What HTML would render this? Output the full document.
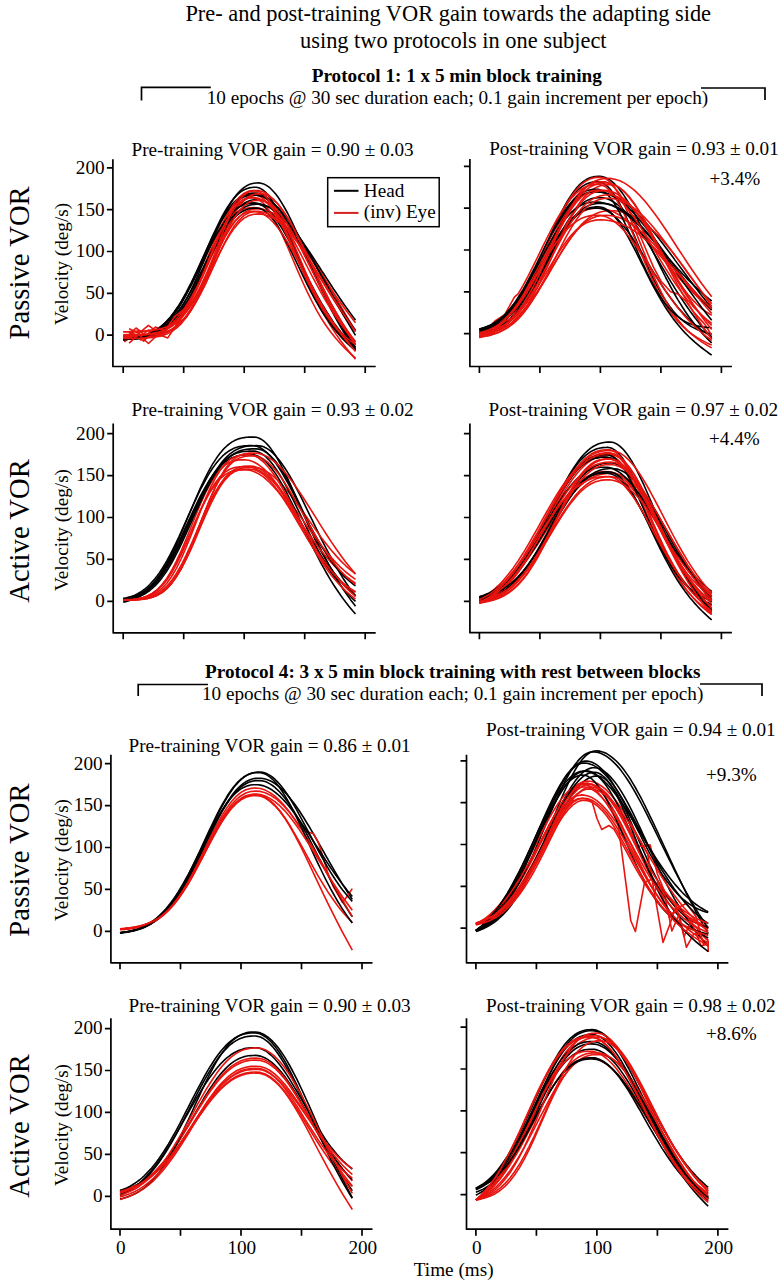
<!DOCTYPE html>
<html><head><meta charset="utf-8"><style>
html,body{margin:0;padding:0;background:#fff;width:780px;height:1280px;overflow:hidden;font-family:"Liberation Serif",serif;}
svg{display:block;}
</style></head><body>
<svg width="780" height="1280" viewBox="0 0 780 1280" font-family="Liberation Serif, serif" fill="#000">
<rect width="780" height="1280" fill="#fff"/>
<polyline points="123.2,339.4 125.6,339.4 128.0,339.3 130.5,339.2 132.9,339.1 135.3,338.9 137.7,338.7 140.1,338.5 142.6,338.2 145.0,337.8 147.4,337.4 149.8,336.8 152.2,336.2 154.7,335.4 157.1,334.5 159.5,333.4 161.9,332.2 164.3,330.8 166.8,329.1 169.2,327.3 171.6,325.2 174.0,322.8 176.4,320.2 178.9,317.3 181.3,314.1 183.7,310.6 186.1,306.9 188.5,302.8 191.0,298.5 193.4,293.9 195.8,289.1 198.2,284.1 200.6,278.9 203.1,273.6 205.5,268.1 207.9,262.5 210.3,257.0 212.7,251.4 215.2,245.9 217.6,240.6 220.0,235.3 222.4,230.3 224.8,225.5 227.3,221.0 229.7,216.8 232.1,213.0 234.5,209.5 236.9,206.4 239.4,203.7 241.8,201.4 244.2,199.5 246.6,197.9 249.0,196.8 251.5,196.0 253.9,195.5 256.3,195.2 258.7,195.2 261.1,195.6 263.6,196.5 266.0,198.0 268.4,200.1 270.8,202.7 273.2,205.8 275.7,209.4 278.1,213.4 280.5,217.8 282.9,222.5 285.3,227.5 287.8,232.7 290.2,238.1 292.6,243.7 295.0,249.3 297.4,255.0 299.9,260.7 302.3,266.4 304.7,272.0 307.1,277.4 309.5,282.7 312.0,287.9 314.4,292.8 316.8,297.5 319.2,302.0 321.6,306.3 324.1,310.3 326.5,314.2 328.9,317.7 331.3,321.1 333.7,324.2 336.2,327.2 338.6,329.9 341.0,332.5 343.4,334.9 345.8,337.1 348.3,339.2 350.7,341.2 353.1,343.1 355.5,344.9" fill="none" stroke="#000" stroke-width="1.6" stroke-linejoin="round"/>
<polyline points="124.3,341.8 134.0,334.4 143.7,341.2 153.3,330.7 163.0,334.4 172.7,321.7 186.1,308.5 191.0,300.3 195.8,291.0 200.6,280.9 205.5,270.2 210.3,259.3 215.2,248.6 220.0,238.5 224.8,229.5 229.7,221.9 234.5,215.9 239.4,211.5 244.2,208.9 249.0,207.7 253.9,207.5 258.7,208.1 263.6,209.5 268.4,211.8 273.2,214.7 278.1,218.4 282.9,222.8 287.8,227.9 292.6,233.5 297.4,239.7 302.3,246.2 307.1,253.1 312.0,260.2 316.8,267.4 321.6,274.7 326.5,282.0 331.3,289.3 336.2,296.4 341.0,303.3 345.8,310.0 350.7,316.5 355.5,322.8" fill="none" stroke="#e8140f" stroke-width="1.6" stroke-linejoin="round"/>
<polyline points="123.2,339.4 125.6,339.3 128.0,339.1 130.5,338.9 132.9,338.6 135.3,338.3 137.7,337.9 140.1,337.5 142.6,336.9 145.0,336.2 147.4,335.5 149.8,334.5 152.2,333.5 154.7,332.3 157.1,330.8 159.5,329.2 161.9,327.4 164.3,325.3 166.8,323.0 169.2,320.5 171.6,317.7 174.0,314.6 176.4,311.2 178.9,307.5 181.3,303.6 183.7,299.4 186.1,294.9 188.5,290.2 191.0,285.3 193.4,280.1 195.8,274.8 198.2,269.4 200.6,263.8 203.1,258.2 205.5,252.6 207.9,246.9 210.3,241.4 212.7,235.9 215.2,230.6 217.6,225.5 220.0,220.5 222.4,215.9 224.8,211.6 227.3,207.5 229.7,203.9 232.1,200.5 234.5,197.6 236.9,195.1 239.4,192.9 241.8,191.1 244.2,189.7 246.6,188.7 249.0,187.9 251.5,187.5 253.9,187.3 256.3,187.3 258.7,187.8 261.1,188.8 263.6,190.5 266.0,192.7 268.4,195.4 270.8,198.7 273.2,202.4 275.7,206.6 278.1,211.1 280.5,216.0 282.9,221.2 285.3,226.6 287.8,232.3 290.2,238.1 292.6,244.0 295.0,249.9 297.4,255.9 299.9,261.8 302.3,267.7 304.7,273.4 307.1,279.0 309.5,284.5 312.0,289.7 314.4,294.8 316.8,299.6 319.2,304.2 321.6,308.5 324.1,312.7 326.5,316.6 328.9,320.2 331.3,323.7 333.7,326.9 336.2,330.0 338.6,332.9 341.0,335.5 343.4,338.1 345.8,340.5 348.3,342.7 350.7,344.9 353.1,347.0 355.5,348.9" fill="none" stroke="#000" stroke-width="1.6" stroke-linejoin="round"/>
<polyline points="128.9,331.8 138.6,338.2 148.3,330.0 157.9,335.2 167.6,324.3 177.3,323.8 186.1,311.4 191.0,304.3 195.8,296.2 200.6,287.1 205.5,277.2 210.3,267.0 215.2,256.6 220.0,246.6 224.8,237.3 229.7,229.0 234.5,222.0 239.4,216.5 244.2,212.5 249.0,210.1 253.9,209.0 258.7,208.9 263.6,209.5 268.4,211.0 273.2,213.2 278.1,216.3 282.9,220.0 287.8,224.5 292.6,229.9 297.4,235.9 302.3,242.5 307.1,249.7 312.0,257.2 316.8,265.1 321.6,273.2 326.5,281.5 331.3,289.9 336.2,298.2 341.0,306.6 345.8,314.9 350.7,323.1 355.5,331.1" fill="none" stroke="#e8140f" stroke-width="1.6" stroke-linejoin="round"/>
<polyline points="123.2,339.5 125.6,339.4 128.0,339.3 130.5,339.1 132.9,339.0 135.3,338.7 137.7,338.5 140.1,338.2 142.6,337.8 145.0,337.3 147.4,336.8 149.8,336.1 152.2,335.3 154.7,334.4 157.1,333.4 159.5,332.2 161.9,330.8 164.3,329.2 166.8,327.3 169.2,325.3 171.6,323.0 174.0,320.5 176.4,317.7 178.9,314.7 181.3,311.4 183.7,307.8 186.1,304.0 188.5,299.9 191.0,295.6 193.4,291.0 195.8,286.3 198.2,281.4 200.6,276.3 203.1,271.1 205.5,265.9 207.9,260.6 210.3,255.4 212.7,250.2 215.2,245.0 217.6,240.0 220.0,235.2 222.4,230.6 224.8,226.3 227.3,222.2 229.7,218.4 232.1,215.0 234.5,211.9 236.9,209.2 239.4,206.8 241.8,204.8 244.2,203.2 246.6,201.9 249.0,200.9 251.5,200.3 253.9,199.9 256.3,199.8 258.7,199.8 261.1,200.1 263.6,200.8 266.0,201.8 268.4,203.2 270.8,204.9 273.2,206.9 275.7,209.2 278.1,211.8 280.5,214.6 282.9,217.7 285.3,221.0 287.8,224.6 290.2,228.5 292.6,232.5 295.0,236.8 297.4,241.2 299.9,245.7 302.3,250.3 304.7,255.1 307.1,259.8 309.5,264.7 312.0,269.5 314.4,274.4 316.8,279.2 319.2,284.0 321.6,288.8 324.1,293.5 326.5,298.2 328.9,302.8 331.3,307.3 333.7,311.7 336.2,316.0 338.6,320.2 341.0,324.3 343.4,328.4 345.8,332.3 348.3,336.1 350.7,339.9 353.1,343.6 355.5,347.1" fill="none" stroke="#000" stroke-width="1.6" stroke-linejoin="round"/>
<polyline points="123.2,331.7 128.0,331.7 132.9,331.6 137.7,331.4 142.6,331.2 147.4,330.7 152.2,330.1 157.1,329.0 161.9,327.5 166.8,325.3 171.6,322.2 176.4,318.2 181.3,312.9 186.1,306.4 191.0,298.6 195.8,289.4 200.6,279.2 205.5,268.1 210.3,256.4 215.2,244.7 220.0,233.4 224.8,222.9 229.7,213.7 234.5,206.0 239.4,200.2 244.2,196.1 249.0,193.8 253.9,193.0 258.7,193.3 263.6,195.9 268.4,200.6 273.2,207.3 278.1,215.6 282.9,225.2 287.8,235.9 292.6,247.2 297.4,258.8 302.3,270.2 307.1,281.2 312.0,291.6 316.8,301.3 321.6,310.0 326.5,317.9 331.3,325.0 336.2,331.2 341.0,336.8 345.8,341.7 350.7,346.2 355.5,350.4" fill="none" stroke="#e8140f" stroke-width="1.6" stroke-linejoin="round"/>
<polyline points="123.2,339.4 125.6,339.2 128.0,339.0 130.5,338.7 132.9,338.4 135.3,338.0 137.7,337.5 140.1,337.0 142.6,336.3 145.0,335.6 147.4,334.7 149.8,333.7 152.2,332.5 154.7,331.2 157.1,329.7 159.5,328.0 161.9,326.1 164.3,323.9 166.8,321.6 169.2,319.0 171.6,316.1 174.0,313.1 176.4,309.7 178.9,306.2 181.3,302.4 183.7,298.4 186.1,294.1 188.5,289.7 191.0,285.1 193.4,280.4 195.8,275.6 198.2,270.6 200.6,265.6 203.1,260.7 205.5,255.7 207.9,250.8 210.3,245.9 212.7,241.3 215.2,236.7 217.6,232.4 220.0,228.3 222.4,224.5 224.8,221.0 227.3,217.7 229.7,214.8 232.1,212.2 234.5,209.9 236.9,208.0 239.4,206.4 241.8,205.2 244.2,204.2 246.6,203.6 249.0,203.2 251.5,203.0 253.9,202.9 256.3,203.2 258.7,203.9 261.1,204.9 263.6,206.4 266.0,208.2 268.4,210.4 270.8,212.9 273.2,215.8 275.7,218.9 278.1,222.3 280.5,226.0 282.9,229.9 285.3,234.1 287.8,238.4 290.2,242.9 292.6,247.5 295.0,252.3 297.4,257.1 299.9,261.9 302.3,266.7 304.7,271.6 307.1,276.3 309.5,281.1 312.0,285.8 314.4,290.3 316.8,294.8 319.2,299.2 321.6,303.4 324.1,307.5 326.5,311.5 328.9,315.3 331.3,319.0 333.7,322.6 336.2,326.0 338.6,329.3 341.0,332.5 343.4,335.5 345.8,338.5 348.3,341.3 350.7,344.0 353.1,346.6 355.5,349.2" fill="none" stroke="#000" stroke-width="1.6" stroke-linejoin="round"/>
<polyline points="129.1,328.8 138.8,333.3 148.4,325.4 158.1,332.7 167.8,321.3 177.5,323.8 186.1,310.3 191.0,303.5 195.8,295.4 200.6,286.0 205.5,275.7 210.3,264.6 215.2,253.2 220.0,241.8 224.8,230.9 229.7,221.0 234.5,212.5 239.4,205.5 244.2,200.3 249.0,196.8 253.9,195.0 258.7,194.5 263.6,195.4 268.4,198.6 273.2,204.0 278.1,211.3 282.9,220.1 287.8,230.2 292.6,241.2 297.4,252.7 302.3,264.2 307.1,275.5 312.0,286.4 316.8,296.4 321.6,305.7 326.5,314.1 331.3,321.5 336.2,328.2 341.0,334.1 345.8,339.3 350.7,344.0 355.5,348.2" fill="none" stroke="#e8140f" stroke-width="1.6" stroke-linejoin="round"/>
<polyline points="123.2,339.4 125.6,339.3 128.0,339.1 130.5,339.0 132.9,338.7 135.3,338.5 137.7,338.2 140.1,337.8 142.6,337.3 145.0,336.8 147.4,336.2 149.8,335.4 152.2,334.5 154.7,333.4 157.1,332.2 159.5,330.8 161.9,329.2 164.3,327.4 166.8,325.4 169.2,323.1 171.6,320.5 174.0,317.7 176.4,314.6 178.9,311.2 181.3,307.5 183.7,303.6 186.1,299.3 188.5,294.8 191.0,290.0 193.4,285.0 195.8,279.8 198.2,274.4 200.6,268.8 203.1,263.1 205.5,257.4 207.9,251.6 210.3,245.8 212.7,240.1 215.2,234.4 217.6,228.9 220.0,223.6 222.4,218.5 224.8,213.6 227.3,209.1 229.7,204.8 232.1,201.0 234.5,197.5 236.9,194.3 239.4,191.6 241.8,189.3 244.2,187.4 246.6,185.8 249.0,184.6 251.5,183.8 253.9,183.3 256.3,183.0 258.7,182.9 261.1,183.2 263.6,183.9 266.0,185.1 268.4,186.7 270.8,188.7 273.2,191.2 275.7,194.1 278.1,197.3 280.5,200.9 282.9,204.8 285.3,209.0 287.8,213.5 290.2,218.3 292.6,223.3 295.0,228.6 297.4,233.9 299.9,239.4 302.3,245.0 304.7,250.7 307.1,256.4 309.5,262.1 312.0,267.7 314.4,273.4 316.8,278.9 319.2,284.4 321.6,289.7 324.1,294.9 326.5,300.0 328.9,305.0 331.3,309.8 333.7,314.4 336.2,319.0 338.6,323.3 341.0,327.6 343.4,331.6 345.8,335.6 348.3,339.4 350.7,343.1 353.1,346.7 355.5,350.1" fill="none" stroke="#000" stroke-width="1.6" stroke-linejoin="round"/>
<polyline points="123.2,336.9 128.0,336.8 132.9,336.6 137.7,336.4 142.6,335.9 147.4,335.2 152.2,334.2 157.1,332.7 161.9,330.5 166.8,327.5 171.6,323.5 176.4,318.4 181.3,312.1 186.1,304.4 191.0,295.4 195.8,285.3 200.6,274.2 205.5,262.6 210.3,250.8 215.2,239.2 220.0,228.4 224.8,218.7 229.7,210.4 234.5,203.8 239.4,199.1 244.2,196.1 249.0,194.7 253.9,194.4 258.7,195.7 263.6,198.9 268.4,203.9 273.2,210.4 278.1,218.3 282.9,227.4 287.8,237.3 292.6,248.0 297.4,258.9 302.3,269.9 307.1,280.7 312.0,291.1 316.8,301.0 321.6,310.3 326.5,318.9 331.3,326.9 336.2,334.4 341.0,341.2 345.8,347.6 350.7,353.6 355.5,359.3" fill="none" stroke="#e8140f" stroke-width="1.6" stroke-linejoin="round"/>
<polyline points="123.2,339.4 125.6,339.2 128.0,339.0 130.5,338.8 132.9,338.5 135.3,338.1 137.7,337.7 140.1,337.2 142.6,336.5 145.0,335.8 147.4,335.0 149.8,334.0 152.2,332.9 154.7,331.5 157.1,330.1 159.5,328.4 161.9,326.5 164.3,324.3 166.8,322.0 169.2,319.3 171.6,316.5 174.0,313.3 176.4,309.9 178.9,306.2 181.3,302.3 183.7,298.2 186.1,293.8 188.5,289.2 191.0,284.4 193.4,279.4 195.8,274.3 198.2,269.1 200.6,263.8 203.1,258.4 205.5,253.1 207.9,247.8 210.3,242.7 212.7,237.6 215.2,232.7 217.6,228.0 220.0,223.5 222.4,219.4 224.8,215.5 227.3,211.9 229.7,208.6 232.1,205.8 234.5,203.2 236.9,201.1 239.4,199.3 241.8,197.8 244.2,196.7 246.6,195.9 249.0,195.4 251.5,195.2 253.9,195.1 256.3,195.2 258.7,195.6 261.1,196.2 263.6,197.1 266.0,198.3 268.4,199.7 270.8,201.4 273.2,203.3 275.7,205.5 278.1,207.8 280.5,210.4 282.9,213.2 285.3,216.2 287.8,219.4 290.2,222.8 292.6,226.3 295.0,230.0 297.4,233.8 299.9,237.8 302.3,241.8 304.7,246.0 307.1,250.2 309.5,254.4 312.0,258.7 314.4,263.0 316.8,267.3 319.2,271.6 321.6,275.9 324.1,280.2 326.5,284.4 328.9,288.6 331.3,292.8 333.7,296.9 336.2,300.9 338.6,304.8 341.0,308.7 343.4,312.5 345.8,316.2 348.3,319.9 350.7,323.4 353.1,326.9 355.5,330.3" fill="none" stroke="#000" stroke-width="1.6" stroke-linejoin="round"/>
<polyline points="131.0,331.3 140.7,339.9 150.3,332.3 160.0,336.5 169.7,324.1 179.4,320.2 186.1,307.5 191.0,299.0 195.8,289.2 200.6,278.4 205.5,266.8 210.3,254.9 215.2,243.2 220.0,232.2 224.8,222.2 229.7,213.7 234.5,207.0 239.4,202.2 244.2,199.2 249.0,197.9 253.9,197.8 258.7,199.5 263.6,203.4 268.4,209.4 273.2,217.1 278.1,226.2 282.9,236.4 287.8,247.4 292.6,258.8 297.4,270.1 302.3,281.2 307.1,291.7 312.0,301.5 316.8,310.6 321.6,318.8 326.5,326.2 331.3,332.8 336.2,338.8 341.0,344.2 345.8,349.2 350.7,353.8 355.5,358.2" fill="none" stroke="#e8140f" stroke-width="1.6" stroke-linejoin="round"/>
<polyline points="123.2,339.5 125.6,339.4 128.0,339.3 130.5,339.1 132.9,338.9 135.3,338.7 137.7,338.4 140.1,338.0 142.6,337.6 145.0,337.0 147.4,336.4 149.8,335.7 152.2,334.8 154.7,333.8 157.1,332.7 159.5,331.4 161.9,329.9 164.3,328.2 166.8,326.3 169.2,324.2 171.6,321.9 174.0,319.3 176.4,316.5 178.9,313.4 181.3,310.1 183.7,306.5 186.1,302.8 188.5,298.8 191.0,294.6 193.4,290.2 195.8,285.6 198.2,280.9 200.6,276.1 203.1,271.3 205.5,266.4 207.9,261.5 210.3,256.6 212.7,251.8 215.2,247.1 217.6,242.6 220.0,238.3 222.4,234.1 224.8,230.3 227.3,226.7 229.7,223.4 232.1,220.4 234.5,217.7 236.9,215.4 239.4,213.4 241.8,211.8 244.2,210.5 246.6,209.5 249.0,208.7 251.5,208.3 253.9,208.1 256.3,208.0 258.7,208.3 261.1,209.0 263.6,210.3 266.0,212.0 268.4,214.1 270.8,216.7 273.2,219.7 275.7,223.1 278.1,226.8 280.5,230.8 282.9,235.0 285.3,239.5 287.8,244.2 290.2,249.1 292.6,254.1 295.0,259.1 297.4,264.2 299.9,269.4 302.3,274.4 304.7,279.4 307.1,284.4 309.5,289.2 312.0,293.8 314.4,298.4 316.8,302.7 319.2,306.9 321.6,310.9 324.1,314.8 326.5,318.4 328.9,321.9 331.3,325.2 333.7,328.3 336.2,331.3 338.6,334.1 341.0,336.8 343.4,339.4 345.8,341.8 348.3,344.1 350.7,346.3 353.1,348.5 355.5,350.6" fill="none" stroke="#000" stroke-width="1.6" stroke-linejoin="round"/>
<polyline points="123.2,335.9 128.0,335.9 132.9,335.8 137.7,335.7 142.6,335.6 147.4,335.3 152.2,334.9 157.1,334.1 161.9,333.1 166.8,331.5 171.6,329.2 176.4,326.1 181.3,322.0 186.1,316.8 191.0,310.3 195.8,302.6 200.6,293.8 205.5,284.1 210.3,273.6 215.2,262.9 220.0,252.4 224.8,242.4 229.7,233.4 234.5,225.8 239.4,219.8 244.2,215.4 249.0,212.8 253.9,211.6 258.7,211.4 263.6,212.2 268.4,213.9 273.2,216.6 278.1,220.2 282.9,224.6 287.8,229.8 292.6,235.7 297.4,242.3 302.3,249.4 307.1,256.9 312.0,264.6 316.8,272.5 321.6,280.4 326.5,288.3 331.3,296.1 336.2,303.7 341.0,311.1 345.8,318.3 350.7,325.1 355.5,331.7" fill="none" stroke="#e8140f" stroke-width="1.6" stroke-linejoin="round"/>
<polyline points="123.2,339.4 125.6,339.2 128.0,339.0 130.5,338.7 132.9,338.4 135.3,338.0 137.7,337.5 140.1,336.9 142.6,336.3 145.0,335.5 147.4,334.6 149.8,333.6 152.2,332.4 154.7,331.0 157.1,329.5 159.5,327.7 161.9,325.7 164.3,323.5 166.8,321.1 169.2,318.4 171.6,315.5 174.0,312.3 176.4,308.8 178.9,305.1 181.3,301.2 183.7,297.0 186.1,292.6 188.5,287.9 191.0,283.1 193.4,278.2 195.8,273.0 198.2,267.8 200.6,262.5 203.1,257.2 205.5,251.9 207.9,246.7 210.3,241.5 212.7,236.4 215.2,231.5 217.6,226.8 220.0,222.4 222.4,218.2 224.8,214.2 227.3,210.6 229.7,207.4 232.1,204.4 234.5,201.8 236.9,199.6 239.4,197.8 241.8,196.2 244.2,195.1 246.6,194.2 249.0,193.6 251.5,193.3 253.9,193.2 256.3,193.2 258.7,193.6 261.1,194.3 263.6,195.4 266.0,196.8 268.4,198.5 270.8,200.5 273.2,202.9 275.7,205.5 278.1,208.3 280.5,211.5 282.9,214.9 285.3,218.5 287.8,222.4 290.2,226.5 292.6,230.8 295.0,235.3 297.4,239.9 299.9,244.6 302.3,249.4 304.7,254.3 307.1,259.2 309.5,264.2 312.0,269.2 314.4,274.2 316.8,279.1 319.2,284.0 321.6,288.9 324.1,293.7 326.5,298.5 328.9,303.1 331.3,307.7 333.7,312.2 336.2,316.6 338.6,321.0 341.0,325.2 343.4,329.3 345.8,333.3 348.3,337.3 350.7,341.1 353.1,344.9 355.5,348.6" fill="none" stroke="#000" stroke-width="1.6" stroke-linejoin="round"/>
<polyline points="123.2,337.9 128.0,337.9 132.9,337.8 137.7,337.7 142.6,337.5 147.4,337.1 152.2,336.6 157.1,335.7 161.9,334.4 166.8,332.6 171.6,330.0 176.4,326.4 181.3,321.8 186.1,316.0 191.0,308.8 195.8,300.4 200.6,290.6 205.5,279.9 210.3,268.3 215.2,256.4 220.0,244.5 224.8,233.1 229.7,222.6 234.5,213.5 239.4,206.0 244.2,200.3 249.0,196.5 253.9,194.3 258.7,193.6 263.6,194.0 268.4,195.9 273.2,199.4 278.1,204.3 282.9,210.5 287.8,217.9 292.6,226.2 297.4,235.4 302.3,245.1 307.1,255.2 312.0,265.4 316.8,275.5 321.6,285.4 326.5,295.0 331.3,304.1 336.2,312.6 341.0,320.7 345.8,328.2 350.7,335.3 355.5,341.8" fill="none" stroke="#e8140f" stroke-width="1.6" stroke-linejoin="round"/>
<polyline points="123.2,339.4 125.6,339.2 128.0,339.1 130.5,338.8 132.9,338.6 135.3,338.3 137.7,337.9 140.1,337.4 142.6,336.9 145.0,336.2 147.4,335.5 149.8,334.6 152.2,333.6 154.7,332.5 157.1,331.2 159.5,329.7 161.9,328.1 164.3,326.2 166.8,324.2 169.2,321.9 171.6,319.4 174.0,316.7 176.4,313.7 178.9,310.5 181.3,307.1 183.7,303.5 186.1,299.6 188.5,295.5 191.0,291.3 193.4,286.9 195.8,282.3 198.2,277.7 200.6,272.9 203.1,268.1 205.5,263.2 207.9,258.4 210.3,253.6 212.7,248.8 215.2,244.2 217.6,239.8 220.0,235.5 222.4,231.4 224.8,227.5 227.3,224.0 229.7,220.6 232.1,217.6 234.5,214.9 236.9,212.6 239.4,210.5 241.8,208.7 244.2,207.3 246.6,206.2 249.0,205.4 251.5,204.8 253.9,204.5 256.3,204.3 258.7,204.3 261.1,204.6 263.6,205.0 266.0,205.8 268.4,206.7 270.8,207.9 273.2,209.4 275.7,211.0 278.1,212.9 280.5,215.0 282.9,217.3 285.3,219.8 287.8,222.5 290.2,225.4 292.6,228.6 295.0,231.9 297.4,235.4 299.9,239.0 302.3,242.8 304.7,246.7 307.1,250.7 309.5,254.8 312.0,259.0 314.4,263.3 316.8,267.6 319.2,271.9 321.6,276.3 324.1,280.6 326.5,285.0 328.9,289.4 331.3,293.8 333.7,298.1 336.2,302.4 338.6,306.7 341.0,310.9 343.4,315.1 345.8,319.2 348.3,323.3 350.7,327.4 353.1,331.4 355.5,335.3" fill="none" stroke="#000" stroke-width="1.6" stroke-linejoin="round"/>
<polyline points="126.4,337.2 136.0,328.0 145.7,335.5 155.4,327.1 165.1,330.6 174.8,316.5 186.1,308.0 191.0,299.8 195.8,290.3 200.6,279.5 205.5,267.8 210.3,255.5 215.2,243.2 220.0,231.2 224.8,220.3 229.7,210.7 234.5,202.9 239.4,197.1 244.2,193.2 249.0,191.1 253.9,190.6 258.7,191.4 263.6,194.4 268.4,199.5 273.2,206.5 278.1,214.9 282.9,224.6 287.8,235.2 292.6,246.3 297.4,257.6 302.3,268.7 307.1,279.4 312.0,289.5 316.8,298.8 321.6,307.2 326.5,314.8 331.3,321.5 336.2,327.4 341.0,332.5 345.8,337.0 350.7,341.0 355.5,344.6" fill="none" stroke="#e8140f" stroke-width="1.6" stroke-linejoin="round"/>
<polyline points="123.2,339.4 125.6,339.3 128.0,339.0 130.5,338.8 132.9,338.4 135.3,338.0 137.7,337.6 140.1,337.0 142.6,336.4 145.0,335.6 147.4,334.7 149.8,333.7 152.2,332.5 154.7,331.1 157.1,329.6 159.5,327.9 161.9,326.0 164.3,323.8 166.8,321.5 169.2,318.9 171.6,316.0 174.0,313.0 176.4,309.7 178.9,306.1 181.3,302.3 183.7,298.3 186.1,294.1 188.5,289.8 191.0,285.2 193.4,280.5 195.8,275.7 198.2,270.8 200.6,265.9 203.1,261.0 205.5,256.0 207.9,251.2 210.3,246.4 212.7,241.7 215.2,237.2 217.6,232.9 220.0,228.9 222.4,225.1 224.8,221.5 227.3,218.3 229.7,215.4 232.1,212.8 234.5,210.5 236.9,208.5 239.4,206.9 241.8,205.6 244.2,204.7 246.6,203.9 249.0,203.5 251.5,203.3 253.9,203.2 256.3,203.3 258.7,203.6 261.1,204.2 263.6,204.9 266.0,205.9 268.4,207.0 270.8,208.3 273.2,209.9 275.7,211.6 278.1,213.5 280.5,215.6 282.9,217.8 285.3,220.3 287.8,222.9 290.2,225.6 292.6,228.5 295.0,231.6 297.4,234.8 299.9,238.0 302.3,241.4 304.7,244.9 307.1,248.4 309.5,252.0 312.0,255.7 314.4,259.4 316.8,263.1 319.2,266.8 321.6,270.6 324.1,274.3 326.5,278.1 328.9,281.8 331.3,285.5 333.7,289.2 336.2,292.8 338.6,296.4 341.0,300.0 343.4,303.5 345.8,306.9 348.3,310.3 350.7,313.6 353.1,316.9 355.5,320.1" fill="none" stroke="#000" stroke-width="1.6" stroke-linejoin="round"/>
<polyline points="123.2,335.7 128.0,335.6 132.9,335.6 137.7,335.4 142.6,335.1 147.4,334.7 152.2,334.0 157.1,332.9 161.9,331.2 166.8,328.9 171.6,325.7 176.4,321.4 181.3,315.9 186.1,309.0 191.0,300.8 195.8,291.2 200.6,280.6 205.5,269.1 210.3,257.3 215.2,245.5 220.0,234.2 224.8,224.0 229.7,215.2 234.5,208.1 239.4,202.9 244.2,199.5 249.0,197.9 253.9,197.5 258.7,198.4 263.6,200.6 268.4,204.2 273.2,209.1 278.1,215.1 282.9,222.2 287.8,230.1 292.6,238.6 297.4,247.7 302.3,257.0 307.1,266.5 312.0,275.8 316.8,284.9 321.6,293.7 326.5,302.0 331.3,309.9 336.2,317.3 341.0,324.2 345.8,330.6 350.7,336.5 355.5,342.0" fill="none" stroke="#e8140f" stroke-width="1.6" stroke-linejoin="round"/>
<polyline points="129.1,343.1 138.8,334.5 148.5,343.5 158.2,334.2 167.8,337.9 177.5,323.3 186.1,317.5 191.0,310.3 195.8,301.9 200.6,292.3 205.5,281.6 210.3,270.3 215.2,258.6 220.0,247.1 224.8,236.2 229.7,226.2 234.5,217.7 239.4,210.8 244.2,205.6 249.0,202.3 253.9,200.6 258.7,200.2 263.6,200.8 268.4,203.0 273.2,206.6 278.1,211.5 282.9,217.6 287.8,224.7 292.6,232.8 297.4,241.6 302.3,250.9 307.1,260.6 312.0,270.3 316.8,280.0 321.6,289.4 326.5,298.5 331.3,307.3 336.2,315.6 341.0,323.4 345.8,330.7 350.7,337.6 355.5,344.1" fill="none" stroke="#e8140f" stroke-width="1.6" stroke-linejoin="round"/>
<polyline points="123.2,334.7 128.0,334.6 132.9,334.6 137.7,334.4 142.6,334.2 147.4,333.9 152.2,333.3 157.1,332.4 161.9,331.1 166.8,329.2 171.6,326.5 176.4,322.9 181.3,318.2 186.1,312.3 191.0,305.2 195.8,296.8 200.6,287.5 205.5,277.3 210.3,266.6 215.2,256.0 220.0,245.7 224.8,236.4 229.7,228.2 234.5,221.6 239.4,216.6 244.2,213.4 249.0,211.7 253.9,211.3 258.7,212.0 263.6,214.0 268.4,217.5 273.2,222.2 278.1,228.1 282.9,234.9 287.8,242.6 292.6,250.9 297.4,259.8 302.3,268.8 307.1,278.0 312.0,287.0 316.8,295.8 321.6,304.2 326.5,312.3 331.3,319.8 336.2,327.0 341.0,333.6 345.8,339.9 350.7,345.8 355.5,351.4" fill="none" stroke="#e8140f" stroke-width="1.6" stroke-linejoin="round"/>
<polyline points="123.2,331.7 128.0,331.7 132.9,331.6 137.7,331.5 142.6,331.3 147.4,331.0 152.2,330.4 157.1,329.6 161.9,328.4 166.8,326.7 171.6,324.4 176.4,321.2 181.3,317.1 186.1,312.0 191.0,305.8 195.8,298.5 200.6,290.3 205.5,281.2 210.3,271.6 215.2,261.8 220.0,252.2 224.8,243.1 229.7,234.9 234.5,227.9 239.4,222.2 244.2,218.1 249.0,215.5 253.9,214.2 258.7,213.9 263.6,214.4 268.4,215.9 273.2,218.2 278.1,221.5 282.9,225.5 287.8,230.3 292.6,235.8 297.4,242.1 302.3,248.8 307.1,256.1 312.0,263.6 316.8,271.3 321.6,279.2 326.5,287.0 331.3,294.8 336.2,302.5 341.0,310.0 345.8,317.3 350.7,324.3 355.5,331.1" fill="none" stroke="#e8140f" stroke-width="1.6" stroke-linejoin="round"/>
<polyline points="123.2,338.5 128.0,338.4 132.9,338.4 137.7,338.3 142.6,338.2 147.4,337.9 152.2,337.5 157.1,336.8 161.9,335.7 166.8,334.1 171.6,331.6 176.4,328.2 181.3,323.6 186.1,317.6 191.0,310.1 195.8,301.0 200.6,290.4 205.5,278.6 210.3,265.8 215.2,252.7 220.0,239.7 224.8,227.4 229.7,216.4 234.5,207.1 239.4,199.9 244.2,194.8 249.0,191.8 253.9,190.6 258.7,190.6 263.6,192.0 268.4,194.8 273.2,199.0 278.1,204.3 282.9,210.7 287.8,218.2 292.6,226.5 297.4,235.6 302.3,245.2 307.1,255.1 312.0,265.2 316.8,275.2 321.6,285.1 326.5,294.7 331.3,304.0 336.2,312.9 341.0,321.4 345.8,329.5 350.7,337.2 355.5,344.4" fill="none" stroke="#e8140f" stroke-width="1.6" stroke-linejoin="round"/>
<path d="M112.9 159.2V366.5H375.7M106.9 335.1H112.9M106.9 293.3H112.9M106.9 251.5H112.9M106.9 209.7H112.9M106.9 167.9H112.9M123.2 366.5V373.0M183.7 366.5V373.0M244.2 366.5V373.0M304.7 366.5V373.0M365.2 366.5V373.0" fill="none" stroke="#000" stroke-width="1.7" stroke-linejoin="round"/>
<text x="104.6" y="340.9" font-size="19.2" text-anchor="end" >0</text>
<text x="104.6" y="299.1" font-size="19.2" text-anchor="end" >50</text>
<text x="104.6" y="257.3" font-size="19.2" text-anchor="end" >100</text>
<text x="104.6" y="215.5" font-size="19.2" text-anchor="end" >150</text>
<text x="104.6" y="173.7" font-size="19.2" text-anchor="end" >200</text>
<polyline points="479.4,333.0 481.8,332.6 484.2,332.1 486.7,331.6 489.1,330.9 491.5,330.1 493.9,329.2 496.3,328.1 498.8,326.9 501.2,325.5 503.6,323.8 506.0,322.0 508.4,319.9 510.9,317.5 513.3,314.9 515.7,312.0 518.1,308.9 520.5,305.4 523.0,301.7 525.4,297.7 527.8,293.5 530.2,289.0 532.6,284.3 535.1,279.3 537.5,274.2 539.9,268.9 542.3,263.6 544.7,258.1 547.2,252.7 549.6,247.2 552.0,241.9 554.4,236.6 556.8,231.5 559.3,226.6 561.7,221.9 564.1,217.4 566.5,213.3 568.9,209.5 571.4,206.1 573.8,203.1 576.2,200.4 578.6,198.1 581.0,196.2 583.5,194.7 585.9,193.5 588.3,192.7 590.7,192.2 593.1,191.9 595.6,191.9 598.0,191.9 600.4,192.2 602.8,192.5 605.2,193.1 607.7,193.8 610.1,194.6 612.5,195.6 614.9,196.7 617.3,197.9 619.8,199.3 622.2,200.9 624.6,202.5 627.0,204.4 629.4,206.3 631.9,208.4 634.3,210.6 636.7,212.9 639.1,215.4 641.5,217.9 644.0,220.5 646.4,223.3 648.8,226.1 651.2,229.0 653.6,231.9 656.1,234.9 658.5,238.0 660.9,241.2 663.3,244.3 665.7,247.5 668.2,250.8 670.6,254.0 673.0,257.3 675.4,260.6 677.8,263.9 680.3,267.2 682.7,270.5 685.1,273.7 687.5,277.0 689.9,280.3 692.4,283.5 694.8,286.7 697.2,289.8 699.6,293.0 702.0,296.1 704.5,299.1 706.9,302.2 709.3,305.1 711.7,308.1" fill="none" stroke="#000" stroke-width="1.6" stroke-linejoin="round"/>
<polyline points="479.4,336.2 484.2,334.5 489.1,332.2 493.9,329.4 498.8,325.9 503.6,321.6 508.4,316.7 513.3,310.9 518.1,304.4 523.0,297.2 527.8,289.4 532.6,281.2 537.5,272.6 542.3,263.8 547.2,255.2 552.0,246.8 556.8,238.9 561.7,231.7 566.5,225.3 571.4,219.9 576.2,215.6 581.0,212.3 585.9,210.0 590.7,208.7 595.6,208.2 600.4,208.2 605.2,208.9 610.1,210.4 614.9,212.5 619.8,215.2 624.6,218.6 629.4,222.5 634.3,226.9 639.1,231.8 644.0,236.9 648.8,242.4 653.6,248.0 658.5,253.8 663.3,259.6 668.2,265.3 673.0,271.0 677.8,276.6 682.7,282.0 687.5,287.1 692.4,292.0 697.2,296.6 702.0,300.8 706.9,304.8 711.7,308.4" fill="none" stroke="#e8140f" stroke-width="1.6" stroke-linejoin="round"/>
<polyline points="479.4,332.2 481.8,331.5 484.2,330.8 486.7,330.0 489.1,329.0 491.5,327.9 493.9,326.6 496.3,325.1 498.8,323.5 501.2,321.6 503.6,319.5 506.0,317.2 508.4,314.7 510.9,311.9 513.3,308.8 515.7,305.5 518.1,301.9 520.5,298.1 523.0,294.0 525.4,289.7 527.8,285.2 530.2,280.4 532.6,275.5 535.1,270.4 537.5,265.2 539.9,259.9 542.3,254.5 544.7,249.0 547.2,243.6 549.6,238.2 552.0,232.9 554.4,227.7 556.8,222.7 559.3,217.9 561.7,213.2 564.1,208.9 566.5,204.8 568.9,201.0 571.4,197.6 573.8,194.5 576.2,191.7 578.6,189.3 581.0,187.3 583.5,185.6 585.9,184.3 588.3,183.2 590.7,182.5 593.1,182.1 595.6,181.9 598.0,181.8 600.4,182.1 602.8,183.0 605.2,184.5 607.7,186.6 610.1,189.1 612.5,192.2 614.9,195.7 617.3,199.6 619.8,204.0 622.2,208.7 624.6,213.6 627.0,218.9 629.4,224.3 631.9,229.8 634.3,235.5 636.7,241.2 639.1,247.0 641.5,252.6 644.0,258.3 646.4,263.8 648.8,269.1 651.2,274.3 653.6,279.3 656.1,284.1 658.5,288.6 660.9,293.0 663.3,297.0 665.7,300.8 668.2,304.3 670.6,307.6 673.0,310.7 675.4,313.5 677.8,316.0 680.3,318.4 682.7,320.5 685.1,322.4 687.5,324.1 689.9,325.7 692.4,327.1 694.8,328.3 697.2,329.5 699.6,330.5 702.0,331.3 704.5,332.1 706.9,332.8 709.3,333.5 711.7,334.0" fill="none" stroke="#000" stroke-width="1.6" stroke-linejoin="round"/>
<polyline points="479.6,332.1 489.3,334.9 499.0,327.1 508.7,326.3 518.1,315.6 523.0,310.5 527.8,304.7 532.6,298.2 537.5,291.2 542.3,283.6 547.2,275.7 552.0,267.6 556.8,259.5 561.7,251.6 566.5,244.0 571.4,236.9 576.2,230.5 581.0,224.9 585.9,220.3 590.7,216.6 595.6,213.8 600.4,212.0 605.2,211.0 610.1,210.7 614.9,210.8 619.8,211.5 624.6,212.7 629.4,214.4 634.3,216.6 639.1,219.4 644.0,222.7 648.8,226.6 653.6,231.0 658.5,235.9 663.3,241.2 668.2,246.9 673.0,252.8 677.8,259.1 682.7,265.5 687.5,272.2 692.4,278.9 697.2,285.7 702.0,292.6 706.9,299.5 711.7,306.4" fill="none" stroke="#e8140f" stroke-width="1.6" stroke-linejoin="round"/>
<polyline points="479.4,333.1 481.8,332.7 484.2,332.3 486.7,331.8 489.1,331.1 491.5,330.4 493.9,329.6 496.3,328.6 498.8,327.4 501.2,326.1 503.6,324.6 506.0,323.0 508.4,321.1 510.9,319.0 513.3,316.6 515.7,314.1 518.1,311.3 520.5,308.2 523.0,304.9 525.4,301.3 527.8,297.5 530.2,293.5 532.6,289.3 535.1,284.9 537.5,280.3 539.9,275.5 542.3,270.7 544.7,265.7 547.2,260.7 549.6,255.7 552.0,250.7 554.4,245.8 556.8,240.9 559.3,236.2 561.7,231.6 564.1,227.3 566.5,223.2 568.9,219.3 571.4,215.7 573.8,212.5 576.2,209.5 578.6,206.9 581.0,204.6 583.5,202.7 585.9,201.1 588.3,199.9 590.7,198.9 593.1,198.3 595.6,197.9 598.0,197.7 600.4,197.6 602.8,197.8 605.2,198.3 607.7,199.0 610.1,200.0 612.5,201.3 614.9,202.8 617.3,204.5 619.8,206.5 622.2,208.7 624.6,211.0 627.0,213.7 629.4,216.5 631.9,219.5 634.3,222.7 636.7,226.1 639.1,229.6 641.5,233.2 644.0,237.0 646.4,240.8 648.8,244.7 651.2,248.7 653.6,252.8 656.1,256.9 658.5,261.0 660.9,265.1 663.3,269.2 665.7,273.2 668.2,277.3 670.6,281.3 673.0,285.2 675.4,289.1 677.8,292.9 680.3,296.7 682.7,300.4 685.1,304.0 687.5,307.5 689.9,310.9 692.4,314.2 694.8,317.5 697.2,320.6 699.6,323.7 702.0,326.6 704.5,329.5 706.9,332.3 709.3,335.0 711.7,337.7" fill="none" stroke="#000" stroke-width="1.6" stroke-linejoin="round"/>
<polyline points="479.4,332.8 484.2,331.4 489.1,329.5 493.9,327.0 498.8,323.9 503.6,320.1 508.4,315.4 513.3,309.9 518.1,303.5 523.0,296.1 527.8,287.9 532.6,278.9 537.5,269.4 542.3,259.3 547.2,249.1 552.0,238.9 556.8,229.0 561.7,219.5 566.5,210.9 571.4,203.2 576.2,196.6 581.0,191.2 585.9,187.1 590.7,184.2 595.6,182.5 600.4,181.8 605.2,181.8 610.1,183.7 614.9,187.9 619.8,194.1 624.6,202.1 629.4,211.5 634.3,222.1 639.1,233.3 644.0,244.8 648.8,256.3 653.6,267.4 653.6,267.4 660.9,281.0 670.6,291.7 677.8,293.9 685.1,300.3 694.8,313.4 704.5,323.9 711.7,335.2" fill="none" stroke="#e8140f" stroke-width="1.6" stroke-linejoin="round"/>
<polyline points="479.4,329.1 481.8,328.5 484.2,327.7 486.7,326.9 489.1,326.0 491.5,324.9 493.9,323.6 496.3,322.3 498.8,320.7 501.2,319.0 503.6,317.1 506.0,315.0 508.4,312.8 510.9,310.3 513.3,307.6 515.7,304.8 518.1,301.7 520.5,298.5 523.0,295.0 525.4,291.4 527.8,287.7 530.2,283.8 532.6,279.7 535.1,275.6 537.5,271.4 539.9,267.2 542.3,262.9 544.7,258.6 547.2,254.3 549.6,250.2 552.0,246.0 554.4,242.0 556.8,238.2 559.3,234.5 561.7,231.0 564.1,227.7 566.5,224.7 568.9,221.9 571.4,219.3 573.8,217.0 576.2,215.0 578.6,213.3 581.0,211.8 583.5,210.6 585.9,209.7 588.3,209.0 590.7,208.5 593.1,208.3 595.6,208.1 598.0,208.2 600.4,208.4 602.8,209.0 605.2,210.0 607.7,211.2 610.1,212.7 612.5,214.5 614.9,216.6 617.3,218.9 619.8,221.5 622.2,224.2 624.6,227.2 627.0,230.4 629.4,233.8 631.9,237.3 634.3,241.0 636.7,244.8 639.1,248.6 641.5,252.5 644.0,256.5 646.4,260.5 648.8,264.4 651.2,268.4 653.6,272.4 656.1,276.2 658.5,280.1 660.9,283.8 663.3,287.5 665.7,291.1 668.2,294.5 670.6,297.9 673.0,301.1 675.4,304.2 677.8,307.2 680.3,310.1 682.7,312.8 685.1,315.4 687.5,317.9 689.9,320.2 692.4,322.5 694.8,324.6 697.2,326.6 699.6,328.5 702.0,330.3 704.5,332.0 706.9,333.6 709.3,335.1 711.7,336.6" fill="none" stroke="#000" stroke-width="1.6" stroke-linejoin="round"/>
<polyline points="479.4,336.6 484.2,335.6 489.1,334.2 493.9,332.3 498.8,329.9 503.6,326.9 508.4,323.1 513.3,318.6 518.1,313.2 523.0,306.9 527.8,299.7 532.6,291.7 537.5,282.9 542.3,273.5 547.2,263.7 552.0,253.6 556.8,243.5 561.7,233.6 566.5,224.2 571.4,215.4 576.2,207.6 581.0,200.9 585.9,195.3 590.7,190.9 595.6,187.7 600.4,185.8 605.2,184.8 610.1,184.6 614.9,185.4 619.8,187.8 624.6,191.7 629.4,197.0 634.3,203.5 639.1,210.9 644.0,219.2 648.8,228.0 653.6,237.0 658.5,246.2 663.3,255.3 668.2,264.1 673.0,272.5 677.8,280.3 682.7,287.4 687.5,293.9 692.4,299.6 697.2,304.5 702.0,308.8 706.9,312.3 711.7,315.2" fill="none" stroke="#e8140f" stroke-width="1.6" stroke-linejoin="round"/>
<polyline points="479.4,329.2 481.8,328.6 484.2,328.0 486.7,327.2 489.1,326.3 491.5,325.3 493.9,324.1 496.3,322.8 498.8,321.2 501.2,319.5 503.6,317.6 506.0,315.4 508.4,313.0 510.9,310.4 513.3,307.5 515.7,304.3 518.1,300.9 520.5,297.2 523.0,293.2 525.4,289.0 527.8,284.6 530.2,280.0 532.6,275.1 535.1,270.0 537.5,264.8 539.9,259.5 542.3,254.1 544.7,248.6 547.2,243.1 549.6,237.6 552.0,232.1 554.4,226.8 556.8,221.6 559.3,216.5 561.7,211.6 564.1,207.0 566.5,202.7 568.9,198.6 571.4,194.9 573.8,191.5 576.2,188.4 578.6,185.7 581.0,183.4 583.5,181.4 585.9,179.8 588.3,178.5 590.7,177.6 593.1,176.9 595.6,176.5 598.0,176.4 600.4,176.4 602.8,176.7 605.2,177.4 607.7,178.6 610.1,180.1 612.5,182.0 614.9,184.2 617.3,186.8 619.8,189.7 622.2,192.9 624.6,196.4 627.0,200.2 629.4,204.2 631.9,208.5 634.3,212.9 636.7,217.6 639.1,222.4 641.5,227.3 644.0,232.3 646.4,237.4 648.8,242.5 651.2,247.6 653.6,252.7 656.1,257.8 658.5,262.9 660.9,267.8 663.3,272.7 665.7,277.5 668.2,282.2 670.6,286.8 673.0,291.2 675.4,295.5 677.8,299.6 680.3,303.6 682.7,307.5 685.1,311.2 687.5,314.7 689.9,318.1 692.4,321.4 694.8,324.5 697.2,327.5 699.6,330.3 702.0,333.1 704.5,335.7 706.9,338.2 709.3,340.6 711.7,342.9" fill="none" stroke="#000" stroke-width="1.6" stroke-linejoin="round"/>
<polyline points="485.3,330.8 495.0,321.0 504.7,314.6 514.4,297.2 518.1,293.9 523.0,285.6 527.8,276.6 532.6,267.1 537.5,257.3 542.3,247.4 547.2,237.7 552.0,228.3 556.8,219.4 561.7,211.3 566.5,204.2 571.4,198.1 576.2,193.1 581.0,189.3 585.9,186.7 590.7,185.1 595.6,184.5 600.4,184.5 605.2,186.5 610.1,190.8 614.9,197.1 619.8,205.3 624.6,215.0 629.4,225.7 634.3,237.1 639.1,248.9 644.0,260.5 648.8,271.7 653.6,282.3 658.5,292.1 663.3,300.9 668.2,308.7 673.0,315.5 677.8,321.4 682.7,326.5 687.5,330.8 692.4,334.5 697.2,337.6 702.0,340.4 706.9,342.9 711.7,345.1" fill="none" stroke="#e8140f" stroke-width="1.6" stroke-linejoin="round"/>
<polyline points="479.4,329.0 481.8,328.3 484.2,327.5 486.7,326.6 489.1,325.6 491.5,324.4 493.9,323.0 496.3,321.5 498.8,319.8 501.2,317.9 503.6,315.8 506.0,313.5 508.4,310.9 510.9,308.1 513.3,305.1 515.7,301.9 518.1,298.4 520.5,294.7 523.0,290.8 525.4,286.7 527.8,282.4 530.2,277.9 532.6,273.3 535.1,268.6 537.5,263.7 539.9,258.8 542.3,253.9 544.7,249.0 547.2,244.1 549.6,239.2 552.0,234.5 554.4,229.9 556.8,225.5 559.3,221.3 561.7,217.3 564.1,213.5 566.5,210.0 568.9,206.8 571.4,204.0 573.8,201.4 576.2,199.1 578.6,197.2 581.0,195.6 583.5,194.3 585.9,193.3 588.3,192.5 590.7,192.1 593.1,191.8 595.6,191.7 598.0,191.8 600.4,192.0 602.8,192.4 605.2,193.1 607.7,193.9 610.1,194.9 612.5,196.0 614.9,197.4 617.3,198.9 619.8,200.6 622.2,202.4 624.6,204.4 627.0,206.6 629.4,208.9 631.9,211.3 634.3,213.9 636.7,216.6 639.1,219.3 641.5,222.2 644.0,225.2 646.4,228.3 648.8,231.4 651.2,234.6 653.6,237.8 656.1,241.0 658.5,244.3 660.9,247.7 663.3,251.0 665.7,254.3 668.2,257.7 670.6,261.0 673.0,264.3 675.4,267.6 677.8,270.8 680.3,274.0 682.7,277.2 685.1,280.3 687.5,283.3 689.9,286.3 692.4,289.2 694.8,292.1 697.2,294.9 699.6,297.6 702.0,300.3 704.5,302.8 706.9,305.3 709.3,307.7 711.7,310.1" fill="none" stroke="#000" stroke-width="1.6" stroke-linejoin="round"/>
<polyline points="479.4,335.5 484.2,334.0 489.1,332.0 493.9,329.4 498.8,326.0 503.6,321.9 508.4,316.8 513.3,310.7 518.1,303.6 523.0,295.5 527.8,286.5 532.6,276.7 537.5,266.2 542.3,255.3 547.2,244.2 552.0,233.2 556.8,222.7 561.7,212.8 566.5,203.9 571.4,196.2 576.2,189.7 581.0,184.6 585.9,181.0 590.7,178.6 595.6,177.4 600.4,177.2 605.2,178.4 610.1,182.1 614.9,188.1 619.8,196.0 624.6,205.6 629.4,216.4 634.3,228.1 639.1,240.4 644.0,252.6 648.8,264.6 653.6,276.1 658.5,286.7 663.3,296.4 668.2,305.2 673.0,312.9 677.8,319.6 682.7,325.5 687.5,330.5 692.4,334.9 697.2,338.7 702.0,342.1 706.9,345.1 711.7,347.9" fill="none" stroke="#e8140f" stroke-width="1.6" stroke-linejoin="round"/>
<polyline points="479.4,335.9 481.8,335.4 484.2,334.9 486.7,334.2 489.1,333.5 491.5,332.6 493.9,331.6 496.3,330.5 498.8,329.2 501.2,327.7 503.6,326.1 506.0,324.2 508.4,322.1 510.9,319.9 513.3,317.4 515.7,314.7 518.1,311.7 520.5,308.6 523.0,305.2 525.4,301.6 527.8,297.8 530.2,293.8 532.6,289.6 535.1,285.3 537.5,280.8 539.9,276.2 542.3,271.6 544.7,266.9 547.2,262.2 549.6,257.5 552.0,252.9 554.4,248.3 556.8,243.9 559.3,239.6 561.7,235.6 564.1,231.7 566.5,228.0 568.9,224.6 571.4,221.5 573.8,218.7 576.2,216.2 578.6,214.0 581.0,212.2 583.5,210.6 585.9,209.3 588.3,208.3 590.7,207.6 593.1,207.2 595.6,206.9 598.0,206.9 600.4,207.0 602.8,207.6 605.2,208.6 607.7,210.1 610.1,212.0 612.5,214.3 614.9,217.0 617.3,220.0 619.8,223.4 622.2,227.0 624.6,230.9 627.0,235.1 629.4,239.4 631.9,244.0 634.3,248.6 636.7,253.4 639.1,258.2 641.5,263.1 644.0,268.0 646.4,272.8 648.8,277.6 651.2,282.3 653.6,286.9 656.1,291.4 658.5,295.7 660.9,299.9 663.3,303.9 665.7,307.8 668.2,311.5 670.6,315.0 673.0,318.4 675.4,321.6 677.8,324.6 680.3,327.5 682.7,330.3 685.1,332.9 687.5,335.3 689.9,337.7 692.4,339.9 694.8,342.1 697.2,344.1 699.6,346.1 702.0,348.0 704.5,349.9 706.9,351.7 709.3,353.5 711.7,355.2" fill="none" stroke="#000" stroke-width="1.6" stroke-linejoin="round"/>
<polyline points="479.4,335.4 484.2,334.7 489.1,333.7 493.9,332.3 498.8,330.5 503.6,328.1 508.4,325.2 513.3,321.6 518.1,317.3 523.0,312.2 527.8,306.3 532.6,299.7 537.5,292.5 542.3,284.7 547.2,276.5 552.0,268.2 556.8,259.9 561.7,251.8 566.5,244.2 571.4,237.3 576.2,231.2 581.0,226.0 585.9,221.9 590.7,218.8 595.6,216.8 600.4,215.7 605.2,215.3 610.1,215.5 614.9,216.3 619.8,217.8 624.6,220.0 629.4,222.7 634.3,226.0 639.1,229.9 644.0,234.2 648.8,238.9 653.6,244.0 658.5,249.4 663.3,254.9 668.2,260.6 673.0,266.4 677.8,272.1 682.7,277.9 687.5,283.5 692.4,288.9 697.2,294.2 702.0,299.3 706.9,304.1 711.7,308.7" fill="none" stroke="#e8140f" stroke-width="1.6" stroke-linejoin="round"/>
<polyline points="479.4,330.7 481.8,329.9 484.2,329.0 486.7,327.9 489.1,326.8 491.5,325.4 493.9,323.9 496.3,322.2 498.8,320.3 501.2,318.3 503.6,316.0 506.0,313.5 508.4,310.7 510.9,307.8 513.3,304.6 515.7,301.2 518.1,297.5 520.5,293.7 523.0,289.6 525.4,285.4 527.8,281.0 530.2,276.4 532.6,271.7 535.1,266.9 537.5,262.0 539.9,257.1 542.3,252.1 544.7,247.2 547.2,242.2 549.6,237.4 552.0,232.7 554.4,228.1 556.8,223.7 559.3,219.4 561.7,215.4 564.1,211.7 566.5,208.2 568.9,205.0 571.4,202.0 573.8,199.4 576.2,197.1 578.6,195.2 581.0,193.5 583.5,192.1 585.9,191.1 588.3,190.3 590.7,189.7 593.1,189.4 595.6,189.3 598.0,189.3 600.4,189.9 602.8,191.0 605.2,192.6 607.7,194.8 610.1,197.6 612.5,200.8 614.9,204.4 617.3,208.5 619.8,212.9 622.2,217.6 624.6,222.6 627.0,227.8 629.4,233.2 631.9,238.7 634.3,244.2 636.7,249.7 639.1,255.2 641.5,260.6 644.0,265.9 646.4,271.1 648.8,276.0 651.2,280.8 653.6,285.4 656.1,289.7 658.5,293.7 660.9,297.5 663.3,301.0 665.7,304.3 668.2,307.3 670.6,310.0 673.0,312.5 675.4,314.7 677.8,316.7 680.3,318.5 682.7,320.1 685.1,321.5 687.5,322.7 689.9,323.7 692.4,324.6 694.8,325.3 697.2,325.9 699.6,326.4 702.0,326.8 704.5,327.1 706.9,327.4 709.3,327.5 711.7,327.6" fill="none" stroke="#000" stroke-width="1.6" stroke-linejoin="round"/>
<polyline points="482.9,332.7 492.6,334.1 502.3,322.5 512.0,317.8 518.1,306.9 523.0,299.7 527.8,291.6 532.6,282.8 537.5,273.4 542.3,263.5 547.2,253.5 552.0,243.4 556.8,233.5 561.7,224.0 566.5,215.3 571.4,207.3 576.2,200.4 581.0,194.7 585.9,190.1 590.7,186.7 595.6,184.4 600.4,183.2 605.2,182.8 610.1,183.2 614.9,184.9 619.8,188.0 624.6,192.3 629.4,197.8 634.3,204.3 639.1,211.6 644.0,219.7 648.8,228.3 653.6,237.3 658.5,246.4 663.3,255.6 668.2,264.6 673.0,273.3 677.8,281.6 682.7,289.5 687.5,296.9 692.4,303.7 697.2,309.9 702.0,315.6 706.9,320.8 711.7,325.4" fill="none" stroke="#e8140f" stroke-width="1.6" stroke-linejoin="round"/>
<polyline points="479.4,330.3 481.8,329.9 484.2,329.3 486.7,328.7 489.1,327.9 491.5,327.0 493.9,326.1 496.3,324.9 498.8,323.7 501.2,322.2 503.6,320.6 506.0,318.8 508.4,316.8 510.9,314.7 513.3,312.3 515.7,309.7 518.1,306.9 520.5,303.9 523.0,300.7 525.4,297.3 527.8,293.7 530.2,289.9 532.6,285.9 535.1,281.8 537.5,277.6 539.9,273.3 542.3,268.8 544.7,264.4 547.2,259.9 549.6,255.4 552.0,250.9 554.4,246.5 556.8,242.2 559.3,238.1 561.7,234.1 564.1,230.2 566.5,226.6 568.9,223.2 571.4,220.0 573.8,217.1 576.2,214.5 578.6,212.2 581.0,210.2 583.5,208.4 585.9,206.9 588.3,205.8 590.7,204.8 593.1,204.2 595.6,203.7 598.0,203.5 600.4,203.4 602.8,203.5 605.2,203.7 607.7,204.1 610.1,204.6 612.5,205.3 614.9,206.2 617.3,207.3 619.8,208.5 622.2,209.9 624.6,211.4 627.0,213.1 629.4,214.9 631.9,216.9 634.3,219.1 636.7,221.4 639.1,223.8 641.5,226.4 644.0,229.1 646.4,231.8 648.8,234.7 651.2,237.7 653.6,240.8 656.1,243.9 658.5,247.2 660.9,250.4 663.3,253.8 665.7,257.1 668.2,260.5 670.6,263.9 673.0,267.4 675.4,270.8 677.8,274.3 680.3,277.7 682.7,281.2 685.1,284.6 687.5,288.0 689.9,291.4 692.4,294.8 694.8,298.1 697.2,301.4 699.6,304.7 702.0,307.9 704.5,311.0 706.9,314.2 709.3,317.2 711.7,320.3" fill="none" stroke="#000" stroke-width="1.6" stroke-linejoin="round"/>
<polyline points="479.4,333.6 484.2,332.8 489.1,331.6 493.9,330.0 498.8,327.9 503.6,325.3 508.4,322.0 513.3,318.0 518.1,313.3 523.0,307.7 527.8,301.5 532.6,294.6 537.5,287.2 542.3,279.3 547.2,271.2 552.0,263.2 556.8,255.3 561.7,247.9 566.5,241.1 571.4,235.1 576.2,230.1 581.0,226.1 585.9,223.1 590.7,221.2 595.6,220.1 600.4,219.8 605.2,220.0 610.1,220.7 614.9,221.8 619.8,223.4 624.6,225.4 629.4,227.9 634.3,230.9 639.1,234.4 644.0,238.3 648.8,242.5 653.6,247.1 658.5,252.0 663.3,257.2 668.2,262.5 673.0,268.0 677.8,273.6 682.7,279.3 687.5,285.1 692.4,290.9 697.2,296.6 702.0,302.3 706.9,307.9 711.7,313.5" fill="none" stroke="#e8140f" stroke-width="1.6" stroke-linejoin="round"/>
<polyline points="479.4,332.6 481.8,331.8 484.2,330.8 486.7,329.6 489.1,328.4 491.5,326.9 493.9,325.4 496.3,323.6 498.8,321.6 501.2,319.5 503.6,317.2 506.0,314.7 508.4,311.9 510.9,309.0 513.3,305.9 515.7,302.5 518.1,299.0 520.5,295.3 523.0,291.4 525.4,287.4 527.8,283.2 530.2,279.0 532.6,274.6 535.1,270.1 537.5,265.6 539.9,261.1 542.3,256.6 544.7,252.1 547.2,247.7 549.6,243.3 552.0,239.1 554.4,235.0 556.8,231.1 559.3,227.4 561.7,223.9 564.1,220.6 566.5,217.6 568.9,214.9 571.4,212.4 573.8,210.2 576.2,208.3 578.6,206.6 581.0,205.3 583.5,204.2 585.9,203.3 588.3,202.7 590.7,202.3 593.1,202.1 595.6,202.0 598.0,202.1 600.4,202.3 602.8,202.7 605.2,203.2 607.7,203.9 610.1,204.8 612.5,205.8 614.9,206.9 617.3,208.3 619.8,209.7 622.2,211.3 624.6,213.0 627.0,214.8 629.4,216.8 631.9,218.8 634.3,221.0 636.7,223.2 639.1,225.6 641.5,228.0 644.0,230.5 646.4,233.1 648.8,235.7 651.2,238.3 653.6,241.0 656.1,243.8 658.5,246.5 660.9,249.3 663.3,252.1 665.7,254.9 668.2,257.7 670.6,260.5 673.0,263.2 675.4,266.0 677.8,268.7 680.3,271.3 682.7,274.0 685.1,276.5 687.5,279.1 689.9,281.5 692.4,284.0 694.8,286.3 697.2,288.6 699.6,290.9 702.0,293.0 704.5,295.1 706.9,297.1 709.3,299.1 711.7,301.0" fill="none" stroke="#000" stroke-width="1.6" stroke-linejoin="round"/>
<polyline points="479.4,335.3 484.2,334.4 489.1,333.2 493.9,331.4 498.8,329.1 503.6,326.0 508.4,322.2 513.3,317.4 518.1,311.5 523.0,304.6 527.8,296.7 532.6,287.8 537.5,278.1 542.3,267.8 547.2,257.1 552.0,246.4 556.8,235.9 561.7,226.0 566.5,217.0 571.4,209.1 576.2,202.5 581.0,197.4 585.9,193.7 590.7,191.4 595.6,190.3 600.4,190.1 605.2,190.8 610.1,192.8 614.9,195.9 619.8,200.0 624.6,205.1 629.4,211.0 634.3,217.7 639.1,224.9 644.0,232.6 648.8,240.6 653.6,248.7 658.5,256.8 663.3,264.8 668.2,272.6 673.0,280.1 677.8,287.1 682.7,293.8 687.5,299.9 692.4,305.6 697.2,310.7 702.0,315.4 706.9,319.6 711.7,323.3" fill="none" stroke="#e8140f" stroke-width="1.6" stroke-linejoin="round"/>
<polyline points="479.4,335.8 484.2,334.7 489.1,333.3 493.9,331.4 498.8,329.0 503.6,325.9 508.4,322.2 513.3,317.8 518.1,312.6 523.0,306.5 527.8,299.7 532.6,292.1 537.5,283.8 542.3,275.1 547.2,265.9 552.0,256.6 556.8,247.3 561.7,238.3 566.5,229.8 571.4,221.9 576.2,214.9 581.0,208.9 585.9,204.0 590.7,200.1 595.6,197.4 600.4,195.7 605.2,195.0 610.1,194.8 614.9,195.7 619.8,197.7 624.6,200.9 629.4,205.2 634.3,210.5 639.1,216.7 644.0,223.9 648.8,231.7 653.6,240.1 658.5,248.9 663.3,257.9 668.2,267.0 673.0,276.1 677.8,285.1 682.7,293.8 687.5,302.3 692.4,310.4 697.2,318.1 702.0,325.5 706.9,332.5 711.7,339.1" fill="none" stroke="#e8140f" stroke-width="1.6" stroke-linejoin="round"/>
<polyline points="479.4,337.8 484.2,335.5 489.1,332.8 493.9,329.4 498.8,325.4 503.6,320.8 508.4,315.5 513.3,309.5 518.1,302.9 523.0,295.8 527.8,288.2 532.6,280.3 537.5,272.2 542.3,264.2 547.2,256.3 552.0,248.8 556.8,241.8 561.7,235.4 566.5,229.9 571.4,225.2 576.2,221.5 581.0,218.6 585.9,216.7 590.7,215.6 595.6,215.2 600.4,215.3 605.2,216.4 610.1,218.7 614.9,222.0 619.8,226.2 624.6,231.3 629.4,237.2 634.3,243.7 639.1,250.7 644.0,258.0 648.8,265.5 653.6,273.0 658.5,280.5 663.3,287.8 668.2,294.8 673.0,301.4 677.8,307.7 682.7,313.6 687.5,319.1 692.4,324.1 697.2,328.7 702.0,333.0 706.9,336.9 711.7,340.5" fill="none" stroke="#e8140f" stroke-width="1.6" stroke-linejoin="round"/>
<polyline points="479.4,332.8 484.2,331.4 489.1,329.7 493.9,327.4 498.8,324.5 503.6,321.0 508.4,316.6 513.3,311.5 518.1,305.4 523.0,298.5 527.8,290.8 532.6,282.3 537.5,273.1 542.3,263.4 547.2,253.4 552.0,243.2 556.8,233.2 561.7,223.5 566.5,214.4 571.4,206.1 576.2,198.7 581.0,192.5 585.9,187.4 590.7,183.5 595.6,180.8 600.4,179.2 605.2,178.5 610.1,178.4 614.9,179.2 619.8,180.7 624.6,183.1 629.4,186.3 634.3,190.2 639.1,194.8 644.0,200.1 648.8,205.9 653.6,212.3 658.5,219.0 663.3,226.0 668.2,233.3 673.0,240.7 677.8,248.2 682.7,255.6 687.5,263.0 692.4,270.2 697.2,277.2 702.0,284.0 706.9,290.5 711.7,296.8" fill="none" stroke="#e8140f" stroke-width="1.6" stroke-linejoin="round"/>
<polyline points="479.4,337.1 484.2,336.4 489.1,335.4 493.9,334.0 498.8,332.2 503.6,329.7 508.4,326.5 513.3,322.4 518.1,317.4 523.0,311.4 527.8,304.4 532.6,296.4 537.5,287.4 542.3,277.7 547.2,267.4 552.0,256.7 556.8,246.1 561.7,235.7 566.5,225.9 571.4,217.0 576.2,209.2 581.0,202.8 585.9,197.7 590.7,194.0 595.6,191.7 600.4,190.6 605.2,190.4 610.1,191.1 614.9,192.8 619.8,195.6 624.6,199.3 629.4,204.0 634.3,209.5 639.1,215.8 644.0,222.8 648.8,230.3 653.6,238.3 658.5,246.5 663.3,254.9 668.2,263.3 673.0,271.7 677.8,280.0 682.7,288.0 687.5,295.8 692.4,303.2 697.2,310.3 702.0,317.0 706.9,323.4 711.7,329.4" fill="none" stroke="#e8140f" stroke-width="1.6" stroke-linejoin="round"/>
<polyline points="479.4,337.0 484.2,336.3 489.1,335.4 493.9,334.1 498.8,332.4 503.6,330.1 508.4,327.2 513.3,323.6 518.1,319.1 523.0,313.7 527.8,307.5 532.6,300.3 537.5,292.4 542.3,283.7 547.2,274.4 552.0,264.8 556.8,255.0 561.7,245.4 566.5,236.2 571.4,227.7 576.2,220.0 581.0,213.4 585.9,208.0 590.7,203.8 595.6,200.9 600.4,199.1 605.2,198.3 610.1,198.3 614.9,198.9 619.8,200.2 624.6,202.3 629.4,205.0 634.3,208.3 639.1,212.3 644.0,216.9 648.8,222.0 653.6,227.6 658.5,233.5 663.3,239.7 668.2,246.2 673.0,252.8 677.8,259.4 682.7,266.1 687.5,272.8 692.4,279.3 697.2,285.7 702.0,292.0 706.9,298.0 711.7,303.8" fill="none" stroke="#e8140f" stroke-width="1.6" stroke-linejoin="round"/>
<path d="M469.9 159.0V366.5H731.9M463.9 333.6H469.9M463.9 291.8H469.9M463.9 250.0H469.9M463.9 208.1H469.9M463.9 166.3H469.9M479.4 366.5V373.0M539.9 366.5V373.0M600.4 366.5V373.0M660.9 366.5V373.0M721.4 366.5V373.0" fill="none" stroke="#000" stroke-width="1.7" stroke-linejoin="round"/>
<polyline points="123.2,600.5 125.6,600.2 128.0,599.7 130.5,599.1 132.9,598.4 135.3,597.6 137.7,596.6 140.1,595.5 142.6,594.2 145.0,592.7 147.4,591.0 149.8,589.1 152.2,587.0 154.7,584.6 157.1,581.9 159.5,579.0 161.9,575.8 164.3,572.4 166.8,568.6 169.2,564.7 171.6,560.4 174.0,556.0 176.4,551.3 178.9,546.4 181.3,541.4 183.7,536.2 186.1,530.9 188.5,525.6 191.0,520.2 193.4,514.8 195.8,509.5 198.2,504.2 200.6,499.0 203.1,493.9 205.5,489.1 207.9,484.4 210.3,479.9 212.7,475.7 215.2,471.8 217.6,468.1 220.0,464.7 222.4,461.6 224.8,458.9 227.3,456.4 229.7,454.2 232.1,452.3 234.5,450.7 236.9,449.4 239.4,448.3 241.8,447.4 244.2,446.8 246.6,446.3 249.0,446.0 251.5,445.8 253.9,445.7 256.3,445.6 258.7,445.7 261.1,446.1 263.6,446.8 266.0,447.9 268.4,449.4 270.8,451.2 273.2,453.4 275.7,455.9 278.1,458.7 280.5,461.8 282.9,465.1 285.3,468.7 287.8,472.6 290.2,476.7 292.6,481.0 295.0,485.5 297.4,490.1 299.9,494.9 302.3,499.7 304.7,504.7 307.1,509.7 309.5,514.7 312.0,519.7 314.4,524.7 316.8,529.7 319.2,534.7 321.6,539.6 324.1,544.4 326.5,549.1 328.9,553.7 331.3,558.2 333.7,562.6 336.2,566.8 338.6,570.9 341.0,574.9 343.4,578.8 345.8,582.5 348.3,586.1 350.7,589.6 353.1,592.9 355.5,596.2" fill="none" stroke="#000" stroke-width="1.6" stroke-linejoin="round"/>
<polyline points="123.2,599.6 128.0,599.5 132.9,599.3 137.7,599.0 142.6,598.4 147.4,597.5 152.2,596.0 157.1,593.8 161.9,590.6 166.8,586.2 171.6,580.6 176.4,573.5 181.3,565.0 186.1,555.3 191.0,544.7 195.8,533.5 200.6,522.2 205.5,511.3 210.3,501.2 215.2,492.2 220.0,484.7 224.8,478.8 229.7,474.5 234.5,471.6 239.4,469.9 244.2,469.2 249.0,469.1 253.9,469.6 258.7,471.5 263.6,474.6 268.4,479.0 273.2,484.5 278.1,490.9 282.9,498.0 287.8,505.7 292.6,513.7 297.4,521.9 302.3,530.2 307.1,538.2 312.0,546.0 316.8,553.4 321.6,560.3 326.5,566.6 331.3,572.3 336.2,577.4 341.0,582.0 345.8,586.0 350.7,589.4 355.5,592.3" fill="none" stroke="#e8140f" stroke-width="1.6" stroke-linejoin="round"/>
<polyline points="123.2,600.1 125.6,599.6 128.0,599.1 130.5,598.4 132.9,597.6 135.3,596.6 137.7,595.5 140.1,594.2 142.6,592.7 145.0,590.9 147.4,589.0 149.8,586.7 152.2,584.2 154.7,581.5 157.1,578.4 159.5,575.1 161.9,571.4 164.3,567.5 166.8,563.3 169.2,558.8 171.6,554.0 174.0,549.0 176.4,543.8 178.9,538.5 181.3,532.9 183.7,527.3 186.1,521.5 188.5,515.7 191.0,510.0 193.4,504.2 195.8,498.5 198.2,493.0 200.6,487.6 203.1,482.4 205.5,477.4 207.9,472.6 210.3,468.1 212.7,463.9 215.2,460.1 217.6,456.5 220.0,453.3 222.4,450.4 224.8,447.8 227.3,445.5 229.7,443.6 232.1,441.9 234.5,440.6 236.9,439.5 239.4,438.6 241.8,438.0 244.2,437.6 246.6,437.3 249.0,437.1 251.5,437.1 253.9,437.1 256.3,437.3 258.7,438.0 261.1,439.2 263.6,440.9 266.0,443.0 268.4,445.6 270.8,448.6 273.2,452.0 275.7,455.7 278.1,459.8 280.5,464.2 282.9,468.8 285.3,473.7 287.8,478.8 290.2,484.1 292.6,489.5 295.0,494.9 297.4,500.5 299.9,506.0 302.3,511.6 304.7,517.1 307.1,522.5 309.5,527.8 312.0,533.0 314.4,538.1 316.8,543.0 319.2,547.8 321.6,552.4 324.1,556.7 326.5,560.9 328.9,564.9 331.3,568.6 333.7,572.2 336.2,575.5 338.6,578.6 341.0,581.6 343.4,584.3 345.8,586.9 348.3,589.2 350.7,591.5 353.1,593.5 355.5,595.4" fill="none" stroke="#000" stroke-width="1.6" stroke-linejoin="round"/>
<polyline points="123.2,600.4 128.0,600.2 132.9,599.8 137.7,599.1 142.6,597.9 147.4,596.1 152.2,593.5 157.1,589.8 161.9,584.8 166.8,578.4 171.6,570.5 176.4,561.2 181.3,550.6 186.1,539.2 191.0,527.2 195.8,515.2 200.6,503.7 205.5,493.0 210.3,483.7 215.2,475.9 220.0,469.8 224.8,465.3 229.7,462.3 234.5,460.7 239.4,459.9 244.2,459.8 249.0,460.3 253.9,462.0 258.7,464.8 263.6,468.6 268.4,473.5 273.2,479.2 278.1,485.7 282.9,492.9 287.8,500.6 292.6,508.6 297.4,516.8 302.3,525.1 307.1,533.3 312.0,541.4 316.8,549.2 321.6,556.6 326.5,563.7 331.3,570.3 336.2,576.4 341.0,582.1 345.8,587.4 350.7,592.2 355.5,596.5" fill="none" stroke="#e8140f" stroke-width="1.6" stroke-linejoin="round"/>
<polyline points="123.2,600.6 125.6,600.3 128.0,599.9 130.5,599.4 132.9,598.8 135.3,598.1 137.7,597.3 140.1,596.3 142.6,595.1 145.0,593.8 147.4,592.2 149.8,590.5 152.2,588.5 154.7,586.2 157.1,583.7 159.5,581.0 161.9,577.9 164.3,574.6 166.8,571.0 169.2,567.1 171.6,563.0 174.0,558.6 176.4,554.0 178.9,549.2 181.3,544.2 183.7,539.0 186.1,533.7 188.5,528.4 191.0,523.0 193.4,517.5 195.8,512.1 198.2,506.8 200.6,501.6 203.1,496.5 205.5,491.6 207.9,486.9 210.3,482.4 212.7,478.2 215.2,474.2 217.6,470.5 220.0,467.2 222.4,464.1 224.8,461.4 227.3,458.9 229.7,456.8 232.1,455.0 234.5,453.4 236.9,452.2 239.4,451.1 241.8,450.3 244.2,449.7 246.6,449.3 249.0,449.1 251.5,448.9 253.9,448.9 256.3,448.8 258.7,449.1 261.1,449.7 263.6,450.7 266.0,452.2 268.4,454.0 270.8,456.2 273.2,458.7 275.7,461.6 278.1,464.8 280.5,468.3 282.9,472.1 285.3,476.1 287.8,480.4 290.2,484.9 292.6,489.6 295.0,494.5 297.4,499.5 299.9,504.6 302.3,509.8 304.7,515.0 307.1,520.2 309.5,525.5 312.0,530.7 314.4,535.8 316.8,540.9 319.2,546.0 321.6,550.9 324.1,555.7 326.5,560.4 328.9,565.0 331.3,569.4 333.7,573.7 336.2,577.9 338.6,581.9 341.0,585.8 343.4,589.5 345.8,593.1 348.3,596.5 350.7,599.9 353.1,603.1 355.5,606.2" fill="none" stroke="#000" stroke-width="1.6" stroke-linejoin="round"/>
<polyline points="123.2,599.8 128.0,599.7 132.9,599.6 137.7,599.3 142.6,598.8 147.4,598.1 152.2,596.8 157.1,594.9 161.9,592.1 166.8,588.3 171.6,583.1 176.4,576.6 181.3,568.7 186.1,559.5 191.0,549.2 195.8,538.1 200.6,526.8 205.5,515.5 210.3,504.9 215.2,495.2 220.0,486.9 224.8,480.1 229.7,474.9 234.5,471.2 239.4,468.9 244.2,467.7 249.0,467.3 253.9,467.3 258.7,468.1 263.6,469.9 268.4,472.6 273.2,476.2 278.1,480.7 282.9,485.8 287.8,491.5 292.6,497.6 297.4,504.2 302.3,510.9 307.1,517.8 312.0,524.6 316.8,531.4 321.6,538.0 326.5,544.3 331.3,550.3 336.2,555.9 341.0,561.1 345.8,565.8 350.7,570.1 355.5,573.8" fill="none" stroke="#e8140f" stroke-width="1.6" stroke-linejoin="round"/>
<polyline points="123.2,598.4 125.6,598.0 128.0,597.5 130.5,597.0 132.9,596.3 135.3,595.6 137.7,594.6 140.1,593.5 142.6,592.3 145.0,590.8 147.4,589.1 149.8,587.2 152.2,585.1 154.7,582.7 157.1,580.0 159.5,577.0 161.9,573.8 164.3,570.3 166.8,566.5 169.2,562.5 171.6,558.2 174.0,553.7 176.4,549.0 178.9,544.1 181.3,539.0 183.7,533.8 186.1,528.5 188.5,523.2 191.0,517.9 193.4,512.6 195.8,507.3 198.2,502.2 200.6,497.2 203.1,492.4 205.5,487.7 207.9,483.3 210.3,479.2 212.7,475.3 215.2,471.8 217.6,468.5 220.0,465.5 222.4,462.9 224.8,460.5 227.3,458.5 229.7,456.7 232.1,455.3 234.5,454.1 236.9,453.1 239.4,452.4 241.8,451.8 244.2,451.5 246.6,451.2 249.0,451.1 251.5,451.1 253.9,451.1 256.3,451.4 258.7,452.2 261.1,453.4 263.6,455.0 266.0,457.0 268.4,459.3 270.8,462.0 273.2,465.1 275.7,468.4 278.1,472.1 280.5,476.0 282.9,480.1 285.3,484.5 287.8,489.1 290.2,493.8 292.6,498.6 295.0,503.6 297.4,508.6 299.9,513.6 302.3,518.7 304.7,523.7 307.1,528.7 309.5,533.6 312.0,538.5 314.4,543.2 316.8,547.9 319.2,552.4 321.6,556.7 324.1,561.0 326.5,565.0 328.9,568.9 331.3,572.7 333.7,576.2 336.2,579.7 338.6,582.9 341.0,586.0 343.4,588.9 345.8,591.7 348.3,594.3 350.7,596.8 353.1,599.2 355.5,601.4" fill="none" stroke="#000" stroke-width="1.6" stroke-linejoin="round"/>
<polyline points="123.2,600.0 128.0,599.8 132.9,599.5 137.7,598.8 142.6,597.8 147.4,596.2 152.2,593.9 157.1,590.5 161.9,586.0 166.8,580.1 171.6,572.8 176.4,564.2 181.3,554.3 186.1,543.6 191.0,532.2 195.8,520.8 200.6,509.8 205.5,499.6 210.3,490.5 215.2,482.9 220.0,476.8 224.8,472.3 229.7,469.3 234.5,467.5 239.4,466.7 244.2,466.5 249.0,466.8 253.9,468.0 258.7,470.2 263.6,473.2 268.4,477.1 273.2,481.7 278.1,487.0 282.9,492.9 287.8,499.1 292.6,505.7 297.4,512.5 302.3,519.4 307.1,526.3 312.0,533.1 316.8,539.7 321.6,546.0 326.5,552.0 331.3,557.6 336.2,562.9 341.0,567.7 345.8,572.0 350.7,575.9 355.5,579.4" fill="none" stroke="#e8140f" stroke-width="1.6" stroke-linejoin="round"/>
<polyline points="123.2,602.2 125.6,601.6 128.0,601.0 130.5,600.3 132.9,599.4 135.3,598.4 137.7,597.2 140.1,595.8 142.6,594.2 145.0,592.5 147.4,590.4 149.8,588.2 152.2,585.7 154.7,582.9 157.1,579.8 159.5,576.5 161.9,573.0 164.3,569.1 166.8,565.1 169.2,560.8 171.6,556.2 174.0,551.5 176.4,546.6 178.9,541.6 181.3,536.5 183.7,531.3 186.1,526.0 188.5,520.8 191.0,515.5 193.4,510.4 195.8,505.3 198.2,500.4 200.6,495.7 203.1,491.2 205.5,486.9 207.9,482.8 210.3,479.0 212.7,475.5 215.2,472.3 217.6,469.3 220.0,466.7 222.4,464.4 224.8,462.3 227.3,460.6 229.7,459.1 232.1,457.8 234.5,456.9 236.9,456.1 239.4,455.5 241.8,455.1 244.2,454.9 246.6,454.7 249.0,454.7 251.5,454.7 253.9,454.8 256.3,455.5 258.7,456.5 261.1,457.9 263.6,459.7 266.0,461.9 268.4,464.4 270.8,467.3 273.2,470.4 275.7,473.9 278.1,477.6 280.5,481.6 282.9,485.9 285.3,490.3 287.8,495.0 290.2,499.8 292.6,504.7 295.0,509.7 297.4,514.8 299.9,520.0 302.3,525.1 304.7,530.2 307.1,535.3 309.5,540.4 312.0,545.4 314.4,550.3 316.8,555.0 319.2,559.7 321.6,564.3 324.1,568.7 326.5,573.0 328.9,577.1 331.3,581.1 333.7,585.0 336.2,588.7 338.6,592.3 341.0,595.8 343.4,599.1 345.8,602.3 348.3,605.4 350.7,608.4 353.1,611.3 355.5,614.0" fill="none" stroke="#000" stroke-width="1.6" stroke-linejoin="round"/>
<polyline points="123.2,600.2 128.0,600.0 132.9,599.6 137.7,598.9 142.6,597.7 147.4,596.0 152.2,593.5 157.1,590.0 161.9,585.3 166.8,579.3 171.6,571.9 176.4,563.2 181.3,553.4 186.1,542.8 191.0,531.7 195.8,520.7 200.6,510.1 205.5,500.3 210.3,491.7 215.2,484.6 220.0,478.9 224.8,474.8 229.7,472.1 234.5,470.5 239.4,469.9 244.2,469.7 249.0,470.1 253.9,471.5 258.7,473.9 263.6,477.2 268.4,481.3 273.2,486.2 278.1,491.7 282.9,497.8 287.8,504.2 292.6,511.0 297.4,517.9 302.3,524.9 307.1,531.8 312.0,538.5 316.8,545.1 321.6,551.3 326.5,557.1 331.3,562.6 336.2,567.6 341.0,572.1 345.8,576.2 350.7,579.9 355.5,583.1" fill="none" stroke="#e8140f" stroke-width="1.6" stroke-linejoin="round"/>
<polyline points="123.2,598.7 125.6,598.2 128.0,597.5 130.5,596.8 132.9,595.9 135.3,594.9 137.7,593.7 140.1,592.3 142.6,590.7 145.0,588.8 147.4,586.8 149.8,584.5 152.2,581.9 154.7,579.1 157.1,576.0 159.5,572.6 161.9,569.0 164.3,565.1 166.8,560.9 169.2,556.5 171.6,551.8 174.0,547.0 176.4,542.0 178.9,536.8 181.3,531.5 183.7,526.1 186.1,520.7 188.5,515.3 191.0,509.9 193.4,504.5 195.8,499.3 198.2,494.2 200.6,489.2 203.1,484.5 205.5,480.0 207.9,475.7 210.3,471.7 212.7,468.0 215.2,464.6 217.6,461.5 220.0,458.7 222.4,456.2 224.8,454.0 227.3,452.1 229.7,450.5 232.1,449.2 234.5,448.1 236.9,447.3 239.4,446.6 241.8,446.2 244.2,445.8 246.6,445.7 249.0,445.6 251.5,445.6 253.9,445.7 256.3,446.1 258.7,447.0 261.1,448.2 263.6,449.9 266.0,451.8 268.4,454.2 270.8,456.8 273.2,459.8 275.7,463.1 278.1,466.6 280.5,470.4 282.9,474.3 285.3,478.5 287.8,482.9 290.2,487.3 292.6,491.9 295.0,496.6 297.4,501.3 299.9,506.1 302.3,510.8 304.7,515.6 307.1,520.2 309.5,524.9 312.0,529.4 314.4,533.9 316.8,538.2 319.2,542.4 321.6,546.5 324.1,550.4 326.5,554.1 328.9,557.7 331.3,561.1 333.7,564.4 336.2,567.5 338.6,570.3 341.0,573.1 343.4,575.6 345.8,578.0 348.3,580.2 350.7,582.2 353.1,584.1 355.5,585.9" fill="none" stroke="#000" stroke-width="1.6" stroke-linejoin="round"/>
<polyline points="123.2,600.0 128.0,600.0 132.9,599.8 137.7,599.6 142.6,599.2 147.4,598.4 152.2,597.2 157.1,595.3 161.9,592.6 166.8,588.7 171.6,583.4 176.4,576.7 181.3,568.5 186.1,559.0 191.0,548.3 195.8,536.8 200.6,525.0 205.5,513.4 210.3,502.5 215.2,492.8 220.0,484.5 224.8,477.8 229.7,472.8 234.5,469.4 239.4,467.3 244.2,466.4 249.0,466.1 253.9,466.4 258.7,468.1 263.6,471.2 268.4,475.5 273.2,481.0 278.1,487.5 282.9,494.9 287.8,502.9 292.6,511.4 297.4,520.2 302.3,528.9 307.1,537.6 312.0,546.1 316.8,554.1 321.6,561.7 326.5,568.7 331.3,575.2 336.2,581.0 341.0,586.3 345.8,591.1 350.7,595.3 355.5,599.1" fill="none" stroke="#e8140f" stroke-width="1.6" stroke-linejoin="round"/>
<polyline points="123.2,599.7 128.0,599.5 132.9,599.3 137.7,598.9 142.6,598.1 147.4,596.9 152.2,595.1 157.1,592.3 161.9,588.5 166.8,583.2 171.6,576.5 176.4,568.3 181.3,558.5 186.1,547.5 191.0,535.5 195.8,523.1 200.6,510.6 205.5,498.7 210.3,487.9 215.2,478.3 220.0,470.5 224.8,464.3 229.7,459.9 234.5,457.0 239.4,455.4 244.2,454.8 249.0,454.7 253.9,455.6 258.7,458.1 263.6,462.0 268.4,467.2 273.2,473.5 278.1,480.9 282.9,489.0 287.8,497.8 292.6,506.8 297.4,516.0 302.3,525.2 307.1,534.1 312.0,542.6 316.8,550.6 321.6,558.1 326.5,564.9 331.3,571.0 336.2,576.4 341.0,581.2 345.8,585.3 350.7,588.8 355.5,591.8" fill="none" stroke="#e8140f" stroke-width="1.6" stroke-linejoin="round"/>
<polyline points="123.2,600.3 128.0,600.2 132.9,600.1 137.7,599.8 142.6,599.3 147.4,598.5 152.2,597.3 157.1,595.3 161.9,592.4 166.8,588.4 171.6,583.0 176.4,576.2 181.3,567.7 186.1,557.9 191.0,546.8 195.8,534.8 200.6,522.4 205.5,510.1 210.3,498.4 215.2,487.7 220.0,478.4 224.8,470.8 229.7,464.9 234.5,460.6 239.4,457.9 244.2,456.5 249.0,455.9 253.9,455.9 258.7,456.8 263.6,459.1 268.4,462.7 273.2,467.5 278.1,473.3 282.9,480.1 287.8,487.6 292.6,495.6 297.4,504.0 302.3,512.6 307.1,521.2 312.0,529.7 316.8,537.8 321.6,545.6 326.5,552.9 331.3,559.7 336.2,565.8 341.0,571.4 345.8,576.3 350.7,580.6 355.5,584.4" fill="none" stroke="#e8140f" stroke-width="1.6" stroke-linejoin="round"/>
<polyline points="123.2,600.2 128.0,600.1 132.9,600.0 137.7,599.7 142.6,599.3 147.4,598.5 152.2,597.3 157.1,595.4 161.9,592.6 166.8,588.7 171.6,583.4 176.4,576.6 181.3,568.3 186.1,558.5 191.0,547.4 195.8,535.4 200.6,522.9 205.5,510.3 210.3,498.3 215.2,487.2 220.0,477.6 224.8,469.5 229.7,463.2 234.5,458.6 239.4,455.5 244.2,453.8 249.0,453.1 253.9,453.0 258.7,453.4 263.6,454.9 268.4,457.3 273.2,460.7 278.1,464.9 282.9,470.0 287.8,475.7 292.6,482.1 297.4,489.0 302.3,496.2 307.1,503.8 312.0,511.5 316.8,519.2 321.6,526.9 326.5,534.5 331.3,541.9 336.2,549.0 341.0,555.8 345.8,562.3 350.7,568.3 355.5,573.9" fill="none" stroke="#e8140f" stroke-width="1.6" stroke-linejoin="round"/>
<path d="M113.2 423.5V632.8H375.7M107.2 601.3H113.2M107.2 559.4H113.2M107.2 517.5H113.2M107.2 475.6H113.2M107.2 433.7H113.2M123.2 632.8V639.3M183.7 632.8V639.3M244.2 632.8V639.3M304.7 632.8V639.3M365.2 632.8V639.3" fill="none" stroke="#000" stroke-width="1.7" stroke-linejoin="round"/>
<text x="104.9" y="607.1" font-size="19.2" text-anchor="end" >0</text>
<text x="104.9" y="565.2" font-size="19.2" text-anchor="end" >50</text>
<text x="104.9" y="523.3" font-size="19.2" text-anchor="end" >100</text>
<text x="104.9" y="481.4" font-size="19.2" text-anchor="end" >150</text>
<text x="104.9" y="439.5" font-size="19.2" text-anchor="end" >200</text>
<polyline points="479.4,600.4 481.8,599.7 484.2,598.9 486.7,598.0 489.1,596.9 491.5,595.7 493.9,594.4 496.3,593.0 498.8,591.3 501.2,589.5 503.6,587.5 506.0,585.3 508.4,582.9 510.9,580.3 513.3,577.5 515.7,574.5 518.1,571.3 520.5,567.9 523.0,564.2 525.4,560.4 527.8,556.4 530.2,552.3 532.6,548.0 535.1,543.5 537.5,539.0 539.9,534.3 542.3,529.6 544.7,524.8 547.2,520.1 549.6,515.3 552.0,510.6 554.4,505.9 556.8,501.4 559.3,496.9 561.7,492.7 564.1,488.6 566.5,484.6 568.9,481.0 571.4,477.5 573.8,474.3 576.2,471.4 578.6,468.8 581.0,466.4 583.5,464.3 585.9,462.5 588.3,461.0 590.7,459.8 593.1,458.8 595.6,458.1 598.0,457.6 600.4,457.3 602.8,457.2 605.2,457.2 607.7,457.5 610.1,458.1 612.5,458.9 614.9,460.1 617.3,461.5 619.8,463.2 622.2,465.1 624.6,467.3 627.0,469.8 629.4,472.5 631.9,475.4 634.3,478.5 636.7,481.8 639.1,485.3 641.5,488.9 644.0,492.8 646.4,496.7 648.8,500.8 651.2,504.9 653.6,509.1 656.1,513.4 658.5,517.7 660.9,522.0 663.3,526.4 665.7,530.7 668.2,535.0 670.6,539.3 673.0,543.5 675.4,547.7 677.8,551.8 680.3,555.8 682.7,559.7 685.1,563.6 687.5,567.3 689.9,571.0 692.4,574.5 694.8,578.0 697.2,581.3 699.6,584.6 702.0,587.7 704.5,590.7 706.9,593.7 709.3,596.5 711.7,599.3" fill="none" stroke="#000" stroke-width="1.6" stroke-linejoin="round"/>
<polyline points="479.4,602.3 484.2,600.3 489.1,597.8 493.9,594.8 498.8,591.3 503.6,587.1 508.4,582.4 513.3,576.9 518.1,570.9 523.0,564.3 527.8,557.1 532.6,549.6 537.5,541.7 542.3,533.7 547.2,525.6 552.0,517.7 556.8,510.0 561.7,502.8 566.5,496.1 571.4,490.2 576.2,485.0 581.0,480.7 585.9,477.2 590.7,474.7 595.6,472.9 600.4,471.9 605.2,471.5 610.1,471.7 614.9,473.0 619.8,475.5 624.6,479.2 629.4,483.9 634.3,489.5 639.1,495.9 644.0,503.0 648.8,510.5 653.6,518.3 658.5,526.3 663.3,534.3 668.2,542.1 673.0,549.7 677.8,556.9 682.7,563.6 687.5,569.9 692.4,575.7 697.2,581.0 702.0,585.8 706.9,590.1 711.7,593.9" fill="none" stroke="#e8140f" stroke-width="1.6" stroke-linejoin="round"/>
<polyline points="479.4,599.6 481.8,598.9 484.2,598.1 486.7,597.1 489.1,596.0 491.5,594.8 493.9,593.5 496.3,591.9 498.8,590.3 501.2,588.4 503.6,586.4 506.0,584.1 508.4,581.7 510.9,579.0 513.3,576.2 515.7,573.1 518.1,569.9 520.5,566.4 523.0,562.7 525.4,558.9 527.8,554.8 530.2,550.6 532.6,546.2 535.1,541.7 537.5,537.0 539.9,532.3 542.3,527.4 544.7,522.5 547.2,517.6 549.6,512.7 552.0,507.8 554.4,502.9 556.8,498.1 559.3,493.4 561.7,488.9 564.1,484.5 566.5,480.3 568.9,476.3 571.4,472.5 573.8,468.9 576.2,465.6 578.6,462.6 581.0,459.8 583.5,457.4 585.9,455.2 588.3,453.3 590.7,451.7 593.1,450.4 595.6,449.3 598.0,448.5 600.4,448.0 602.8,447.6 605.2,447.5 607.7,447.4 610.1,447.7 612.5,448.6 614.9,450.1 617.3,452.1 619.8,454.7 622.2,457.8 624.6,461.3 627.0,465.3 629.4,469.7 631.9,474.4 634.3,479.4 636.7,484.7 639.1,490.2 641.5,495.9 644.0,501.6 646.4,507.5 648.8,513.4 651.2,519.2 653.6,525.0 656.1,530.7 658.5,536.2 660.9,541.6 663.3,546.8 665.7,551.8 668.2,556.6 670.6,561.1 673.0,565.4 675.4,569.5 677.8,573.3 680.3,576.9 682.7,580.2 685.1,583.3 687.5,586.1 689.9,588.7 692.4,591.2 694.8,593.4 697.2,595.5 699.6,597.4 702.0,599.1 704.5,600.7 706.9,602.2 709.3,603.5 711.7,604.8" fill="none" stroke="#000" stroke-width="1.6" stroke-linejoin="round"/>
<polyline points="479.4,601.5 484.2,599.5 489.1,597.1 493.9,594.3 498.8,590.9 503.6,587.0 508.4,582.5 513.3,577.4 518.1,571.8 523.0,565.6 527.8,558.9 532.6,551.9 537.5,544.5 542.3,537.0 547.2,529.4 552.0,521.8 556.8,514.5 561.7,507.4 566.5,500.9 571.4,494.9 576.2,489.6 581.0,485.0 585.9,481.2 590.7,478.1 595.6,475.9 600.4,474.4 605.2,473.6 610.1,473.3 614.9,473.5 619.8,474.7 624.6,477.0 629.4,480.3 634.3,484.4 639.1,489.4 644.0,495.2 648.8,501.8 653.6,508.9 658.5,516.6 663.3,524.5 668.2,532.6 673.0,540.8 677.8,549.0 682.7,557.0 687.5,564.9 692.4,572.5 697.2,579.9 702.0,586.9 706.9,593.6 711.7,600.0" fill="none" stroke="#e8140f" stroke-width="1.6" stroke-linejoin="round"/>
<polyline points="479.4,600.5 481.8,600.0 484.2,599.4 486.7,598.7 489.1,598.0 491.5,597.1 493.9,596.1 496.3,595.0 498.8,593.7 501.2,592.3 503.6,590.8 506.0,589.1 508.4,587.2 510.9,585.1 513.3,582.8 515.7,580.4 518.1,577.8 520.5,575.0 523.0,571.9 525.4,568.7 527.8,565.4 530.2,561.8 532.6,558.1 535.1,554.2 537.5,550.2 539.9,546.0 542.3,541.7 544.7,537.4 547.2,533.0 549.6,528.5 552.0,524.0 554.4,519.5 556.8,515.1 559.3,510.7 561.7,506.4 564.1,502.2 566.5,498.1 568.9,494.2 571.4,490.4 573.8,486.9 576.2,483.6 578.6,480.5 581.0,477.6 583.5,475.0 585.9,472.7 588.3,470.6 590.7,468.8 593.1,467.2 595.6,465.9 598.0,464.9 600.4,464.1 602.8,463.5 605.2,463.1 607.7,462.9 610.1,462.9 612.5,463.0 614.9,463.5 617.3,464.4 619.8,465.6 622.2,467.3 624.6,469.3 627.0,471.6 629.4,474.3 631.9,477.2 634.3,480.5 636.7,484.0 639.1,487.7 641.5,491.7 644.0,495.9 646.4,500.3 648.8,504.9 651.2,509.5 653.6,514.3 656.1,519.1 658.5,523.9 660.9,528.8 663.3,533.7 665.7,538.5 668.2,543.3 670.6,548.0 673.0,552.6 675.4,557.1 677.8,561.6 680.3,565.9 682.7,570.1 685.1,574.1 687.5,578.0 689.9,581.8 692.4,585.5 694.8,589.0 697.2,592.3 699.6,595.6 702.0,598.7 704.5,601.7 706.9,604.6 709.3,607.4 711.7,610.1" fill="none" stroke="#000" stroke-width="1.6" stroke-linejoin="round"/>
<polyline points="479.4,599.8 484.2,597.9 489.1,595.5 493.9,592.6 498.8,589.0 503.6,584.9 508.4,579.9 513.3,574.3 518.1,568.0 523.0,560.9 527.8,553.2 532.6,545.0 537.5,536.3 542.3,527.3 547.2,518.2 552.0,509.1 556.8,500.2 561.7,491.8 566.5,483.9 571.4,476.8 576.2,470.5 581.0,465.1 585.9,460.8 590.7,457.4 595.6,455.1 600.4,453.6 605.2,452.9 610.1,452.8 614.9,454.3 619.8,458.1 624.6,463.8 629.4,471.3 634.3,480.3 639.1,490.5 644.0,501.4 648.8,512.7 653.6,524.1 658.5,535.1 663.3,545.7 668.2,555.5 673.0,564.5 677.8,572.6 682.7,579.7 687.5,585.9 692.4,591.2 697.2,595.8 702.0,599.8 706.9,603.1 711.7,606.0" fill="none" stroke="#e8140f" stroke-width="1.6" stroke-linejoin="round"/>
<polyline points="479.4,596.9 481.8,596.2 484.2,595.4 486.7,594.5 489.1,593.5 491.5,592.4 493.9,591.2 496.3,589.9 498.8,588.4 501.2,586.7 503.6,584.9 506.0,583.0 508.4,580.8 510.9,578.6 513.3,576.1 515.7,573.5 518.1,570.7 520.5,567.8 523.0,564.7 525.4,561.4 527.8,558.0 530.2,554.5 532.6,550.8 535.1,547.1 537.5,543.3 539.9,539.4 542.3,535.4 544.7,531.4 547.2,527.4 549.6,523.5 552.0,519.5 554.4,515.6 556.8,511.8 559.3,508.1 561.7,504.5 564.1,501.0 566.5,497.7 568.9,494.6 571.4,491.7 573.8,488.9 576.2,486.4 578.6,484.1 581.0,482.0 583.5,480.1 585.9,478.5 588.3,477.1 590.7,476.0 593.1,475.0 595.6,474.3 598.0,473.7 600.4,473.4 602.8,473.2 605.2,473.1 607.7,473.1 610.1,473.6 612.5,474.4 614.9,475.6 617.3,477.2 619.8,479.2 622.2,481.5 624.6,484.2 627.0,487.2 629.4,490.4 631.9,493.9 634.3,497.7 636.7,501.6 639.1,505.8 641.5,510.1 644.0,514.5 646.4,519.0 648.8,523.5 651.2,528.1 653.6,532.7 656.1,537.3 658.5,541.8 660.9,546.2 663.3,550.6 665.7,554.8 668.2,558.9 670.6,562.9 673.0,566.8 675.4,570.5 677.8,574.0 680.3,577.4 682.7,580.6 685.1,583.7 687.5,586.6 689.9,589.4 692.4,592.0 694.8,594.4 697.2,596.8 699.6,599.0 702.0,601.1 704.5,603.0 706.9,604.9 709.3,606.7 711.7,608.4" fill="none" stroke="#000" stroke-width="1.6" stroke-linejoin="round"/>
<polyline points="479.4,602.6 484.2,600.6 489.1,598.3 493.9,595.4 498.8,591.9 503.6,587.7 508.4,582.9 513.3,577.3 518.1,571.1 523.0,564.2 527.8,556.6 532.6,548.6 537.5,540.0 542.3,531.2 547.2,522.2 552.0,513.2 556.8,504.4 561.7,496.0 566.5,488.1 571.4,480.8 576.2,474.4 581.0,468.8 585.9,464.2 590.7,460.5 595.6,457.9 600.4,456.1 605.2,455.2 610.1,454.9 614.9,455.4 619.8,457.7 624.6,461.9 629.4,467.7 634.3,474.9 639.1,483.3 644.0,492.6 648.8,502.6 653.6,512.8 658.5,523.0 663.3,533.0 668.2,542.6 673.0,551.5 677.8,559.8 682.7,567.2 687.5,573.9 692.4,579.7 697.2,584.7 702.0,588.9 706.9,592.5 711.7,595.6" fill="none" stroke="#e8140f" stroke-width="1.6" stroke-linejoin="round"/>
<polyline points="479.4,596.9 481.8,596.3 484.2,595.6 486.7,594.7 489.1,593.8 491.5,592.7 493.9,591.4 496.3,590.1 498.8,588.6 501.2,586.9 503.6,585.0 506.0,582.9 508.4,580.7 510.9,578.2 513.3,575.6 515.7,572.7 518.1,569.6 520.5,566.3 523.0,562.8 525.4,559.1 527.8,555.2 530.2,551.1 532.6,546.9 535.1,542.4 537.5,537.9 539.9,533.2 542.3,528.4 544.7,523.5 547.2,518.5 549.6,513.5 552.0,508.5 554.4,503.5 556.8,498.6 559.3,493.7 561.7,489.0 564.1,484.4 566.5,479.9 568.9,475.6 571.4,471.5 573.8,467.7 576.2,464.1 578.6,460.7 581.0,457.6 583.5,454.8 585.9,452.3 588.3,450.1 590.7,448.2 593.1,446.5 595.6,445.2 598.0,444.1 600.4,443.3 602.8,442.7 605.2,442.3 607.7,442.1 610.1,442.1 612.5,442.3 614.9,443.1 617.3,444.3 619.8,446.1 622.2,448.3 624.6,450.9 627.0,454.0 629.4,457.5 631.9,461.4 634.3,465.6 636.7,470.1 639.1,474.9 641.5,479.9 644.0,485.2 646.4,490.7 648.8,496.2 651.2,501.9 653.6,507.7 656.1,513.5 658.5,519.3 660.9,525.0 663.3,530.7 665.7,536.3 668.2,541.7 670.6,547.1 673.0,552.3 675.4,557.3 677.8,562.2 680.3,566.8 682.7,571.3 685.1,575.6 687.5,579.7 689.9,583.7 692.4,587.4 694.8,591.0 697.2,594.4 699.6,597.6 702.0,600.7 704.5,603.6 706.9,606.4 709.3,609.1 711.7,611.6" fill="none" stroke="#000" stroke-width="1.6" stroke-linejoin="round"/>
<polyline points="479.4,599.5 484.2,596.7 489.1,593.5 493.9,589.7 498.8,585.2 503.6,580.1 508.4,574.3 513.3,567.9 518.1,560.9 523.0,553.3 527.8,545.3 532.6,536.9 537.5,528.3 542.3,519.7 547.2,511.0 552.0,502.6 556.8,494.6 561.7,487.0 566.5,480.1 571.4,474.0 576.2,468.6 581.0,464.2 585.9,460.6 590.7,458.0 595.6,456.2 600.4,455.1 605.2,454.7 610.1,455.0 614.9,457.3 619.8,461.7 624.6,468.1 629.4,476.1 634.3,485.6 639.1,496.0 644.0,507.2 648.8,518.6 653.6,530.0 658.5,541.1 663.3,551.6 668.2,561.3 673.0,570.1 677.8,578.1 682.7,585.2 687.5,591.4 692.4,596.8 697.2,601.6 702.0,605.7 706.9,609.5 711.7,612.8" fill="none" stroke="#e8140f" stroke-width="1.6" stroke-linejoin="round"/>
<polyline points="479.4,596.7 481.8,595.9 484.2,595.1 486.7,594.0 489.1,592.9 491.5,591.6 493.9,590.2 496.3,588.6 498.8,586.9 501.2,585.0 503.6,582.9 506.0,580.6 508.4,578.2 510.9,575.6 513.3,572.7 515.7,569.7 518.1,566.5 520.5,563.1 523.0,559.5 525.4,555.8 527.8,551.9 530.2,547.8 532.6,543.7 535.1,539.4 537.5,535.0 539.9,530.5 542.3,526.0 544.7,521.5 547.2,517.0 549.6,512.5 552.0,508.0 554.4,503.6 556.8,499.3 559.3,495.1 561.7,491.1 564.1,487.2 566.5,483.5 568.9,480.1 571.4,476.8 573.8,473.8 576.2,471.0 578.6,468.5 581.0,466.2 583.5,464.2 585.9,462.5 588.3,461.0 590.7,459.8 593.1,458.9 595.6,458.1 598.0,457.6 600.4,457.3 602.8,457.1 605.2,457.1 607.7,457.3 610.1,457.8 612.5,458.6 614.9,459.8 617.3,461.3 619.8,463.1 622.2,465.2 624.6,467.5 627.0,470.2 629.4,473.1 631.9,476.2 634.3,479.6 636.7,483.1 639.1,486.9 641.5,490.8 644.0,494.8 646.4,499.0 648.8,503.3 651.2,507.6 653.6,512.0 656.1,516.5 658.5,520.9 660.9,525.3 663.3,529.7 665.7,534.1 668.2,538.4 670.6,542.7 673.0,546.8 675.4,550.9 677.8,554.8 680.3,558.7 682.7,562.4 685.1,566.0 687.5,569.5 689.9,572.8 692.4,576.0 694.8,579.1 697.2,582.1 699.6,584.9 702.0,587.6 704.5,590.1 706.9,592.6 709.3,594.9 711.7,597.1" fill="none" stroke="#000" stroke-width="1.6" stroke-linejoin="round"/>
<polyline points="479.4,601.7 484.2,600.2 489.1,598.2 493.9,595.7 498.8,592.6 503.6,588.8 508.4,584.2 513.3,578.8 518.1,572.6 523.0,565.6 527.8,557.7 532.6,549.2 537.5,540.1 542.3,530.6 547.2,520.8 552.0,511.0 556.8,501.3 561.7,492.1 566.5,483.4 571.4,475.5 576.2,468.5 581.0,462.7 585.9,457.9 590.7,454.3 595.6,451.8 600.4,450.3 605.2,449.7 610.1,449.8 614.9,451.9 619.8,456.2 624.6,462.6 629.4,470.8 634.3,480.3 639.1,491.1 644.0,502.5 648.8,514.4 653.6,526.2 658.5,537.8 663.3,548.8 668.2,559.0 673.0,568.4 677.8,576.9 682.7,584.4 687.5,591.1 692.4,597.0 697.2,602.2 702.0,606.8 706.9,611.0 711.7,614.7" fill="none" stroke="#e8140f" stroke-width="1.6" stroke-linejoin="round"/>
<polyline points="479.4,603.0 481.8,602.5 484.2,601.8 486.7,601.0 489.1,600.2 491.5,599.2 493.9,598.1 496.3,596.9 498.8,595.5 501.2,594.0 503.6,592.3 506.0,590.5 508.4,588.5 510.9,586.3 513.3,584.0 515.7,581.4 518.1,578.7 520.5,575.8 523.0,572.8 525.4,569.5 527.8,566.1 530.2,562.6 532.6,558.8 535.1,555.0 537.5,551.0 539.9,547.0 542.3,542.8 544.7,538.6 547.2,534.4 549.6,530.1 552.0,525.9 554.4,521.6 556.8,517.5 559.3,513.4 561.7,509.4 564.1,505.5 566.5,501.8 568.9,498.3 571.4,494.9 573.8,491.7 576.2,488.8 578.6,486.1 581.0,483.6 583.5,481.3 585.9,479.3 588.3,477.6 590.7,476.1 593.1,474.9 595.6,473.9 598.0,473.1 600.4,472.5 602.8,472.1 605.2,471.9 607.7,471.9 610.1,472.0 612.5,472.5 614.9,473.5 617.3,475.0 619.8,476.9 622.2,479.3 624.6,482.1 627.0,485.2 629.4,488.7 631.9,492.4 634.3,496.5 636.7,500.8 639.1,505.3 641.5,510.1 644.0,515.0 646.4,519.9 648.8,525.0 651.2,530.1 653.6,535.2 656.1,540.3 658.5,545.3 660.9,550.2 663.3,555.0 665.7,559.7 668.2,564.2 670.6,568.6 673.0,572.8 675.4,576.9 677.8,580.8 680.3,584.5 682.7,588.0 685.1,591.4 687.5,594.6 689.9,597.7 692.4,600.6 694.8,603.4 697.2,606.0 699.6,608.6 702.0,611.0 704.5,613.3 706.9,615.6 709.3,617.8 711.7,619.9" fill="none" stroke="#000" stroke-width="1.6" stroke-linejoin="round"/>
<polyline points="479.4,601.7 484.2,600.6 489.1,599.2 493.9,597.4 498.8,595.1 503.6,592.2 508.4,588.8 513.3,584.7 518.1,579.9 523.0,574.5 527.8,568.4 532.6,561.6 537.5,554.4 542.3,546.7 547.2,538.7 552.0,530.6 556.8,522.6 561.7,514.8 566.5,507.4 571.4,500.6 576.2,494.5 581.0,489.3 585.9,485.0 590.7,481.6 595.6,479.1 600.4,477.6 605.2,476.8 610.1,476.6 614.9,477.2 619.8,478.9 624.6,481.8 629.4,485.8 634.3,490.6 639.1,496.4 644.0,502.9 648.8,509.9 653.6,517.4 658.5,525.2 663.3,533.0 668.2,540.8 673.0,548.5 677.8,555.9 682.7,563.0 687.5,569.6 692.4,575.9 697.2,581.7 702.0,587.0 706.9,591.9 711.7,596.3" fill="none" stroke="#e8140f" stroke-width="1.6" stroke-linejoin="round"/>
<polyline points="479.4,598.3 481.8,597.5 484.2,596.6 486.7,595.5 489.1,594.4 491.5,593.0 493.9,591.6 496.3,590.0 498.8,588.2 501.2,586.3 503.6,584.2 506.0,581.9 508.4,579.4 510.9,576.7 513.3,573.8 515.7,570.8 518.1,567.5 520.5,564.1 523.0,560.5 525.4,556.7 527.8,552.7 530.2,548.6 532.6,544.4 535.1,540.0 537.5,535.6 539.9,531.1 542.3,526.5 544.7,521.9 547.2,517.3 549.6,512.7 552.0,508.1 554.4,503.6 556.8,499.2 559.3,495.0 561.7,490.8 564.1,486.8 566.5,483.0 568.9,479.4 571.4,476.0 573.8,472.9 576.2,470.0 578.6,467.3 581.0,464.9 583.5,462.8 585.9,460.9 588.3,459.3 590.7,458.0 593.1,456.9 595.6,456.1 598.0,455.4 600.4,455.0 602.8,454.8 605.2,454.7 607.7,454.8 610.1,455.4 612.5,456.5 614.9,458.2 617.3,460.5 619.8,463.2 622.2,466.4 624.6,470.1 627.0,474.1 629.4,478.5 631.9,483.3 634.3,488.3 636.7,493.5 639.1,498.8 641.5,504.3 644.0,509.9 646.4,515.5 648.8,521.1 651.2,526.6 653.6,532.0 656.1,537.3 658.5,542.4 660.9,547.4 663.3,552.1 665.7,556.7 668.2,560.9 670.6,565.0 673.0,568.8 675.4,572.4 677.8,575.7 680.3,578.7 682.7,581.5 685.1,584.1 687.5,586.5 689.9,588.7 692.4,590.6 694.8,592.4 697.2,594.0 699.6,595.4 702.0,596.7 704.5,597.9 706.9,598.9 709.3,599.8 711.7,600.7" fill="none" stroke="#000" stroke-width="1.6" stroke-linejoin="round"/>
<polyline points="479.4,602.6 484.2,600.1 489.1,597.2 493.9,593.6 498.8,589.4 503.6,584.6 508.4,579.1 513.3,572.9 518.1,566.1 523.0,558.7 527.8,550.8 532.6,542.4 537.5,533.8 542.3,524.9 547.2,516.0 552.0,507.3 556.8,498.8 561.7,490.8 566.5,483.3 571.4,476.6 576.2,470.7 581.0,465.6 585.9,461.5 590.7,458.3 595.6,456.0 600.4,454.5 605.2,453.8 610.1,453.6 614.9,454.5 619.8,457.1 624.6,461.4 629.4,467.3 634.3,474.5 639.1,482.8 644.0,492.0 648.8,501.8 653.6,512.0 658.5,522.3 663.3,532.5 668.2,542.4 673.0,551.8 677.8,560.6 682.7,568.8 687.5,576.2 692.4,583.0 697.2,589.0 702.0,594.4 706.9,599.2 711.7,603.5" fill="none" stroke="#e8140f" stroke-width="1.6" stroke-linejoin="round"/>
<polyline points="479.4,598.0 481.8,597.5 484.2,596.9 486.7,596.3 489.1,595.5 491.5,594.7 493.9,593.7 496.3,592.7 498.8,591.5 501.2,590.2 503.6,588.7 506.0,587.1 508.4,585.3 510.9,583.4 513.3,581.3 515.7,579.0 518.1,576.6 520.5,574.0 523.0,571.2 525.4,568.2 527.8,565.1 530.2,561.8 532.6,558.4 535.1,554.8 537.5,551.1 539.9,547.3 542.3,543.4 544.7,539.3 547.2,535.3 549.6,531.2 552.0,527.0 554.4,522.9 556.8,518.8 559.3,514.7 561.7,510.7 564.1,506.8 566.5,503.0 568.9,499.3 571.4,495.8 573.8,492.4 576.2,489.3 578.6,486.3 581.0,483.6 583.5,481.1 585.9,478.8 588.3,476.7 590.7,474.9 593.1,473.4 595.6,472.0 598.0,471.0 600.4,470.1 602.8,469.4 605.2,469.0 607.7,468.7 610.1,468.5 612.5,468.5 614.9,468.7 617.3,469.1 619.8,469.9 622.2,471.0 624.6,472.4 627.0,474.0 629.4,476.0 631.9,478.2 634.3,480.6 636.7,483.2 639.1,486.1 641.5,489.2 644.0,492.6 646.4,496.1 648.8,499.8 651.2,503.7 653.6,507.6 656.1,511.7 658.5,515.9 660.9,520.2 663.3,524.5 665.7,528.8 668.2,533.2 670.6,537.5 673.0,541.9 675.4,546.2 677.8,550.4 680.3,554.7 682.7,558.8 685.1,562.9 687.5,566.9 689.9,570.8 692.4,574.6 694.8,578.4 697.2,582.0 699.6,585.6 702.0,589.0 704.5,592.3 706.9,595.6 709.3,598.7 711.7,601.8" fill="none" stroke="#000" stroke-width="1.6" stroke-linejoin="round"/>
<polyline points="479.4,600.4 484.2,599.5 489.1,598.3 493.9,596.7 498.8,594.6 503.6,592.0 508.4,588.9 513.3,585.1 518.1,580.5 523.0,575.3 527.8,569.4 532.6,562.9 537.5,555.7 542.3,548.1 547.2,540.2 552.0,532.2 556.8,524.2 561.7,516.4 566.5,509.1 571.4,502.4 576.2,496.4 581.0,491.3 585.9,487.1 590.7,484.0 595.6,481.8 600.4,480.4 605.2,479.9 610.1,479.8 614.9,480.7 619.8,482.5 624.6,485.2 629.4,488.9 634.3,493.3 639.1,498.5 644.0,504.4 648.8,510.8 653.6,517.8 658.5,525.0 663.3,532.5 668.2,540.1 673.0,547.7 677.8,555.1 682.7,562.4 687.5,569.5 692.4,576.4 697.2,582.9 702.0,589.1 706.9,595.0 711.7,600.6" fill="none" stroke="#e8140f" stroke-width="1.6" stroke-linejoin="round"/>
<polyline points="479.4,600.1 481.8,599.2 484.2,598.3 486.7,597.2 489.1,596.0 491.5,594.6 493.9,593.2 496.3,591.5 498.8,589.7 501.2,587.8 503.6,585.7 506.0,583.4 508.4,580.9 510.9,578.3 513.3,575.5 515.7,572.5 518.1,569.3 520.5,566.0 523.0,562.5 525.4,558.9 527.8,555.1 530.2,551.2 532.6,547.3 535.1,543.2 537.5,539.0 539.9,534.8 542.3,530.5 544.7,526.3 547.2,522.0 549.6,517.8 552.0,513.6 554.4,509.6 556.8,505.6 559.3,501.7 561.7,498.0 564.1,494.4 566.5,491.1 568.9,487.9 571.4,484.9 573.8,482.2 576.2,479.6 578.6,477.3 581.0,475.3 583.5,473.5 585.9,471.9 588.3,470.6 590.7,469.5 593.1,468.7 595.6,468.0 598.0,467.6 600.4,467.3 602.8,467.2 605.2,467.2 607.7,467.3 610.1,467.8 612.5,468.6 614.9,469.7 617.3,471.0 619.8,472.7 622.2,474.5 624.6,476.7 627.0,479.1 629.4,481.7 631.9,484.5 634.3,487.5 636.7,490.7 639.1,494.0 641.5,497.5 644.0,501.1 646.4,504.9 648.8,508.7 651.2,512.5 653.6,516.4 656.1,520.4 658.5,524.3 660.9,528.3 663.3,532.2 665.7,536.1 668.2,539.9 670.6,543.7 673.0,547.4 675.4,551.0 677.8,554.5 680.3,557.9 682.7,561.2 685.1,564.4 687.5,567.5 689.9,570.4 692.4,573.3 694.8,576.0 697.2,578.5 699.6,581.0 702.0,583.3 704.5,585.5 706.9,587.6 709.3,589.6 711.7,591.5" fill="none" stroke="#000" stroke-width="1.6" stroke-linejoin="round"/>
<polyline points="479.4,601.6 484.2,601.0 489.1,600.1 493.9,598.9 498.8,597.3 503.6,595.1 508.4,592.3 513.3,588.6 518.1,584.2 523.0,578.8 527.8,572.4 532.6,565.1 537.5,556.9 542.3,547.9 547.2,538.2 552.0,528.2 556.8,518.0 561.7,507.9 566.5,498.2 571.4,489.2 576.2,481.1 581.0,474.2 585.9,468.6 590.7,464.3 595.6,461.3 600.4,459.5 605.2,458.8 610.1,458.9 614.9,460.4 619.8,463.6 624.6,468.2 629.4,474.2 634.3,481.3 639.1,489.4 644.0,498.2 648.8,507.6 653.6,517.2 658.5,526.8 663.3,536.3 668.2,545.4 673.0,554.1 677.8,562.2 682.7,569.7 687.5,576.5 692.4,582.6 697.2,588.1 702.0,593.0 706.9,597.4 711.7,601.2" fill="none" stroke="#e8140f" stroke-width="1.6" stroke-linejoin="round"/>
<polyline points="479.4,601.9 484.2,599.9 489.1,597.5 493.9,594.5 498.8,591.0 503.6,586.8 508.4,582.0 513.3,576.6 518.1,570.5 523.0,563.8 527.8,556.5 532.6,548.8 537.5,540.7 542.3,532.4 547.2,524.0 552.0,515.6 556.8,507.4 561.7,499.6 566.5,492.3 571.4,485.7 576.2,479.7 581.0,474.7 585.9,470.5 590.7,467.2 595.6,464.8 600.4,463.2 605.2,462.4 610.1,462.1 614.9,462.6 619.8,464.8 624.6,468.5 629.4,473.7 634.3,480.1 639.1,487.7 644.0,496.2 648.8,505.6 653.6,515.4 658.5,525.4 663.3,535.5 668.2,545.5 673.0,555.1 677.8,564.3 682.7,573.0 687.5,581.2 692.4,588.8 697.2,595.8 702.0,602.4 706.9,608.4 711.7,614.1" fill="none" stroke="#e8140f" stroke-width="1.6" stroke-linejoin="round"/>
<polyline points="479.4,603.4 484.2,600.5 489.1,597.2 493.9,593.3 498.8,588.9 503.6,583.9 508.4,578.5 513.3,572.5 518.1,566.1 523.0,559.2 527.8,552.1 532.6,544.8 537.5,537.3 542.3,529.9 547.2,522.6 552.0,515.5 556.8,508.8 561.7,502.6 566.5,496.9 571.4,491.9 576.2,487.6 581.0,484.0 585.9,481.1 590.7,479.0 595.6,477.6 600.4,476.8 605.2,476.5 610.1,476.7 614.9,478.3 619.8,481.5 624.6,486.0 629.4,491.7 634.3,498.4 639.1,506.0 644.0,514.4 648.8,523.1 653.6,532.1 658.5,541.0 663.3,549.8 668.2,558.2 673.0,566.2 677.8,573.7 682.7,580.6 687.5,587.0 692.4,592.8 697.2,598.0 702.0,602.8 706.9,607.2 711.7,611.2" fill="none" stroke="#e8140f" stroke-width="1.6" stroke-linejoin="round"/>
<polyline points="479.4,599.8 484.2,597.4 489.1,594.6 493.9,591.2 498.8,587.1 503.6,582.5 508.4,577.1 513.3,571.1 518.1,564.4 523.0,557.1 527.8,549.2 532.6,540.9 537.5,532.3 542.3,523.4 547.2,514.5 552.0,505.7 556.8,497.1 561.7,489.0 566.5,481.4 571.4,474.5 576.2,468.4 581.0,463.2 585.9,458.9 590.7,455.6 595.6,453.1 600.4,451.5 605.2,450.7 610.1,450.5 614.9,451.0 619.8,452.9 624.6,456.1 629.4,460.7 634.3,466.3 639.1,473.0 644.0,480.6 648.8,489.0 653.6,497.8 658.5,507.0 663.3,516.4 668.2,525.8 673.0,535.0 677.8,543.9 682.7,552.5 687.5,560.6 692.4,568.1 697.2,575.2 702.0,581.7 706.9,587.6 711.7,593.1" fill="none" stroke="#e8140f" stroke-width="1.6" stroke-linejoin="round"/>
<polyline points="479.4,602.9 484.2,602.2 489.1,601.3 493.9,600.0 498.8,598.3 503.6,596.0 508.4,593.1 513.3,589.4 518.1,584.9 523.0,579.5 527.8,573.2 532.6,565.9 537.5,557.8 542.3,548.9 547.2,539.4 552.0,529.5 556.8,519.5 561.7,509.5 566.5,500.0 571.4,491.0 576.2,482.9 581.0,475.9 585.9,470.0 590.7,465.5 595.6,462.2 600.4,460.2 605.2,459.2 610.1,459.0 614.9,459.9 619.8,462.4 624.6,466.4 629.4,471.7 634.3,478.2 639.1,485.7 644.0,494.2 648.8,503.3 653.6,512.9 658.5,522.6 663.3,532.4 668.2,542.1 673.0,551.4 677.8,560.4 682.7,568.8 687.5,576.7 692.4,584.1 697.2,590.8 702.0,597.1 706.9,602.8 711.7,608.2" fill="none" stroke="#e8140f" stroke-width="1.6" stroke-linejoin="round"/>
<polyline points="479.4,602.8 484.2,601.8 489.1,600.5 493.9,598.8 498.8,596.6 503.6,593.9 508.4,590.4 513.3,586.3 518.1,581.4 523.0,575.8 527.8,569.3 532.6,562.1 537.5,554.2 542.3,545.8 547.2,536.9 552.0,527.8 556.8,518.7 561.7,509.8 566.5,501.3 571.4,493.4 576.2,486.3 581.0,480.1 585.9,474.9 590.7,470.8 595.6,467.8 600.4,465.9 605.2,464.8 610.1,464.5 614.9,465.0 619.8,466.7 624.6,469.6 629.4,473.7 634.3,478.8 639.1,484.8 644.0,491.7 648.8,499.3 653.6,507.3 658.5,515.7 663.3,524.3 668.2,532.9 673.0,541.4 677.8,549.7 682.7,557.6 687.5,565.2 692.4,572.3 697.2,578.9 702.0,585.1 706.9,590.8 711.7,596.1" fill="none" stroke="#e8140f" stroke-width="1.6" stroke-linejoin="round"/>
<path d="M469.9 423.5V632.7H731.9M463.9 601.3H469.9M463.9 559.4H469.9M463.9 517.5H469.9M463.9 475.6H469.9M463.9 433.7H469.9M479.4 632.7V639.2M539.9 632.7V639.2M600.4 632.7V639.2M660.9 632.7V639.2M721.4 632.7V639.2" fill="none" stroke="#000" stroke-width="1.7" stroke-linejoin="round"/>
<polyline points="120.0,933.1 122.4,932.8 124.8,932.5 127.3,932.1 129.7,931.7 132.1,931.2 134.5,930.7 136.9,930.0 139.4,929.2 141.8,928.4 144.2,927.4 146.6,926.3 149.0,925.1 151.5,923.7 153.9,922.1 156.3,920.4 158.7,918.5 161.1,916.4 163.6,914.1 166.0,911.6 168.4,908.9 170.8,906.0 173.2,902.9 175.7,899.5 178.1,895.9 180.5,892.1 182.9,888.2 185.3,884.0 187.8,879.6 190.2,875.1 192.6,870.4 195.0,865.6 197.4,860.7 199.9,855.7 202.3,850.6 204.7,845.5 207.1,840.5 209.5,835.4 212.0,830.4 214.4,825.5 216.8,820.7 219.2,816.1 221.6,811.7 224.1,807.4 226.5,803.4 228.9,799.7 231.3,796.2 233.7,793.0 236.2,790.1 238.6,787.5 241.0,785.3 243.4,783.4 245.8,781.8 248.3,780.5 250.7,779.5 253.1,778.8 255.5,778.4 257.9,778.2 260.4,778.2 262.8,778.5 265.2,779.0 267.6,779.7 270.0,780.7 272.5,782.0 274.9,783.5 277.3,785.3 279.7,787.2 282.1,789.4 284.6,791.9 287.0,794.5 289.4,797.3 291.8,800.4 294.2,803.6 296.7,807.0 299.1,810.5 301.5,814.2 303.9,818.0 306.3,822.0 308.8,826.0 311.2,830.1 313.6,834.2 316.0,838.4 318.4,842.7 320.9,846.9 323.3,851.2 325.7,855.5 328.1,859.7 330.5,863.9 333.0,868.1 335.4,872.3 337.8,876.4 340.2,880.4 342.6,884.4 345.1,888.2 347.5,892.1 349.9,895.8 352.3,899.4" fill="none" stroke="#000" stroke-width="1.6" stroke-linejoin="round"/>
<polyline points="120.0,928.8 124.8,928.5 129.7,928.0 134.5,927.2 139.4,926.2 144.2,924.8 149.0,922.9 153.9,920.5 158.7,917.5 163.6,913.7 168.4,909.1 173.2,903.6 178.1,897.2 182.9,889.9 187.8,881.7 192.6,872.9 197.4,863.5 202.3,853.7 207.1,843.8 212.0,834.1 216.8,824.7 221.6,816.1 226.5,808.4 231.3,801.8 236.2,796.4 241.0,792.4 245.8,789.8 250.7,788.4 255.5,788.0 260.4,788.5 265.2,790.1 270.0,792.6 274.9,796.2 279.7,800.6 284.6,805.9 289.4,812.0 294.2,818.9 299.1,826.3 303.9,830.8 308.8,832.2 313.6,833.8 318.4,842.5 323.3,858.3 328.1,873.9 333.0,886.0 337.8,894.4 342.6,902.5 347.5,895.7 352.3,888.6" fill="none" stroke="#e8140f" stroke-width="1.6" stroke-linejoin="round"/>
<polyline points="120.0,932.7 122.4,932.4 124.8,932.0 127.3,931.6 129.7,931.1 132.1,930.5 134.5,929.8 136.9,929.1 139.4,928.2 141.8,927.2 144.2,926.1 146.6,924.8 149.0,923.4 151.5,921.9 153.9,920.2 156.3,918.3 158.7,916.2 161.1,913.9 163.6,911.4 166.0,908.7 168.4,905.8 170.8,902.7 173.2,899.4 175.7,895.9 178.1,892.2 180.5,888.2 182.9,884.2 185.3,879.9 187.8,875.5 190.2,870.9 192.6,866.3 195.0,861.5 197.4,856.7 199.9,851.9 202.3,847.0 204.7,842.1 207.1,837.3 209.5,832.5 212.0,827.9 214.4,823.4 216.8,819.0 219.2,814.8 221.6,810.9 224.1,807.1 226.5,803.7 228.9,800.5 231.3,797.5 233.7,794.9 236.2,792.6 238.6,790.6 241.0,788.9 243.4,787.5 245.8,786.4 248.3,785.6 250.7,785.0 253.1,784.7 255.5,784.7 257.9,784.7 260.4,785.1 262.8,785.6 265.2,786.5 267.6,787.5 270.0,788.8 272.5,790.3 274.9,792.1 277.3,794.0 279.7,796.2 282.1,798.5 284.6,801.1 287.0,803.8 289.4,806.7 291.8,809.7 294.2,812.9 296.7,816.2 299.1,819.6 301.5,823.1 303.9,826.7 306.3,830.3 308.8,834.0 311.2,837.7 313.6,841.5 316.0,845.3 318.4,849.0 320.9,852.8 323.3,856.5 325.7,860.3 328.1,863.9 330.5,867.5 333.0,871.1 335.4,874.5 337.8,877.9 340.2,881.3 342.6,884.5 345.1,887.6 347.5,890.7 349.9,893.6 352.3,896.5" fill="none" stroke="#000" stroke-width="1.6" stroke-linejoin="round"/>
<polyline points="120.0,928.9 124.8,928.6 129.7,928.1 134.5,927.3 139.4,926.4 144.2,925.0 149.0,923.3 153.9,921.0 158.7,918.1 163.6,914.5 168.4,910.1 173.2,904.9 178.1,898.9 182.9,892.0 187.8,884.3 192.6,876.0 197.4,867.1 202.3,857.9 207.1,848.6 212.0,839.4 216.8,830.5 221.6,822.4 226.5,815.0 231.3,808.8 236.2,803.7 241.0,799.9 245.8,797.3 250.7,795.9 255.5,795.5 260.4,796.1 265.2,798.1 270.0,801.3 274.9,805.8 279.7,811.3 284.6,817.9 289.4,825.5 294.2,834.1 299.1,843.3 303.9,853.0 308.8,863.1 313.6,873.3 318.4,883.6 323.3,893.8 328.1,903.8 333.0,913.6 337.8,923.2 342.6,932.4 347.5,941.4 352.3,950.1" fill="none" stroke="#e8140f" stroke-width="1.6" stroke-linejoin="round"/>
<polyline points="120.0,932.9 122.4,932.6 124.8,932.3 127.3,932.0 129.7,931.5 132.1,931.0 134.5,930.4 136.9,929.8 139.4,929.0 141.8,928.1 144.2,927.2 146.6,926.0 149.0,924.8 151.5,923.4 153.9,921.8 156.3,920.1 158.7,918.1 161.1,916.0 163.6,913.7 166.0,911.2 168.4,908.5 170.8,905.6 173.2,902.4 175.7,899.1 178.1,895.5 180.5,891.7 182.9,887.7 185.3,883.6 187.8,879.2 190.2,874.7 192.6,870.1 195.0,865.3 197.4,860.5 199.9,855.5 202.3,850.5 204.7,845.5 207.1,840.5 209.5,835.6 212.0,830.7 214.4,825.9 216.8,821.2 219.2,816.7 221.6,812.4 224.1,808.2 226.5,804.4 228.9,800.7 231.3,797.4 233.7,794.3 236.2,791.6 238.6,789.1 241.0,787.0 243.4,785.2 245.8,783.7 248.3,782.5 250.7,781.6 253.1,781.0 255.5,780.6 257.9,780.5 260.4,780.6 262.8,780.9 265.2,781.6 267.6,782.6 270.0,783.9 272.5,785.5 274.9,787.4 277.3,789.6 279.7,792.0 282.1,794.7 284.6,797.7 287.0,800.9 289.4,804.3 291.8,808.0 294.2,811.8 296.7,815.9 299.1,820.0 301.5,824.4 303.9,828.8 306.3,833.3 308.8,838.0 311.2,842.6 313.6,847.3 316.0,852.1 318.4,856.8 320.9,861.5 323.3,866.2 325.7,870.9 328.1,875.5 330.5,880.0 333.0,884.5 335.4,888.9 337.8,893.2 340.2,897.4 342.6,901.5 345.1,905.5 347.5,909.4 349.9,913.2 352.3,916.9" fill="none" stroke="#000" stroke-width="1.6" stroke-linejoin="round"/>
<polyline points="120.0,928.8 124.8,928.4 129.7,927.9 134.5,927.1 139.4,926.1 144.2,924.7 149.0,922.9 153.9,920.6 158.7,917.6 163.6,913.9 168.4,909.4 173.2,904.0 178.1,897.8 182.9,890.7 187.8,882.8 192.6,874.2 197.4,865.1 202.3,855.6 207.1,846.0 212.0,836.5 216.8,827.4 221.6,819.0 226.5,811.4 231.3,804.9 236.2,799.7 241.0,795.7 245.8,793.0 250.7,791.5 255.5,791.1 260.4,791.4 265.2,792.7 270.0,794.9 274.9,798.0 279.7,801.9 284.6,806.6 289.4,812.1 294.2,818.4 299.1,825.4 303.9,832.8 308.8,840.8 313.6,849.0 318.4,857.5 323.3,866.1 328.1,874.8 333.0,883.4 337.8,892.0 342.6,900.4 347.5,908.7 352.3,916.7" fill="none" stroke="#e8140f" stroke-width="1.6" stroke-linejoin="round"/>
<polyline points="120.0,932.7 122.4,932.4 124.8,932.1 127.3,931.8 129.7,931.3 132.1,930.8 134.5,930.2 136.9,929.6 139.4,928.8 141.8,927.9 144.2,926.9 146.6,925.8 149.0,924.5 151.5,923.1 153.9,921.5 156.3,919.7 158.7,917.8 161.1,915.6 163.6,913.2 166.0,910.7 168.4,907.9 170.8,904.8 173.2,901.6 175.7,898.1 178.1,894.4 180.5,890.5 182.9,886.4 185.3,882.1 187.8,877.6 190.2,872.9 192.6,868.0 195.0,863.1 197.4,858.0 199.9,852.8 202.3,847.6 204.7,842.3 207.1,837.0 209.5,831.8 212.0,826.6 214.4,821.5 216.8,816.5 219.2,811.7 221.6,807.1 224.1,802.7 226.5,798.5 228.9,794.6 231.3,791.0 233.7,787.6 236.2,784.6 238.6,781.9 241.0,779.6 243.4,777.6 245.8,775.9 248.3,774.5 250.7,773.5 253.1,772.8 255.5,772.3 257.9,772.1 260.4,772.1 262.8,772.4 265.2,773.0 267.6,774.1 270.0,775.4 272.5,777.2 274.9,779.2 277.3,781.6 279.7,784.3 282.1,787.3 284.6,790.5 287.0,794.0 289.4,797.7 291.8,801.6 294.2,805.7 296.7,809.9 299.1,814.3 301.5,818.8 303.9,823.3 306.3,827.9 308.8,832.5 311.2,837.2 313.6,841.8 316.0,846.4 318.4,850.9 320.9,855.3 323.3,859.7 325.7,864.0 328.1,868.1 330.5,872.1 333.0,876.0 335.4,879.8 337.8,883.3 340.2,886.7 342.6,890.0 345.1,893.1 347.5,896.0 349.9,898.8 352.3,901.4" fill="none" stroke="#000" stroke-width="1.6" stroke-linejoin="round"/>
<polyline points="120.0,929.7 124.8,929.4 129.7,928.9 134.5,928.2 139.4,927.2 144.2,925.8 149.0,924.0 153.9,921.7 158.7,918.8 163.6,915.1 168.4,910.7 173.2,905.4 178.1,899.3 182.9,892.3 187.8,884.6 192.6,876.1 197.4,867.1 202.3,857.8 207.1,848.3 212.0,839.0 216.8,830.1 221.6,821.8 226.5,814.4 231.3,808.0 236.2,802.8 241.0,798.9 245.8,796.3 250.7,794.9 255.5,794.4 260.4,795.0 265.2,797.0 270.0,800.3 274.9,804.9 279.7,810.6 284.6,817.2 289.4,824.7 294.2,832.9 299.1,841.4 303.9,850.2 308.8,859.1 313.6,867.9 318.4,876.4 323.3,884.5 328.1,892.2 333.0,899.3 337.8,906.0 342.6,912.0 347.5,917.5 352.3,922.5" fill="none" stroke="#e8140f" stroke-width="1.6" stroke-linejoin="round"/>
<polyline points="120.0,932.7 122.4,932.4 124.8,932.1 127.3,931.7 129.7,931.2 132.1,930.7 134.5,930.1 136.9,929.4 139.4,928.6 141.8,927.6 144.2,926.6 146.6,925.4 149.0,924.1 151.5,922.6 153.9,920.9 156.3,919.1 158.7,917.0 161.1,914.8 163.6,912.3 166.0,909.7 168.4,906.8 170.8,903.7 173.2,900.4 175.7,896.8 178.1,893.0 180.5,889.0 182.9,884.9 185.3,880.5 187.8,875.9 190.2,871.1 192.6,866.2 195.0,861.2 197.4,856.1 199.9,850.9 202.3,845.7 204.7,840.4 207.1,835.1 209.5,829.9 212.0,824.8 214.4,819.8 216.8,814.9 219.2,810.2 221.6,805.6 224.1,801.3 226.5,797.3 228.9,793.5 231.3,790.0 233.7,786.8 236.2,783.9 238.6,781.4 241.0,779.2 243.4,777.3 245.8,775.8 248.3,774.5 250.7,773.6 253.1,773.0 255.5,772.7 257.9,772.6 260.4,772.7 262.8,773.2 265.2,774.1 267.6,775.4 270.0,777.2 272.5,779.3 274.9,781.8 277.3,784.6 279.7,787.8 282.1,791.3 284.6,795.1 287.0,799.1 289.4,803.4 291.8,807.9 294.2,812.7 296.7,817.6 299.1,822.6 301.5,827.7 303.9,833.0 306.3,838.2 308.8,843.5 311.2,848.8 313.6,854.1 316.0,859.3 318.4,864.4 320.9,869.5 323.3,874.5 325.7,879.3 328.1,884.0 330.5,888.6 333.0,893.0 335.4,897.3 337.8,901.5 340.2,905.4 342.6,909.3 345.1,912.9 347.5,916.4 349.9,919.8 352.3,923.0" fill="none" stroke="#000" stroke-width="1.6" stroke-linejoin="round"/>
<polyline points="120.0,929.3 124.8,928.9 129.7,928.4 134.5,927.6 139.4,926.6 144.2,925.2 149.0,923.3 153.9,920.9 158.7,917.9 163.6,914.2 168.4,909.7 173.2,904.3 178.1,898.1 182.9,891.1 187.8,883.2 192.6,874.7 197.4,865.7 202.3,856.4 207.1,847.0 212.0,837.7 216.8,828.9 221.6,820.7 226.5,813.4 231.3,807.1 236.2,802.1 241.0,798.3 245.8,795.8 250.7,794.5 255.5,794.1 260.4,794.6 265.2,796.0 270.0,798.4 274.9,801.6 279.7,805.7 284.6,810.6 289.4,816.2 294.2,822.5 299.1,829.2 303.9,836.5 308.8,844.0 313.6,851.7 318.4,859.5 323.3,867.3 328.1,875.0 333.0,882.6 337.8,889.9 342.6,897.0 347.5,903.8 352.3,910.2" fill="none" stroke="#e8140f" stroke-width="1.6" stroke-linejoin="round"/>
<path d="M110.9 754.7V962.8H372.5M104.9 931.3H110.9M104.9 889.4H110.9M104.9 847.5H110.9M104.9 805.6H110.9M104.9 763.7H110.9M120.0 962.8V969.3M180.5 962.8V969.3M241.0 962.8V969.3M301.5 962.8V969.3M362.0 962.8V969.3" fill="none" stroke="#000" stroke-width="1.7" stroke-linejoin="round"/>
<text x="102.6" y="937.1" font-size="19.2" text-anchor="end" >0</text>
<text x="102.6" y="895.2" font-size="19.2" text-anchor="end" >50</text>
<text x="102.6" y="853.3" font-size="19.2" text-anchor="end" >100</text>
<text x="102.6" y="811.4" font-size="19.2" text-anchor="end" >150</text>
<text x="102.6" y="769.5" font-size="19.2" text-anchor="end" >200</text>
<polyline points="475.9,931.6 478.3,930.7 480.7,929.8 483.2,928.8 485.6,927.6 488.0,926.3 490.4,924.9 492.8,923.3 495.3,921.6 497.7,919.6 500.1,917.5 502.5,915.2 504.9,912.7 507.4,910.0 509.8,907.0 512.2,903.8 514.6,900.4 517.0,896.8 519.5,892.9 521.9,888.7 524.3,884.4 526.7,879.8 529.1,875.0 531.6,870.0 534.0,864.7 536.4,859.3 538.8,853.8 541.2,848.0 543.7,842.2 546.1,836.3 548.5,830.3 550.9,824.2 553.3,818.2 555.8,812.2 558.2,806.3 560.6,800.4 563.0,794.8 565.4,789.3 567.9,784.0 570.3,779.0 572.7,774.3 575.1,770.0 577.5,766.0 580.0,762.5 582.4,759.3 584.8,756.7 587.2,754.5 589.6,752.8 592.1,751.6 594.5,751.0 596.9,750.9 599.3,751.1 601.7,751.7 604.2,752.5 606.6,753.6 609.0,755.1 611.4,756.8 613.8,758.8 616.3,761.0 618.7,763.5 621.1,766.3 623.5,769.3 625.9,772.6 628.4,776.1 630.8,779.8 633.2,783.8 635.6,788.0 638.0,792.3 640.5,796.9 642.9,801.5 645.3,806.3 647.7,811.3 650.1,816.3 652.6,821.4 655.0,826.5 657.4,831.7 659.8,837.0 662.2,842.2 664.7,847.5 667.1,852.7 669.5,858.0 671.9,863.2 674.3,868.4 676.8,873.5 679.2,878.6 681.6,883.6 684.0,888.5 686.4,893.4 688.9,898.2 691.3,902.9 693.7,907.5 696.1,912.1 698.5,916.6 701.0,920.9 703.4,925.2 705.8,929.4 708.2,933.6" fill="none" stroke="#000" stroke-width="1.6" stroke-linejoin="round"/>
<polyline points="475.9,924.4 480.7,922.1 485.6,919.2 490.4,915.8 495.3,911.8 500.1,907.1 504.9,901.7 509.8,895.5 514.6,888.7 519.5,881.1 524.3,873.0 529.1,864.4 534.0,855.5 538.8,846.4 543.7,837.4 548.5,828.7 553.3,820.6 558.2,813.2 563.0,806.8 567.9,801.6 572.7,797.8 577.5,795.6 582.4,794.9 587.2,795.7 592.1,797.6 596.9,800.7 601.7,804.9 606.6,810.0 611.4,815.9 616.3,822.5 618.4,825.8 630.8,920.8 635.4,931.5 644.6,882.2 652.6,879.0 655.0,882.4 659.8,888.9 664.7,894.8 669.5,900.3 674.3,905.2 679.2,909.6 684.0,913.5 688.9,916.9 693.7,919.9 698.5,922.5 703.4,924.8 708.2,926.8" fill="none" stroke="#e8140f" stroke-width="1.6" stroke-linejoin="round"/>
<polyline points="475.9,930.9 478.3,929.8 480.7,928.6 483.2,927.3 485.6,925.8 488.0,924.2 490.4,922.5 492.8,920.6 495.3,918.6 497.7,916.5 500.1,914.2 502.5,911.7 504.9,909.1 507.4,906.3 509.8,903.3 512.2,900.1 514.6,896.8 517.0,893.4 519.5,889.7 521.9,885.9 524.3,882.0 526.7,877.9 529.1,873.7 531.6,869.3 534.0,864.8 536.4,860.3 538.8,855.6 541.2,850.9 543.7,846.2 546.1,841.4 548.5,836.6 550.9,831.9 553.3,827.1 555.8,822.5 558.2,817.9 560.6,813.5 563.0,809.2 565.4,805.0 567.9,801.1 570.3,797.3 572.7,793.8 575.1,790.6 577.5,787.6 580.0,785.0 582.4,782.6 584.8,780.6 587.2,779.0 589.6,777.7 592.1,776.7 594.5,776.1 596.9,776.0 599.3,776.2 601.7,777.1 604.2,778.4 606.6,780.3 609.0,782.7 611.4,785.6 613.8,789.0 616.3,792.7 618.7,796.9 621.1,801.4 623.5,806.1 625.9,811.2 628.4,816.4 630.8,821.8 633.2,827.3 635.6,832.9 638.0,838.5 640.5,844.1 642.9,849.6 645.3,855.0 647.7,860.4 650.1,865.6 652.6,870.6 655.0,875.4 657.4,880.0 659.8,884.4 662.2,888.6 664.7,892.5 667.1,896.1 669.5,899.6 671.9,902.8 674.3,905.7 676.8,908.4 679.2,910.9 681.6,913.2 684.0,915.3 686.4,917.2 688.9,918.9 691.3,920.5 693.7,921.9 696.1,923.1 698.5,924.2 701.0,925.2 703.4,926.1 705.8,927.0 708.2,927.7" fill="none" stroke="#000" stroke-width="1.6" stroke-linejoin="round"/>
<polyline points="475.9,924.0 480.7,921.7 485.6,919.0 490.4,915.7 495.3,911.7 500.1,907.1 504.9,901.8 509.8,895.8 514.6,889.0 519.5,881.4 524.3,873.3 529.1,864.5 534.0,855.3 538.8,845.8 543.7,836.2 548.5,826.7 553.3,817.5 558.2,808.8 563.0,801.0 567.9,794.2 572.7,788.7 577.5,784.5 582.4,781.9 587.2,781.0 592.1,781.5 596.9,783.2 601.7,786.2 606.6,790.2 611.4,795.2 616.3,801.1 621.1,808.0 625.9,815.5 630.8,823.6 635.6,832.1 640.5,840.9 645.3,849.8 647.7,854.2 663.0,942.4 670.0,924.0 676.8,902.9 679.2,906.4 684.0,913.0 688.9,919.2 693.7,924.9 698.5,930.3 703.4,935.3 708.2,940.0" fill="none" stroke="#e8140f" stroke-width="1.6" stroke-linejoin="round"/>
<polyline points="475.9,931.1 478.3,930.2 480.7,929.1 483.2,928.0 485.6,926.7 488.0,925.3 490.4,923.8 492.8,922.1 495.3,920.2 497.7,918.2 500.1,915.9 502.5,913.5 504.9,911.0 507.4,908.2 509.8,905.2 512.2,902.0 514.6,898.6 517.0,895.0 519.5,891.2 521.9,887.1 524.3,882.9 526.7,878.5 529.1,873.9 531.6,869.2 534.0,864.3 536.4,859.2 538.8,854.0 541.2,848.8 543.7,843.4 546.1,838.1 548.5,832.7 550.9,827.3 553.3,821.9 555.8,816.6 558.2,811.5 560.6,806.5 563.0,801.6 565.4,796.9 567.9,792.5 570.3,788.4 572.7,784.6 575.1,781.1 577.5,777.9 580.0,775.2 582.4,772.8 584.8,770.9 587.2,769.4 589.6,768.4 592.1,767.8 594.5,767.7 596.9,768.0 599.3,768.7 601.7,769.8 604.2,771.3 606.6,773.1 609.0,775.3 611.4,777.9 613.8,780.8 616.3,783.9 618.7,787.4 621.1,791.1 623.5,795.2 625.9,799.4 628.4,803.9 630.8,808.6 633.2,813.4 635.6,818.4 638.0,823.5 640.5,828.7 642.9,834.0 645.3,839.2 647.7,844.5 650.1,849.8 652.6,855.1 655.0,860.3 657.4,865.4 659.8,870.5 662.2,875.5 664.7,880.3 667.1,885.1 669.5,889.7 671.9,894.2 674.3,898.6 676.8,902.8 679.2,906.9 681.6,910.8 684.0,914.6 686.4,918.3 688.9,921.9 691.3,925.3 693.7,928.6 696.1,931.8 698.5,934.9 701.0,937.9 703.4,940.8 705.8,943.6 708.2,946.3" fill="none" stroke="#000" stroke-width="1.6" stroke-linejoin="round"/>
<polyline points="475.9,923.2 480.7,921.2 485.6,918.7 490.4,915.7 495.3,912.1 500.1,907.7 504.9,902.6 509.8,896.7 514.6,890.1 519.5,882.6 524.3,874.5 529.1,865.7 534.0,856.3 538.8,846.7 543.7,836.9 548.5,827.2 553.3,817.8 558.2,809.1 563.0,801.2 567.9,794.6 572.7,789.2 577.5,785.5 582.4,783.4 587.2,783.1 592.1,784.6 596.9,787.7 601.7,792.5 606.6,798.7 611.4,806.1 616.3,814.6 621.1,823.9 625.9,833.9 630.8,844.1 635.6,854.3 640.5,864.5 645.3,874.3 650.1,883.6 655.0,892.4 655.0,892.4 657.4,882.0 664.7,895.0 671.9,931.0 679.2,914.1 686.4,947.3 693.7,933.9 701.0,934.2 708.2,941.0 708.2,952.1" fill="none" stroke="#e8140f" stroke-width="1.6" stroke-linejoin="round"/>
<polyline points="475.9,930.4 478.3,928.8 480.7,927.1 483.2,925.2 485.6,923.2 488.0,921.0 490.4,918.6 492.8,916.0 495.3,913.3 497.7,910.4 500.1,907.3 502.5,904.0 504.9,900.5 507.4,896.8 509.8,893.0 512.2,888.9 514.6,884.7 517.0,880.3 519.5,875.8 521.9,871.1 524.3,866.3 526.7,861.4 529.1,856.4 531.6,851.3 534.0,846.1 536.4,840.9 538.8,835.7 541.2,830.6 543.7,825.4 546.1,820.3 548.5,815.4 550.9,810.5 553.3,805.9 555.8,801.4 558.2,797.1 560.6,793.0 563.0,789.3 565.4,785.8 567.9,782.6 570.3,779.8 572.7,777.3 575.1,775.2 577.5,773.5 580.0,772.3 582.4,771.4 584.8,770.9 587.2,770.9 589.6,771.3 592.1,772.2 594.5,773.5 596.9,775.2 599.3,777.4 601.7,779.9 604.2,782.9 606.6,786.1 609.0,789.7 611.4,793.6 613.8,797.8 616.3,802.3 618.7,806.9 621.1,811.7 623.5,816.7 625.9,821.8 628.4,827.0 630.8,832.3 633.2,837.5 635.6,842.8 638.0,848.0 640.5,853.2 642.9,858.3 645.3,863.3 647.7,868.1 650.1,872.9 652.6,877.5 655.0,881.9 657.4,886.1 659.8,890.2 662.2,894.1 664.7,897.8 667.1,901.3 669.5,904.6 671.9,907.8 674.3,910.8 676.8,913.6 679.2,916.2 681.6,918.7 684.0,921.0 686.4,923.2 688.9,925.2 691.3,927.1 693.7,928.9 696.1,930.6 698.5,932.2 701.0,933.8 703.4,935.2 705.8,936.6 708.2,937.8" fill="none" stroke="#000" stroke-width="1.6" stroke-linejoin="round"/>
<polyline points="475.9,924.5 480.7,922.8 485.6,920.6 490.4,917.9 495.3,914.7 500.1,910.8 504.9,906.3 509.8,901.0 514.6,894.9 519.5,888.1 524.3,880.6 529.1,872.4 534.0,863.6 538.8,854.3 543.7,844.8 548.5,835.2 553.3,825.8 558.2,816.8 563.0,808.4 567.9,801.0 572.7,794.7 577.5,789.7 582.4,786.3 587.2,784.6 592.1,784.5 596.9,786.0 601.7,789.1 606.6,793.6 611.4,799.4 616.3,806.3 621.1,814.1 625.9,822.7 630.8,831.7 635.6,841.0 638.0,845.7 642.9,846.5 650.1,844.9 657.4,874.0 664.7,891.8 664.7,891.8 669.5,898.4 674.3,904.3 679.2,909.5 684.0,914.0 688.9,918.0 693.7,921.5 698.5,924.4 703.4,927.0 708.2,929.2" fill="none" stroke="#e8140f" stroke-width="1.6" stroke-linejoin="round"/>
<polyline points="475.9,930.4 478.3,929.2 480.7,927.9 483.2,926.4 485.6,924.8 488.0,923.0 490.4,921.1 492.8,918.9 495.3,916.6 497.7,914.2 500.1,911.5 502.5,908.6 504.9,905.5 507.4,902.2 509.8,898.7 512.2,894.9 514.6,891.0 517.0,886.8 519.5,882.4 521.9,877.9 524.3,873.1 526.7,868.1 529.1,863.0 531.6,857.7 534.0,852.3 536.4,846.7 538.8,841.1 541.2,835.4 543.7,829.6 546.1,823.8 548.5,818.0 550.9,812.3 553.3,806.6 555.8,801.1 558.2,795.7 560.6,790.4 563.0,785.4 565.4,780.6 567.9,776.1 570.3,771.9 572.7,768.0 575.1,764.5 577.5,761.4 580.0,758.6 582.4,756.4 584.8,754.5 587.2,753.2 589.6,752.3 592.1,751.9 594.5,751.9 596.9,752.2 599.3,752.8 601.7,753.8 604.2,755.0 606.6,756.4 609.0,758.2 611.4,760.2 613.8,762.4 616.3,764.9 618.7,767.6 621.1,770.6 623.5,773.9 625.9,777.3 628.4,781.0 630.8,784.8 633.2,788.8 635.6,793.0 638.0,797.4 640.5,801.9 642.9,806.5 645.3,811.2 647.7,815.9 650.1,820.8 652.6,825.7 655.0,830.6 657.4,835.5 659.8,840.5 662.2,845.5 664.7,850.4 667.1,855.3 669.5,860.2 671.9,865.0 674.3,869.8 676.8,874.5 679.2,879.2 681.6,883.7 684.0,888.2 686.4,892.6 688.9,897.0 691.3,901.2 693.7,905.4 696.1,909.4 698.5,913.4 701.0,917.2 703.4,921.0 705.8,924.7 708.2,928.3" fill="none" stroke="#000" stroke-width="1.6" stroke-linejoin="round"/>
<polyline points="475.9,924.3 480.7,921.5 485.6,918.1 490.4,914.1 495.3,909.4 500.1,904.0 504.9,897.8 509.8,891.0 514.6,883.4 519.5,875.2 524.3,866.4 529.1,857.2 534.0,847.8 538.8,838.2 543.7,828.8 548.5,819.7 553.3,811.2 558.2,803.5 563.0,796.9 567.9,791.5 572.7,787.5 577.5,785.0 582.4,784.2 587.2,785.0 592.1,787.5 596.9,791.5 601.7,796.9 606.6,803.5 611.4,811.2 616.3,819.7 621.1,828.9 625.9,838.4 630.8,848.1 635.6,857.7 640.5,867.1 645.3,876.1 650.1,884.6 655.0,892.5 659.8,899.7 664.7,906.3 669.5,912.2 671.9,914.9 679.2,907.2 686.4,903.3 696.1,916.7 703.4,944.4 708.2,942.0" fill="none" stroke="#e8140f" stroke-width="1.6" stroke-linejoin="round"/>
<polyline points="475.9,930.5 478.3,929.2 480.7,927.8 483.2,926.2 485.6,924.5 488.0,922.6 490.4,920.5 492.8,918.2 495.3,915.7 497.7,913.0 500.1,910.1 502.5,906.9 504.9,903.6 507.4,900.0 509.8,896.1 512.2,892.0 514.6,887.7 517.0,883.2 519.5,878.4 521.9,873.5 524.3,868.3 526.7,863.0 529.1,857.5 531.6,851.9 534.0,846.2 536.4,840.5 538.8,834.6 541.2,828.8 543.7,823.0 546.1,817.2 548.5,811.5 550.9,806.0 553.3,800.7 555.8,795.5 558.2,790.7 560.6,786.1 563.0,781.8 565.4,777.9 567.9,774.4 570.3,771.3 572.7,768.7 575.1,766.6 577.5,764.9 580.0,763.8 582.4,763.1 584.8,763.0 587.2,763.3 589.6,763.9 592.1,764.7 594.5,765.9 596.9,767.4 599.3,769.2 601.7,771.3 604.2,773.7 606.6,776.3 609.0,779.1 611.4,782.2 613.8,785.5 616.3,789.1 618.7,792.8 621.1,796.6 623.5,800.7 625.9,804.8 628.4,809.1 630.8,813.5 633.2,817.9 635.6,822.4 638.0,826.9 640.5,831.4 642.9,835.9 645.3,840.5 647.7,845.0 650.1,849.4 652.6,853.8 655.0,858.1 657.4,862.3 659.8,866.5 662.2,870.5 664.7,874.4 667.1,878.2 669.5,881.9 671.9,885.5 674.3,888.9 676.8,892.2 679.2,895.4 681.6,898.4 684.0,901.4 686.4,904.1 688.9,906.8 691.3,909.3 693.7,911.7 696.1,914.0 698.5,916.1 701.0,918.2 703.4,920.1 705.8,922.0 708.2,923.7" fill="none" stroke="#000" stroke-width="1.6" stroke-linejoin="round"/>
<polyline points="475.9,924.1 480.7,922.9 485.6,921.4 490.4,919.4 495.3,917.0 500.1,913.9 504.9,910.2 509.8,905.8 514.6,900.5 519.5,894.5 524.3,887.6 529.1,879.9 534.0,871.5 538.8,862.4 543.7,852.9 548.5,843.1 553.3,833.3 558.2,823.7 563.0,814.7 567.9,806.5 572.7,799.5 577.5,793.8 582.4,789.8 587.2,787.4 592.1,787.0 596.9,788.3 601.7,791.3 606.6,795.8 611.4,801.8 616.3,809.0 621.1,817.2 625.9,826.2 630.8,835.8 635.6,845.7 640.5,855.7 645.3,865.5 650.1,874.9 655.0,883.9 659.8,892.3 662.2,896.2 669.5,917.2 676.8,908.1 684.0,936.3 691.3,921.4 701.0,945.8 708.2,944.2" fill="none" stroke="#e8140f" stroke-width="1.6" stroke-linejoin="round"/>
<polyline points="475.9,930.5 478.3,928.9 480.7,927.2 483.2,925.3 485.6,923.2 488.0,921.0 490.4,918.6 492.8,915.9 495.3,913.1 497.7,910.1 500.1,907.0 502.5,903.6 504.9,900.0 507.4,896.2 509.8,892.2 512.2,888.0 514.6,883.7 517.0,879.2 519.5,874.5 521.9,869.7 524.3,864.8 526.7,859.7 529.1,854.6 531.6,849.4 534.0,844.1 536.4,838.9 538.8,833.6 541.2,828.4 543.7,823.3 546.1,818.3 548.5,813.4 550.9,808.7 553.3,804.2 555.8,799.9 558.2,795.8 560.6,792.1 563.0,788.6 565.4,785.5 567.9,782.8 570.3,780.4 572.7,778.5 575.1,777.0 577.5,775.9 580.0,775.2 582.4,775.0 584.8,775.2 587.2,776.0 589.6,777.4 592.1,779.2 594.5,781.6 596.9,784.4 599.3,787.6 601.7,791.3 604.2,795.4 606.6,799.7 609.0,804.4 611.4,809.3 613.8,814.5 616.3,819.8 618.7,825.3 621.1,830.8 623.5,836.4 625.9,841.9 628.4,847.5 630.8,852.9 633.2,858.3 635.6,863.5 638.0,868.6 640.5,873.5 642.9,878.2 645.3,882.7 647.7,887.0 650.1,891.1 652.6,894.9 655.0,898.5 657.4,901.9 659.8,905.0 662.2,907.9 664.7,910.6 667.1,913.1 669.5,915.4 671.9,917.5 674.3,919.4 676.8,921.2 679.2,922.8 681.6,924.3 684.0,925.6 686.4,926.8 688.9,927.9 691.3,929.0 693.7,929.9 696.1,930.7 698.5,931.5 701.0,932.3 703.4,932.9 705.8,933.6 708.2,934.2" fill="none" stroke="#000" stroke-width="1.6" stroke-linejoin="round"/>
<polyline points="475.9,924.1 480.7,922.3 485.6,920.1 490.4,917.4 495.3,914.1 500.1,910.0 504.9,905.3 509.8,899.8 514.6,893.4 519.5,886.4 524.3,878.6 529.1,870.2 534.0,861.3 538.8,852.2 543.7,843.0 548.5,834.0 553.3,825.4 558.2,817.6 563.0,810.8 567.9,805.3 572.7,801.3 577.5,798.9 582.4,798.2 587.2,799.2 592.1,801.7 592.1,801.7 596.9,818.3 601.7,829.5 609.0,825.5 613.8,829.1 616.3,833.2 621.1,841.8 625.9,850.7 630.8,859.6 635.6,868.4 640.5,876.7 645.3,884.6 650.1,891.9 655.0,898.6 659.8,904.6 664.7,909.9 669.5,914.6 674.3,918.7 679.2,922.3 684.0,925.3 688.9,927.9 693.7,930.2 698.5,932.2 703.4,934.0 708.2,935.5" fill="none" stroke="#e8140f" stroke-width="1.6" stroke-linejoin="round"/>
<polyline points="475.9,930.7 478.3,928.9 480.7,927.0 483.2,924.9 485.6,922.7 488.0,920.3 490.4,917.7 492.8,914.9 495.3,911.9 497.7,908.8 500.1,905.4 502.5,901.9 504.9,898.1 507.4,894.1 509.8,890.0 512.2,885.7 514.6,881.2 517.0,876.5 519.5,871.6 521.9,866.6 524.3,861.5 526.7,856.3 529.1,851.0 531.6,845.6 534.0,840.1 536.4,834.6 538.8,829.1 541.2,823.7 543.7,818.2 546.1,812.9 548.5,807.7 550.9,802.6 553.3,797.7 555.8,793.0 558.2,788.5 560.6,784.2 563.0,780.3 565.4,776.6 567.9,773.3 570.3,770.4 572.7,767.8 575.1,765.6 577.5,763.9 580.0,762.5 582.4,761.6 584.8,761.1 587.2,761.1 589.6,761.5 592.1,762.3 594.5,763.4 596.9,764.9 599.3,766.8 601.7,769.1 604.2,771.7 606.6,774.6 609.0,777.8 611.4,781.3 613.8,785.1 616.3,789.1 618.7,793.3 621.1,797.6 623.5,802.1 625.9,806.7 628.4,811.5 630.8,816.2 633.2,821.1 635.6,825.9 638.0,830.7 640.5,835.5 642.9,840.3 645.3,845.0 647.7,849.6 650.1,854.1 652.6,858.4 655.0,862.6 657.4,866.7 659.8,870.6 662.2,874.4 664.7,878.0 667.1,881.4 669.5,884.6 671.9,887.6 674.3,890.5 676.8,893.1 679.2,895.6 681.6,897.9 684.0,900.0 686.4,901.9 688.9,903.7 691.3,905.3 693.7,906.8 696.1,908.1 698.5,909.2 701.0,910.3 703.4,911.2 705.8,911.9 708.2,912.6" fill="none" stroke="#000" stroke-width="1.6" stroke-linejoin="round"/>
<polyline points="475.9,924.5 480.7,921.9 485.6,918.8 490.4,915.1 495.3,910.8 500.1,905.8 504.9,900.2 509.8,893.9 514.6,886.9 519.5,879.3 524.3,871.1 529.1,862.5 534.0,853.5 538.8,844.3 543.7,835.1 548.5,826.0 553.3,817.4 558.2,809.3 563.0,802.0 567.9,795.7 572.7,790.6 577.5,786.8 582.4,784.4 587.2,783.5 592.1,784.2 596.9,786.4 601.7,790.0 606.6,795.0 611.4,801.2 616.3,808.3 621.1,816.3 625.9,824.8 630.8,833.7 635.6,842.7 640.5,851.7 645.3,860.5 650.1,868.9 655.0,876.8 659.8,884.2 664.7,890.9 669.5,896.9 674.3,902.2 679.2,906.8 684.0,910.8 688.9,914.2 693.7,917.1 698.5,919.4 703.4,921.4 708.2,922.9" fill="none" stroke="#e8140f" stroke-width="1.6" stroke-linejoin="round"/>
<polyline points="475.9,930.6 478.3,929.5 480.7,928.3 483.2,927.0 485.6,925.6 488.0,924.0 490.4,922.3 492.8,920.4 495.3,918.4 497.7,916.2 500.1,913.8 502.5,911.3 504.9,908.5 507.4,905.6 509.8,902.6 512.2,899.3 514.6,895.8 517.0,892.2 519.5,888.4 521.9,884.4 524.3,880.2 526.7,875.9 529.1,871.4 531.6,866.8 534.0,862.1 536.4,857.3 538.8,852.4 541.2,847.4 543.7,842.4 546.1,837.3 548.5,832.3 550.9,827.3 553.3,822.3 555.8,817.4 558.2,812.7 560.6,808.0 563.0,803.6 565.4,799.3 567.9,795.3 570.3,791.5 572.7,788.0 575.1,784.8 577.5,781.9 580.0,779.4 582.4,777.2 584.8,775.4 587.2,774.0 589.6,773.0 592.1,772.4 594.5,772.2 596.9,772.6 599.3,773.5 601.7,775.0 604.2,777.0 606.6,779.6 609.0,782.7 611.4,786.3 613.8,790.2 616.3,794.6 618.7,799.3 621.1,804.4 623.5,809.7 625.9,815.3 628.4,821.0 630.8,826.9 633.2,832.9 635.6,838.9 638.0,845.0 640.5,851.0 642.9,856.9 645.3,862.8 647.7,868.5 650.1,874.0 652.6,879.4 655.0,884.6 657.4,889.5 659.8,894.3 662.2,898.8 664.7,903.1 667.1,907.2 669.5,911.1 671.9,914.7 674.3,918.2 676.8,921.4 679.2,924.5 681.6,927.4 684.0,930.1 686.4,932.7 688.9,935.2 691.3,937.5 693.7,939.7 696.1,941.8 698.5,943.9 701.0,945.9 703.4,947.8 705.8,949.7 708.2,951.5" fill="none" stroke="#000" stroke-width="1.6" stroke-linejoin="round"/>
<polyline points="475.9,923.5 480.7,922.2 485.6,920.5 490.4,918.3 495.3,915.6 500.1,912.3 504.9,908.2 509.8,903.5 514.6,897.9 519.5,891.5 524.3,884.3 529.1,876.4 534.0,868.0 538.8,859.0 543.7,849.9 548.5,840.7 553.3,831.9 558.2,823.6 563.0,816.2 567.9,809.9 572.7,805.1 577.5,801.8 582.4,800.3 587.2,800.6 592.1,802.3 596.9,805.5 601.7,810.1 606.6,815.8 611.4,822.6 616.3,830.2 621.1,838.4 625.9,847.1 630.8,856.0 635.6,864.8 640.5,873.5 645.3,881.9 650.1,889.8 655.0,897.1 659.8,904.0 664.7,910.2 669.5,915.8 674.3,920.9 679.2,925.5 684.0,929.6 688.9,933.4 693.7,936.8 698.5,939.9 703.4,942.8 708.2,945.6" fill="none" stroke="#e8140f" stroke-width="1.6" stroke-linejoin="round"/>
<polyline points="475.9,930.4 478.3,928.5 480.7,926.6 483.2,924.4 485.6,922.1 488.0,919.6 490.4,916.9 492.8,914.1 495.3,911.1 497.7,907.9 500.1,904.5 502.5,900.9 504.9,897.1 507.4,893.1 509.8,889.0 512.2,884.7 514.6,880.2 517.0,875.6 519.5,870.9 521.9,866.0 524.3,861.0 526.7,856.0 529.1,850.9 531.6,845.7 534.0,840.5 536.4,835.3 538.8,830.1 541.2,824.9 543.7,819.9 546.1,815.0 548.5,810.1 550.9,805.5 553.3,801.0 555.8,796.8 558.2,792.8 560.6,789.1 563.0,785.7 565.4,782.5 567.9,779.8 570.3,777.4 572.7,775.3 575.1,773.7 577.5,772.5 580.0,771.6 582.4,771.2 584.8,771.2 587.2,771.5 589.6,772.1 592.1,772.9 594.5,774.0 596.9,775.4 599.3,777.1 601.7,779.0 604.2,781.2 606.6,783.6 609.0,786.2 611.4,789.0 613.8,792.0 616.3,795.2 618.7,798.5 621.1,802.0 623.5,805.6 625.9,809.3 628.4,813.2 630.8,817.0 633.2,821.0 635.6,825.0 638.0,829.0 640.5,833.0 642.9,837.1 645.3,841.1 647.7,845.0 650.1,849.0 652.6,852.8 655.0,856.6 657.4,860.4 659.8,864.0 662.2,867.5 664.7,871.0 667.1,874.3 669.5,877.5 671.9,880.6 674.3,883.6 676.8,886.4 679.2,889.1 681.6,891.7 684.0,894.2 686.4,896.5 688.9,898.7 691.3,900.7 693.7,902.7 696.1,904.5 698.5,906.2 701.0,907.8 703.4,909.2 705.8,910.6 708.2,911.8" fill="none" stroke="#000" stroke-width="1.6" stroke-linejoin="round"/>
<polyline points="475.9,924.9 480.7,923.8 485.6,922.3 490.4,920.4 495.3,917.8 500.1,914.6 504.9,910.6 509.8,905.7 514.6,899.9 519.5,893.0 524.3,885.1 529.1,876.2 534.0,866.5 538.8,856.2 543.7,845.4 548.5,834.5 553.3,823.9 558.2,813.9 563.0,805.0 567.9,797.6 572.7,791.9 577.5,788.2 582.4,786.8 587.2,787.3 592.1,789.3 596.9,792.7 601.7,797.3 606.6,803.1 611.4,809.9 616.3,817.5 621.1,825.7 625.9,834.4 630.8,843.2 635.6,852.1 640.5,860.9 645.3,869.4 650.1,877.5 655.0,885.1 659.8,892.1 664.7,898.6 669.5,904.4 674.3,909.7 679.2,914.4 684.0,918.5 688.9,922.1 693.7,925.3 698.5,928.1 703.4,930.5 708.2,932.7" fill="none" stroke="#e8140f" stroke-width="1.6" stroke-linejoin="round"/>
<polyline points="475.9,924.2 480.7,922.4 485.6,920.1 490.4,917.4 495.3,914.1 500.1,910.1 504.9,905.5 509.8,900.2 514.6,894.2 519.5,887.5 524.3,880.1 529.1,872.1 534.0,863.5 538.8,854.6 543.7,845.5 548.5,836.3 553.3,827.4 558.2,818.9 563.0,811.0 567.9,804.1 572.7,798.2 577.5,793.7 582.4,790.6 587.2,789.1 592.1,789.1 596.9,790.3 601.7,792.6 606.6,796.0 611.4,800.3 616.3,805.6 621.1,811.6 625.9,818.4 630.8,825.7 635.6,833.5 640.5,841.5 645.3,849.6 650.1,857.8 655.0,865.8 659.8,873.7 664.7,881.2 669.5,888.4 674.3,895.3 679.2,901.7 684.0,907.7 688.9,913.2 693.7,918.3 698.5,923.1 703.4,927.4 708.2,931.4" fill="none" stroke="#e8140f" stroke-width="1.6" stroke-linejoin="round"/>
<polyline points="475.9,923.0 480.7,921.6 485.6,919.8 490.4,917.5 495.3,914.7 500.1,911.2 504.9,907.0 509.8,902.0 514.6,896.3 519.5,889.7 524.3,882.3 529.1,874.3 534.0,865.6 538.8,856.6 543.7,847.3 548.5,838.1 553.3,829.2 558.2,821.0 563.0,813.6 567.9,807.4 572.7,802.7 577.5,799.5 582.4,798.2 587.2,798.5 592.1,800.2 596.9,803.3 601.7,807.5 606.6,812.9 611.4,819.3 616.3,826.5 621.1,834.3 625.9,842.6 630.8,851.2 635.6,859.8 640.5,868.3 645.3,876.5 650.1,884.5 655.0,891.9 659.8,898.9 664.7,905.4 669.5,911.3 674.3,916.7 679.2,921.6 684.0,926.0 688.9,930.0 693.7,933.7 698.5,937.0 703.4,940.1 708.2,942.9" fill="none" stroke="#e8140f" stroke-width="1.6" stroke-linejoin="round"/>
<path d="M466.5 754.7V962.8H728.4M460.5 928.2H466.5M460.5 886.4H466.5M460.5 844.5H466.5M460.5 802.7H466.5M460.5 760.9H466.5M475.9 962.8V969.3M536.4 962.8V969.3M596.9 962.8V969.3M657.4 962.8V969.3M717.9 962.8V969.3" fill="none" stroke="#000" stroke-width="1.7" stroke-linejoin="round"/>
<polyline points="120.0,1190.5 122.4,1189.9 124.8,1189.3 127.3,1188.6 129.7,1187.8 132.1,1186.9 134.5,1186.0 136.9,1184.8 139.4,1183.6 141.8,1182.2 144.2,1180.7 146.6,1179.0 149.0,1177.2 151.5,1175.2 153.9,1173.0 156.3,1170.7 158.7,1168.2 161.1,1165.5 163.6,1162.7 166.0,1159.7 168.4,1156.5 170.8,1153.2 173.2,1149.7 175.7,1146.0 178.1,1142.3 180.5,1138.4 182.9,1134.4 185.3,1130.3 187.8,1126.2 190.2,1122.0 192.6,1117.8 195.0,1113.6 197.4,1109.3 199.9,1105.2 202.3,1101.1 204.7,1097.0 207.1,1093.1 209.5,1089.3 212.0,1085.6 214.4,1082.1 216.8,1078.8 219.2,1075.7 221.6,1072.8 224.1,1070.1 226.5,1067.6 228.9,1065.4 231.3,1063.4 233.7,1061.6 236.2,1060.1 238.6,1058.8 241.0,1057.8 243.4,1056.9 245.8,1056.3 248.3,1055.8 250.7,1055.6 253.1,1055.5 255.5,1055.4 257.9,1055.6 260.4,1056.1 262.8,1056.9 265.2,1058.0 267.6,1059.4 270.0,1061.1 272.5,1063.0 274.9,1065.2 277.3,1067.6 279.7,1070.2 282.1,1073.1 284.6,1076.2 287.0,1079.6 289.4,1083.1 291.8,1086.8 294.2,1090.7 296.7,1094.7 299.1,1098.9 301.5,1103.1 303.9,1107.5 306.3,1111.9 308.8,1116.3 311.2,1120.8 313.6,1125.3 316.0,1129.8 318.4,1134.3 320.9,1138.8 323.3,1143.2 325.7,1147.6 328.1,1152.0 330.5,1156.2 333.0,1160.4 335.4,1164.5 337.8,1168.5 340.2,1172.5 342.6,1176.3 345.1,1180.1 347.5,1183.7 349.9,1187.3 352.3,1190.8" fill="none" stroke="#000" stroke-width="1.6" stroke-linejoin="round"/>
<polyline points="120.0,1191.4 124.8,1190.0 129.7,1188.3 134.5,1186.1 139.4,1183.5 144.2,1180.4 149.0,1176.6 153.9,1172.3 158.7,1167.4 163.6,1161.9 168.4,1155.7 173.2,1149.1 178.1,1141.9 182.9,1134.4 187.8,1126.7 192.6,1118.8 197.4,1110.9 202.3,1103.2 207.1,1095.8 212.0,1088.9 216.8,1082.6 221.6,1077.0 226.5,1072.1 231.3,1068.1 236.2,1065.0 241.0,1062.7 245.8,1061.1 250.7,1060.3 255.5,1060.1 260.4,1060.4 265.2,1061.9 270.0,1064.6 274.9,1068.3 279.7,1073.1 284.6,1078.7 289.4,1085.1 294.2,1092.2 299.1,1099.9 303.9,1107.8 308.8,1116.0 313.6,1124.3 318.4,1132.5 323.3,1140.5 328.1,1148.2 333.0,1155.6 337.8,1162.6 342.6,1169.1 347.5,1175.2 352.3,1180.9" fill="none" stroke="#e8140f" stroke-width="1.6" stroke-linejoin="round"/>
<polyline points="120.0,1194.4 122.4,1193.5 124.8,1192.5 127.3,1191.4 129.7,1190.1 132.1,1188.8 134.5,1187.2 136.9,1185.6 139.4,1183.7 141.8,1181.7 144.2,1179.5 146.6,1177.2 149.0,1174.7 151.5,1171.9 153.9,1169.0 156.3,1166.0 158.7,1162.7 161.1,1159.2 163.6,1155.6 166.0,1151.8 168.4,1147.9 170.8,1143.8 173.2,1139.5 175.7,1135.2 178.1,1130.7 180.5,1126.1 182.9,1121.5 185.3,1116.7 187.8,1112.0 190.2,1107.2 192.6,1102.5 195.0,1097.8 197.4,1093.1 199.9,1088.5 202.3,1084.0 204.7,1079.6 207.1,1075.4 209.5,1071.3 212.0,1067.3 214.4,1063.6 216.8,1060.1 219.2,1056.8 221.6,1053.8 224.1,1050.9 226.5,1048.4 228.9,1046.0 231.3,1044.0 233.7,1042.2 236.2,1040.6 238.6,1039.3 241.0,1038.3 243.4,1037.4 245.8,1036.8 248.3,1036.4 250.7,1036.1 253.1,1036.0 255.5,1036.0 257.9,1036.4 260.4,1037.1 262.8,1038.2 265.2,1039.8 267.6,1041.7 270.0,1043.9 272.5,1046.6 274.9,1049.5 277.3,1052.7 279.7,1056.3 282.1,1060.1 284.6,1064.1 287.0,1068.4 289.4,1072.8 291.8,1077.4 294.2,1082.2 296.7,1087.0 299.1,1091.9 301.5,1096.9 303.9,1101.9 306.3,1106.8 308.8,1111.8 311.2,1116.7 313.6,1121.5 316.0,1126.2 318.4,1130.9 320.9,1135.4 323.3,1139.8 325.7,1144.0 328.1,1148.1 330.5,1152.0 333.0,1155.8 335.4,1159.4 337.8,1162.8 340.2,1166.1 342.6,1169.1 345.1,1172.0 347.5,1174.8 349.9,1177.3 352.3,1179.7" fill="none" stroke="#000" stroke-width="1.6" stroke-linejoin="round"/>
<polyline points="120.0,1190.7 124.8,1189.4 129.7,1187.9 134.5,1186.0 139.4,1183.7 144.2,1180.9 149.0,1177.6 153.9,1173.7 158.7,1169.3 163.6,1164.3 168.4,1158.8 173.2,1152.8 178.1,1146.4 182.9,1139.6 187.8,1132.6 192.6,1125.4 197.4,1118.3 202.3,1111.3 207.1,1104.6 212.0,1098.3 216.8,1092.6 221.6,1087.5 226.5,1083.1 231.3,1079.4 236.2,1076.5 241.0,1074.4 245.8,1073.0 250.7,1072.3 255.5,1072.0 260.4,1072.4 265.2,1074.0 270.0,1076.7 274.9,1080.5 279.7,1085.4 284.6,1091.1 289.4,1097.6 294.2,1104.7 299.1,1112.2 303.9,1120.0 308.8,1128.0 313.6,1135.8 318.4,1143.5 323.3,1151.0 328.1,1158.0 333.0,1164.7 337.8,1170.9 342.6,1176.6 347.5,1181.8 352.3,1186.5" fill="none" stroke="#e8140f" stroke-width="1.6" stroke-linejoin="round"/>
<polyline points="120.0,1195.6 122.4,1194.5 124.8,1193.2 127.3,1191.9 129.7,1190.4 132.1,1188.8 134.5,1187.0 136.9,1185.1 139.4,1183.1 141.8,1180.9 144.2,1178.5 146.6,1176.0 149.0,1173.4 151.5,1170.5 153.9,1167.6 156.3,1164.4 158.7,1161.1 161.1,1157.7 163.6,1154.2 166.0,1150.5 168.4,1146.7 170.8,1142.8 173.2,1138.8 175.7,1134.7 178.1,1130.5 180.5,1126.3 182.9,1122.0 185.3,1117.8 187.8,1113.5 190.2,1109.2 192.6,1105.0 195.0,1100.8 197.4,1096.7 199.9,1092.7 202.3,1088.7 204.7,1084.9 207.1,1081.3 209.5,1077.7 212.0,1074.4 214.4,1071.2 216.8,1068.2 219.2,1065.4 221.6,1062.8 224.1,1060.4 226.5,1058.2 228.9,1056.3 231.3,1054.5 233.7,1053.0 236.2,1051.7 238.6,1050.6 241.0,1049.7 243.4,1048.9 245.8,1048.4 248.3,1048.0 250.7,1047.8 253.1,1047.7 255.5,1047.7 257.9,1047.9 260.4,1048.5 262.8,1049.5 265.2,1050.7 267.6,1052.3 270.0,1054.3 272.5,1056.5 274.9,1059.0 277.3,1061.8 279.7,1064.8 282.1,1068.0 284.6,1071.5 287.0,1075.1 289.4,1078.9 291.8,1082.8 294.2,1086.8 296.7,1091.0 299.1,1095.2 301.5,1099.4 303.9,1103.6 306.3,1107.9 308.8,1112.1 311.2,1116.3 313.6,1120.4 316.0,1124.4 318.4,1128.4 320.9,1132.3 323.3,1136.0 325.7,1139.6 328.1,1143.1 330.5,1146.4 333.0,1149.5 335.4,1152.5 337.8,1155.4 340.2,1158.1 342.6,1160.6 345.1,1162.9 347.5,1165.1 349.9,1167.1 352.3,1169.0" fill="none" stroke="#000" stroke-width="1.6" stroke-linejoin="round"/>
<polyline points="120.0,1192.8 124.8,1191.4 129.7,1189.6 134.5,1187.4 139.4,1184.7 144.2,1181.4 149.0,1177.6 153.9,1173.2 158.7,1168.1 163.6,1162.4 168.4,1156.1 173.2,1149.3 178.1,1142.0 182.9,1134.3 187.8,1126.3 192.6,1118.2 197.4,1110.2 202.3,1102.3 207.1,1094.7 212.0,1087.7 216.8,1081.2 221.6,1075.4 226.5,1070.5 231.3,1066.4 236.2,1063.2 241.0,1060.8 245.8,1059.2 250.7,1058.4 255.5,1058.1 260.4,1058.5 265.2,1060.1 270.0,1062.9 274.9,1066.9 279.7,1071.9 284.6,1077.8 289.4,1084.7 294.2,1092.2 299.1,1100.3 303.9,1108.7 308.8,1117.4 313.6,1126.1 318.4,1134.7 323.3,1143.2 328.1,1151.4 333.0,1159.2 337.8,1166.6 342.6,1173.5 347.5,1180.0 352.3,1186.0" fill="none" stroke="#e8140f" stroke-width="1.6" stroke-linejoin="round"/>
<polyline points="120.0,1199.1 122.4,1198.5 124.8,1197.8 127.3,1197.0 129.7,1196.1 132.1,1195.1 134.5,1194.0 136.9,1192.7 139.4,1191.2 141.8,1189.6 144.2,1187.8 146.6,1185.9 149.0,1183.7 151.5,1181.3 153.9,1178.8 156.3,1176.0 158.7,1173.0 161.1,1169.7 163.6,1166.3 166.0,1162.6 168.4,1158.7 170.8,1154.6 173.2,1150.3 175.7,1145.8 178.1,1141.1 180.5,1136.3 182.9,1131.3 185.3,1126.2 187.8,1121.0 190.2,1115.8 192.6,1110.5 195.0,1105.2 197.4,1099.9 199.9,1094.6 202.3,1089.4 204.7,1084.3 207.1,1079.3 209.5,1074.5 212.0,1069.9 214.4,1065.4 216.8,1061.2 219.2,1057.3 221.6,1053.6 224.1,1050.2 226.5,1047.1 228.9,1044.2 231.3,1041.7 233.7,1039.5 236.2,1037.6 238.6,1036.0 241.0,1034.7 243.4,1033.7 245.8,1032.9 248.3,1032.4 250.7,1032.1 253.1,1032.0 255.5,1032.0 257.9,1032.3 260.4,1032.9 262.8,1033.9 265.2,1035.3 267.6,1036.9 270.0,1038.9 272.5,1041.2 274.9,1043.8 277.3,1046.6 279.7,1049.7 282.1,1053.2 284.6,1056.9 287.0,1060.8 289.4,1065.0 291.8,1069.5 294.2,1074.1 296.7,1078.9 299.1,1083.9 301.5,1089.0 303.9,1094.2 306.3,1099.5 308.8,1104.9 311.2,1110.3 313.6,1115.8 316.0,1121.3 318.4,1126.8 320.9,1132.3 323.3,1137.7 325.7,1143.1 328.1,1148.5 330.5,1153.8 333.0,1159.0 335.4,1164.1 337.8,1169.2 340.2,1174.2 342.6,1179.1 345.1,1183.9 347.5,1188.6 349.9,1193.2 352.3,1197.8" fill="none" stroke="#000" stroke-width="1.6" stroke-linejoin="round"/>
<polyline points="120.0,1192.4 124.8,1191.1 129.7,1189.5 134.5,1187.4 139.4,1185.0 144.2,1182.0 149.0,1178.6 153.9,1174.5 158.7,1169.9 163.6,1164.7 168.4,1159.0 173.2,1152.7 178.1,1146.1 182.9,1139.0 187.8,1131.8 192.6,1124.4 197.4,1117.0 202.3,1109.8 207.1,1102.9 212.0,1096.4 216.8,1090.5 221.6,1085.2 226.5,1080.7 231.3,1076.9 236.2,1073.9 241.0,1071.8 245.8,1070.3 250.7,1069.6 255.5,1069.3 260.4,1069.6 265.2,1071.0 270.0,1073.5 274.9,1077.0 279.7,1081.4 284.6,1086.6 289.4,1092.4 294.2,1098.8 299.1,1105.5 303.9,1112.4 308.8,1119.4 313.6,1126.3 318.4,1133.0 323.3,1139.5 328.1,1145.6 333.0,1151.3 337.8,1156.4 342.6,1161.1 347.5,1165.2 352.3,1168.7" fill="none" stroke="#e8140f" stroke-width="1.6" stroke-linejoin="round"/>
<polyline points="120.0,1190.7 122.4,1189.8 124.8,1188.8 127.3,1187.7 129.7,1186.4 132.1,1185.0 134.5,1183.5 136.9,1181.8 139.4,1180.0 141.8,1178.0 144.2,1175.8 146.6,1173.4 149.0,1170.9 151.5,1168.2 153.9,1165.3 156.3,1162.2 158.7,1158.9 161.1,1155.4 163.6,1151.8 166.0,1148.0 168.4,1144.1 170.8,1139.9 173.2,1135.7 175.7,1131.3 178.1,1126.9 180.5,1122.3 182.9,1117.6 185.3,1112.9 187.8,1108.2 190.2,1103.4 192.6,1098.7 195.0,1094.0 197.4,1089.3 199.9,1084.8 202.3,1080.3 204.7,1075.9 207.1,1071.7 209.5,1067.6 212.0,1063.7 214.4,1060.0 216.8,1056.5 219.2,1053.3 221.6,1050.3 224.1,1047.5 226.5,1044.9 228.9,1042.6 231.3,1040.6 233.7,1038.8 236.2,1037.3 238.6,1036.0 241.0,1035.0 243.4,1034.2 245.8,1033.6 248.3,1033.2 250.7,1033.0 253.1,1032.9 255.5,1032.9 257.9,1033.3 260.4,1034.0 262.8,1035.2 265.2,1036.7 267.6,1038.6 270.0,1040.8 272.5,1043.4 274.9,1046.3 277.3,1049.5 279.7,1053.0 282.1,1056.8 284.6,1060.9 287.0,1065.2 289.4,1069.8 291.8,1074.5 294.2,1079.5 296.7,1084.6 299.1,1089.8 301.5,1095.1 303.9,1100.5 306.3,1106.0 308.8,1111.5 311.2,1116.9 313.6,1122.4 316.0,1127.9 318.4,1133.3 320.9,1138.6 323.3,1143.8 325.7,1149.0 328.1,1154.1 330.5,1159.0 333.0,1163.9 335.4,1168.6 337.8,1173.2 340.2,1177.7 342.6,1182.1 345.1,1186.3 347.5,1190.4 349.9,1194.5 352.3,1198.3" fill="none" stroke="#000" stroke-width="1.6" stroke-linejoin="round"/>
<polyline points="120.0,1199.4 124.8,1198.0 129.7,1196.2 134.5,1194.1 139.4,1191.4 144.2,1188.3 149.0,1184.6 153.9,1180.3 158.7,1175.3 163.6,1169.8 168.4,1163.6 173.2,1157.0 178.1,1149.9 182.9,1142.4 187.8,1134.6 192.6,1126.7 197.4,1118.9 202.3,1111.2 207.1,1103.9 212.0,1097.0 216.8,1090.7 221.6,1085.1 226.5,1080.3 231.3,1076.3 236.2,1073.1 241.0,1070.8 245.8,1069.3 250.7,1068.5 255.5,1068.2 260.4,1068.6 265.2,1070.2 270.0,1073.1 274.9,1077.1 279.7,1082.1 284.6,1088.1 289.4,1094.7 294.2,1101.9 299.1,1109.5 303.9,1117.3 308.8,1125.1 313.6,1132.7 318.4,1140.1 323.3,1147.1 328.1,1153.7 333.0,1159.7 337.8,1165.2 342.6,1170.1 347.5,1174.4 352.3,1178.1" fill="none" stroke="#e8140f" stroke-width="1.6" stroke-linejoin="round"/>
<polyline points="120.0,1196.9 124.8,1195.5 129.7,1193.8 134.5,1191.7 139.4,1189.1 144.2,1185.9 149.0,1182.2 153.9,1177.9 158.7,1173.0 163.6,1167.5 168.4,1161.4 173.2,1154.8 178.1,1147.7 182.9,1140.2 187.8,1132.5 192.6,1124.6 197.4,1116.8 202.3,1109.1 207.1,1101.8 212.0,1094.9 216.8,1088.6 221.6,1083.0 226.5,1078.2 231.3,1074.2 236.2,1071.0 241.0,1068.7 245.8,1067.2 250.7,1066.4 255.5,1066.2 260.4,1066.5 265.2,1067.9 270.0,1070.5 274.9,1074.1 279.7,1078.7 284.6,1084.1 289.4,1090.2 294.2,1096.9 299.1,1104.0 303.9,1111.4 308.8,1118.9 313.6,1126.3 318.4,1133.7 323.3,1140.8 328.1,1147.5 333.0,1153.9 337.8,1159.8 342.6,1165.2 347.5,1170.1 352.3,1174.5" fill="none" stroke="#e8140f" stroke-width="1.6" stroke-linejoin="round"/>
<polyline points="120.0,1195.2 124.8,1193.6 129.7,1191.6 134.5,1189.2 139.4,1186.2 144.2,1182.7 149.0,1178.5 153.9,1173.7 158.7,1168.1 163.6,1161.9 168.4,1155.0 173.2,1147.5 178.1,1139.5 182.9,1131.1 187.8,1122.4 192.6,1113.6 197.4,1104.7 202.3,1096.1 207.1,1087.9 212.0,1080.2 216.8,1073.1 221.6,1066.8 226.5,1061.4 231.3,1056.9 236.2,1053.4 241.0,1050.8 245.8,1049.1 250.7,1048.2 255.5,1047.9 260.4,1048.2 265.2,1049.8 270.0,1052.6 274.9,1056.5 279.7,1061.5 284.6,1067.5 289.4,1074.5 294.2,1082.3 299.1,1090.9 303.9,1100.0 308.8,1109.5 313.6,1119.2 318.4,1129.0 323.3,1138.9 328.1,1148.6 333.0,1158.1 337.8,1167.4 342.6,1176.3 347.5,1185.0 352.3,1193.3" fill="none" stroke="#e8140f" stroke-width="1.6" stroke-linejoin="round"/>
<polyline points="120.0,1191.4 124.8,1190.1 129.7,1188.6 134.5,1186.6 139.4,1184.3 144.2,1181.5 149.0,1178.1 153.9,1174.2 158.7,1169.8 163.6,1164.8 168.4,1159.3 173.2,1153.3 178.1,1146.9 182.9,1140.1 187.8,1133.1 192.6,1126.0 197.4,1118.9 202.3,1112.0 207.1,1105.3 212.0,1099.1 216.8,1093.4 221.6,1088.3 226.5,1084.0 231.3,1080.3 236.2,1077.5 241.0,1075.4 245.8,1074.0 250.7,1073.3 255.5,1073.0 260.4,1073.4 265.2,1074.9 270.0,1077.7 274.9,1081.5 279.7,1086.3 284.6,1092.1 289.4,1098.8 294.2,1106.4 299.1,1114.6 303.9,1123.2 308.8,1132.2 313.6,1141.3 318.4,1150.5 323.3,1159.6 328.1,1168.6 333.0,1177.3 337.8,1185.8 342.6,1194.0 347.5,1201.9 352.3,1209.5" fill="none" stroke="#e8140f" stroke-width="1.6" stroke-linejoin="round"/>
<path d="M110.9 1018.3V1229.2H372.5M104.9 1196.3H110.9M104.9 1154.4H110.9M104.9 1112.4H110.9M104.9 1070.5H110.9M104.9 1028.6H110.9M120.0 1229.2V1235.7M180.5 1229.2V1235.7M241.0 1229.2V1235.7M301.5 1229.2V1235.7M362.0 1229.2V1235.7" fill="none" stroke="#000" stroke-width="1.7" stroke-linejoin="round"/>
<text x="102.6" y="1202.1" font-size="19.2" text-anchor="end" >0</text>
<text x="102.6" y="1160.2" font-size="19.2" text-anchor="end" >50</text>
<text x="102.6" y="1118.2" font-size="19.2" text-anchor="end" >100</text>
<text x="102.6" y="1076.3" font-size="19.2" text-anchor="end" >150</text>
<text x="102.6" y="1034.4" font-size="19.2" text-anchor="end" >200</text>
<text x="120.8" y="1253.5" font-size="19.2" text-anchor="middle" >0</text>
<text x="241.8" y="1253.5" font-size="19.2" text-anchor="middle" >100</text>
<text x="362.8" y="1253.5" font-size="19.2" text-anchor="middle" >200</text>
<polyline points="475.9,1192.2 478.3,1191.3 480.7,1190.3 483.2,1189.1 485.6,1187.7 488.0,1186.2 490.4,1184.5 492.8,1182.6 495.3,1180.5 497.7,1178.1 500.1,1175.6 502.5,1172.8 504.9,1169.8 507.4,1166.5 509.8,1163.0 512.2,1159.3 514.6,1155.3 517.0,1151.1 519.5,1146.7 521.9,1142.2 524.3,1137.4 526.7,1132.5 529.1,1127.5 531.6,1122.4 534.0,1117.2 536.4,1112.0 538.8,1106.8 541.2,1101.6 543.7,1096.5 546.1,1091.5 548.5,1086.6 550.9,1081.8 553.3,1077.3 555.8,1073.0 558.2,1069.0 560.6,1065.2 563.0,1061.7 565.4,1058.5 567.9,1055.6 570.3,1053.1 572.7,1050.9 575.1,1049.0 577.5,1047.5 580.0,1046.2 582.4,1045.3 584.8,1044.6 587.2,1044.2 589.6,1044.0 592.1,1043.9 594.5,1044.1 596.9,1044.5 599.3,1045.3 601.7,1046.4 604.2,1047.7 606.6,1049.4 609.0,1051.3 611.4,1053.5 613.8,1056.0 616.3,1058.6 618.7,1061.5 621.1,1064.7 623.5,1068.0 625.9,1071.6 628.4,1075.3 630.8,1079.2 633.2,1083.2 635.6,1087.4 638.0,1091.6 640.5,1095.9 642.9,1100.3 645.3,1104.7 647.7,1109.2 650.1,1113.7 652.6,1118.1 655.0,1122.6 657.4,1127.0 659.8,1131.3 662.2,1135.6 664.7,1139.8 667.1,1144.0 669.5,1148.0 671.9,1152.0 674.3,1155.9 676.8,1159.6 679.2,1163.3 681.6,1166.8 684.0,1170.3 686.4,1173.6 688.9,1176.8 691.3,1179.9 693.7,1182.9 696.1,1185.7 698.5,1188.5 701.0,1191.2 703.4,1193.8 705.8,1196.2 708.2,1198.6" fill="none" stroke="#000" stroke-width="1.6" stroke-linejoin="round"/>
<polyline points="475.9,1200.0 480.7,1197.8 485.6,1195.1 490.4,1191.7 495.3,1187.7 500.1,1182.8 504.9,1177.2 509.8,1170.9 514.6,1163.7 519.5,1155.9 524.3,1147.4 529.1,1138.4 534.0,1129.2 538.8,1119.7 543.7,1110.3 548.5,1101.1 553.3,1092.4 558.2,1084.4 563.0,1077.1 567.9,1070.7 572.7,1065.4 577.5,1061.2 582.4,1058.1 587.2,1056.0 592.1,1054.8 596.9,1054.4 601.7,1054.6 606.6,1056.0 611.4,1058.4 616.3,1062.0 621.1,1066.6 625.9,1072.1 630.8,1078.4 635.6,1085.5 640.5,1093.3 645.3,1101.5 650.1,1110.0 655.0,1118.7 659.8,1127.5 664.7,1136.2 669.5,1144.7 674.3,1153.0 679.2,1161.0 684.0,1168.6 688.9,1175.8 693.7,1182.7 698.5,1189.2 703.4,1195.4 708.2,1201.2" fill="none" stroke="#e8140f" stroke-width="1.6" stroke-linejoin="round"/>
<polyline points="475.9,1188.2 478.3,1187.0 480.7,1185.7 483.2,1184.3 485.6,1182.6 488.0,1180.8 490.4,1178.8 492.8,1176.6 495.3,1174.1 497.7,1171.4 500.1,1168.5 502.5,1165.4 504.9,1162.1 507.4,1158.5 509.8,1154.7 512.2,1150.6 514.6,1146.4 517.0,1141.9 519.5,1137.3 521.9,1132.5 524.3,1127.5 526.7,1122.5 529.1,1117.3 531.6,1112.1 534.0,1106.8 536.4,1101.5 538.8,1096.3 541.2,1091.1 543.7,1086.0 546.1,1081.0 548.5,1076.1 550.9,1071.5 553.3,1067.0 555.8,1062.8 558.2,1058.8 560.6,1055.2 563.0,1051.8 565.4,1048.7 567.9,1045.9 570.3,1043.5 572.7,1041.3 575.1,1039.5 577.5,1038.0 580.0,1036.8 582.4,1035.9 584.8,1035.3 587.2,1034.9 589.6,1034.7 592.1,1034.7 594.5,1034.9 596.9,1035.5 599.3,1036.5 601.7,1037.8 604.2,1039.6 606.6,1041.6 609.0,1044.1 611.4,1046.8 613.8,1049.9 616.3,1053.2 618.7,1056.9 621.1,1060.7 623.5,1064.8 625.9,1069.1 628.4,1073.6 630.8,1078.2 633.2,1083.0 635.6,1087.8 638.0,1092.7 640.5,1097.7 642.9,1102.6 645.3,1107.6 647.7,1112.5 650.1,1117.4 652.6,1122.3 655.0,1127.0 657.4,1131.7 659.8,1136.3 662.2,1140.7 664.7,1145.0 667.1,1149.1 669.5,1153.1 671.9,1157.0 674.3,1160.7 676.8,1164.2 679.2,1167.6 681.6,1170.8 684.0,1173.9 686.4,1176.8 688.9,1179.6 691.3,1182.2 693.7,1184.7 696.1,1187.1 698.5,1189.3 701.0,1191.4 703.4,1193.4 705.8,1195.3 708.2,1197.0" fill="none" stroke="#000" stroke-width="1.6" stroke-linejoin="round"/>
<polyline points="475.9,1199.9 480.7,1199.1 485.6,1197.8 490.4,1196.1 495.3,1193.7 500.1,1190.5 504.9,1186.4 509.8,1181.3 514.6,1175.0 519.5,1167.6 524.3,1159.1 529.1,1149.6 534.0,1139.2 538.8,1128.3 543.7,1117.2 548.5,1106.3 553.3,1095.8 558.2,1086.2 563.0,1077.8 567.9,1070.8 572.7,1065.4 577.5,1061.6 582.4,1059.2 587.2,1058.2 592.1,1058.1 596.9,1059.1 601.7,1061.1 606.6,1064.2 611.4,1068.3 616.3,1073.3 621.1,1079.1 625.9,1085.5 630.8,1092.6 635.6,1100.0 640.5,1107.8 645.3,1115.7 650.1,1123.5 655.0,1131.3 659.8,1138.9 664.7,1146.2 669.5,1153.1 674.3,1159.6 679.2,1165.7 684.0,1171.4 688.9,1176.6 693.7,1181.3 698.5,1185.6 703.4,1189.6 708.2,1193.1" fill="none" stroke="#e8140f" stroke-width="1.6" stroke-linejoin="round"/>
<polyline points="475.9,1195.2 478.3,1193.9 480.7,1192.5 483.2,1190.8 485.6,1189.0 488.0,1187.1 490.4,1184.9 492.8,1182.5 495.3,1180.0 497.7,1177.2 500.1,1174.2 502.5,1171.0 504.9,1167.6 507.4,1164.0 509.8,1160.2 512.2,1156.2 514.6,1152.1 517.0,1147.8 519.5,1143.3 521.9,1138.7 524.3,1134.0 526.7,1129.2 529.1,1124.3 531.6,1119.4 534.0,1114.5 536.4,1109.6 538.8,1104.8 541.2,1100.0 543.7,1095.4 546.1,1090.8 548.5,1086.4 550.9,1082.2 553.3,1078.2 555.8,1074.4 558.2,1070.8 560.6,1067.5 563.0,1064.5 565.4,1061.7 567.9,1059.3 570.3,1057.1 572.7,1055.2 575.1,1053.6 577.5,1052.3 580.0,1051.2 582.4,1050.4 584.8,1049.8 587.2,1049.5 589.6,1049.3 592.1,1049.3 594.5,1049.4 596.9,1049.9 599.3,1050.7 601.7,1051.9 604.2,1053.3 606.6,1055.0 609.0,1057.1 611.4,1059.4 613.8,1061.9 616.3,1064.7 618.7,1067.8 621.1,1071.1 623.5,1074.6 625.9,1078.3 628.4,1082.2 630.8,1086.2 633.2,1090.4 635.6,1094.7 638.0,1099.1 640.5,1103.5 642.9,1108.0 645.3,1112.6 647.7,1117.1 650.1,1121.7 652.6,1126.2 655.0,1130.7 657.4,1135.1 659.8,1139.5 662.2,1143.8 664.7,1148.1 667.1,1152.2 669.5,1156.3 671.9,1160.2 674.3,1164.0 676.8,1167.8 679.2,1171.4 681.6,1174.9 684.0,1178.2 686.4,1181.5 688.9,1184.7 691.3,1187.7 693.7,1190.7 696.1,1193.5 698.5,1196.2 701.0,1198.9 703.4,1201.4 705.8,1203.9 708.2,1206.3" fill="none" stroke="#000" stroke-width="1.6" stroke-linejoin="round"/>
<polyline points="475.9,1200.0 480.7,1196.7 485.6,1192.7 490.4,1187.9 495.3,1182.3 500.1,1175.8 504.9,1168.5 509.8,1160.5 514.6,1151.7 519.5,1142.3 524.3,1132.6 529.1,1122.6 534.0,1112.6 538.8,1102.8 543.7,1093.4 548.5,1084.7 553.3,1076.8 558.2,1069.8 563.0,1063.9 567.9,1059.2 572.7,1055.6 577.5,1053.2 582.4,1051.8 587.2,1051.2 592.1,1051.3 596.9,1052.5 601.7,1054.9 606.6,1058.5 611.4,1063.0 616.3,1068.5 621.1,1074.9 625.9,1081.9 630.8,1089.6 635.6,1097.6 640.5,1105.9 645.3,1114.2 650.1,1122.6 655.0,1130.8 659.8,1138.7 664.7,1146.3 669.5,1153.5 674.3,1160.2 679.2,1166.5 684.0,1172.3 688.9,1177.6 693.7,1182.4 698.5,1186.8 703.4,1190.7 708.2,1194.3" fill="none" stroke="#e8140f" stroke-width="1.6" stroke-linejoin="round"/>
<polyline points="475.9,1188.3 478.3,1187.0 480.7,1185.5 483.2,1183.9 485.6,1182.1 488.0,1180.1 490.4,1177.9 492.8,1175.5 495.3,1172.8 497.7,1169.9 500.1,1166.8 502.5,1163.5 504.9,1159.9 507.4,1156.1 509.8,1152.1 512.2,1147.8 514.6,1143.3 517.0,1138.7 519.5,1133.9 521.9,1128.9 524.3,1123.8 526.7,1118.5 529.1,1113.2 531.6,1107.8 534.0,1102.4 536.4,1097.0 538.8,1091.7 541.2,1086.4 543.7,1081.2 546.1,1076.2 548.5,1071.3 550.9,1066.6 553.3,1062.1 555.8,1057.8 558.2,1053.8 560.6,1050.1 563.0,1046.7 565.4,1043.6 567.9,1040.9 570.3,1038.4 572.7,1036.3 575.1,1034.5 577.5,1033.0 580.0,1031.8 582.4,1030.9 584.8,1030.2 587.2,1029.8 589.6,1029.7 592.1,1029.6 594.5,1029.8 596.9,1030.4 599.3,1031.4 601.7,1032.7 604.2,1034.4 606.6,1036.5 609.0,1038.9 611.4,1041.6 613.8,1044.6 616.3,1047.9 618.7,1051.4 621.1,1055.2 623.5,1059.3 625.9,1063.6 628.4,1068.0 630.8,1072.6 633.2,1077.4 635.6,1082.3 638.0,1087.2 640.5,1092.2 642.9,1097.3 645.3,1102.3 647.7,1107.4 650.1,1112.4 652.6,1117.4 655.0,1122.3 657.4,1127.2 659.8,1131.9 662.2,1136.6 664.7,1141.1 667.1,1145.5 669.5,1149.8 671.9,1153.9 674.3,1157.9 676.8,1161.8 679.2,1165.5 681.6,1169.0 684.0,1172.4 686.4,1175.7 688.9,1178.8 691.3,1181.7 693.7,1184.6 696.1,1187.3 698.5,1189.8 701.0,1192.3 703.4,1194.6 705.8,1196.9 708.2,1199.0" fill="none" stroke="#000" stroke-width="1.6" stroke-linejoin="round"/>
<polyline points="475.9,1199.9 480.7,1197.0 485.6,1193.5 490.4,1189.4 495.3,1184.5 500.1,1178.8 504.9,1172.4 509.8,1165.2 514.6,1157.4 519.5,1149.0 524.3,1140.1 529.1,1130.9 534.0,1121.5 538.8,1112.1 543.7,1102.9 548.5,1094.1 553.3,1085.9 558.2,1078.4 563.0,1071.8 567.9,1066.1 572.7,1061.4 577.5,1057.8 582.4,1055.3 587.2,1053.6 592.1,1052.9 596.9,1052.7 601.7,1053.3 606.6,1055.1 611.4,1058.0 616.3,1061.9 621.1,1066.8 625.9,1072.5 630.8,1079.1 635.6,1086.3 640.5,1094.1 645.3,1102.4 650.1,1110.8 655.0,1119.4 659.8,1128.0 664.7,1136.5 669.5,1144.8 674.3,1152.9 679.2,1160.6 684.0,1167.9 688.9,1174.9 693.7,1181.5 698.5,1187.7 703.4,1193.5 708.2,1199.0" fill="none" stroke="#e8140f" stroke-width="1.6" stroke-linejoin="round"/>
<polyline points="475.9,1188.4 478.3,1187.5 480.7,1186.4 483.2,1185.2 485.6,1183.9 488.0,1182.3 490.4,1180.6 492.8,1178.6 495.3,1176.5 497.7,1174.1 500.1,1171.4 502.5,1168.5 504.9,1165.4 507.4,1162.0 509.8,1158.3 512.2,1154.4 514.6,1150.2 517.0,1145.8 519.5,1141.2 521.9,1136.3 524.3,1131.3 526.7,1126.1 529.1,1120.7 531.6,1115.3 534.0,1109.7 536.4,1104.1 538.8,1098.5 541.2,1093.0 543.7,1087.5 546.1,1082.0 548.5,1076.8 550.9,1071.7 553.3,1066.8 555.8,1062.1 558.2,1057.8 560.6,1053.7 563.0,1049.9 565.4,1046.4 567.9,1043.3 570.3,1040.6 572.7,1038.2 575.1,1036.2 577.5,1034.5 580.0,1033.2 582.4,1032.2 584.8,1031.4 587.2,1031.0 589.6,1030.8 592.1,1030.7 594.5,1030.9 596.9,1031.4 599.3,1032.3 601.7,1033.5 604.2,1035.0 606.6,1036.7 609.0,1038.8 611.4,1041.2 613.8,1043.9 616.3,1046.8 618.7,1049.9 621.1,1053.3 623.5,1056.9 625.9,1060.7 628.4,1064.6 630.8,1068.8 633.2,1073.0 635.6,1077.4 638.0,1081.8 640.5,1086.4 642.9,1090.9 645.3,1095.6 647.7,1100.2 650.1,1104.8 652.6,1109.4 655.0,1114.0 657.4,1118.5 659.8,1122.9 662.2,1127.3 664.7,1131.6 667.1,1135.7 669.5,1139.8 671.9,1143.8 674.3,1147.6 676.8,1151.3 679.2,1154.9 681.6,1158.3 684.0,1161.6 686.4,1164.8 688.9,1167.8 691.3,1170.7 693.7,1173.4 696.1,1176.1 698.5,1178.6 701.0,1180.9 703.4,1183.2 705.8,1185.3 708.2,1187.3" fill="none" stroke="#000" stroke-width="1.6" stroke-linejoin="round"/>
<polyline points="475.9,1199.8 480.7,1197.1 485.6,1193.8 490.4,1189.6 495.3,1184.6 500.1,1178.7 504.9,1171.9 509.8,1164.1 514.6,1155.4 519.5,1146.0 524.3,1135.8 529.1,1125.2 534.0,1114.3 538.8,1103.3 543.7,1092.5 548.5,1082.2 553.3,1072.5 558.2,1063.7 563.0,1056.0 567.9,1049.5 572.7,1044.3 577.5,1040.4 582.4,1037.7 587.2,1036.2 592.1,1035.6 596.9,1035.8 601.7,1037.1 606.6,1039.7 611.4,1043.5 616.3,1048.4 621.1,1054.3 625.9,1061.1 630.8,1068.7 635.6,1076.9 640.5,1085.6 645.3,1094.6 650.1,1103.7 655.0,1112.9 659.8,1122.0 664.7,1130.8 669.5,1139.3 674.3,1147.4 679.2,1155.1 684.0,1162.3 688.9,1169.0 693.7,1175.2 698.5,1180.9 703.4,1186.1 708.2,1191.0" fill="none" stroke="#e8140f" stroke-width="1.6" stroke-linejoin="round"/>
<polyline points="475.9,1188.7 478.3,1187.7 480.7,1186.6 483.2,1185.3 485.6,1183.9 488.0,1182.3 490.4,1180.6 492.8,1178.7 495.3,1176.6 497.7,1174.3 500.1,1171.8 502.5,1169.1 504.9,1166.2 507.4,1163.1 509.8,1159.9 512.2,1156.4 514.6,1152.8 517.0,1149.0 519.5,1145.1 521.9,1141.0 524.3,1136.8 526.7,1132.6 529.1,1128.2 531.6,1123.8 534.0,1119.3 536.4,1114.9 538.8,1110.5 541.2,1106.1 543.7,1101.8 546.1,1097.6 548.5,1093.6 550.9,1089.7 553.3,1085.9 555.8,1082.4 558.2,1079.1 560.6,1076.0 563.0,1073.2 565.4,1070.6 567.9,1068.3 570.3,1066.2 572.7,1064.5 575.1,1063.0 577.5,1061.7 580.0,1060.7 582.4,1060.0 584.8,1059.4 587.2,1059.1 589.6,1059.0 592.1,1058.9 594.5,1059.1 596.9,1059.5 599.3,1060.3 601.7,1061.3 604.2,1062.5 606.6,1064.1 609.0,1065.9 611.4,1067.9 613.8,1070.2 616.3,1072.7 618.7,1075.4 621.1,1078.3 623.5,1081.4 625.9,1084.7 628.4,1088.1 630.8,1091.7 633.2,1095.4 635.6,1099.1 638.0,1103.0 640.5,1106.9 642.9,1110.9 645.3,1114.9 647.7,1118.9 650.1,1123.0 652.6,1127.0 655.0,1131.0 657.4,1134.9 659.8,1138.8 662.2,1142.6 664.7,1146.3 667.1,1150.0 669.5,1153.6 671.9,1157.0 674.3,1160.4 676.8,1163.7 679.2,1166.9 681.6,1169.9 684.0,1172.9 686.4,1175.7 688.9,1178.4 691.3,1181.1 693.7,1183.6 696.1,1186.0 698.5,1188.3 701.0,1190.6 703.4,1192.7 705.8,1194.8 708.2,1196.7" fill="none" stroke="#000" stroke-width="1.6" stroke-linejoin="round"/>
<polyline points="475.9,1200.0 480.7,1196.4 485.6,1192.2 490.4,1187.3 495.3,1181.6 500.1,1175.2 504.9,1168.0 509.8,1160.1 514.6,1151.5 519.5,1142.4 524.3,1132.8 529.1,1122.9 534.0,1112.9 538.8,1103.0 543.7,1093.2 548.5,1083.9 553.3,1075.1 558.2,1067.1 563.0,1059.9 567.9,1053.6 572.7,1048.4 577.5,1044.3 582.4,1041.2 587.2,1039.0 592.1,1037.8 596.9,1037.4 601.7,1037.5 606.6,1038.9 611.4,1041.8 616.3,1046.0 621.1,1051.5 625.9,1058.0 630.8,1065.5 635.6,1073.9 640.5,1082.8 645.3,1092.2 650.1,1101.7 655.0,1111.4 659.8,1120.9 664.7,1130.2 669.5,1139.1 674.3,1147.6 679.2,1155.5 684.0,1162.9 688.9,1169.8 693.7,1176.0 698.5,1181.7 703.4,1186.8 708.2,1191.5" fill="none" stroke="#e8140f" stroke-width="1.6" stroke-linejoin="round"/>
<polyline points="475.9,1189.2 478.3,1188.3 480.7,1187.2 483.2,1186.0 485.6,1184.6 488.0,1183.1 490.4,1181.5 492.8,1179.6 495.3,1177.6 497.7,1175.3 500.1,1172.9 502.5,1170.3 504.9,1167.5 507.4,1164.4 509.8,1161.2 512.2,1157.8 514.6,1154.2 517.0,1150.4 519.5,1146.4 521.9,1142.3 524.3,1138.1 526.7,1133.8 529.1,1129.4 531.6,1124.9 534.0,1120.3 536.4,1115.8 538.8,1111.3 541.2,1106.8 543.7,1102.4 546.1,1098.1 548.5,1093.9 550.9,1089.8 553.3,1086.0 555.8,1082.3 558.2,1078.9 560.6,1075.7 563.0,1072.7 565.4,1070.0 567.9,1067.6 570.3,1065.5 572.7,1063.6 575.1,1062.0 577.5,1060.7 580.0,1059.7 582.4,1058.9 584.8,1058.3 587.2,1058.0 589.6,1057.8 592.1,1057.8 594.5,1057.9 596.9,1058.4 599.3,1059.2 601.7,1060.4 604.2,1061.8 606.6,1063.6 609.0,1065.6 611.4,1068.0 613.8,1070.6 616.3,1073.4 618.7,1076.4 621.1,1079.7 623.5,1083.2 625.9,1086.8 628.4,1090.6 630.8,1094.6 633.2,1098.6 635.6,1102.8 638.0,1107.0 640.5,1111.2 642.9,1115.5 645.3,1119.8 647.7,1124.1 650.1,1128.3 652.6,1132.5 655.0,1136.6 657.4,1140.7 659.8,1144.7 662.2,1148.6 664.7,1152.3 667.1,1156.0 669.5,1159.5 671.9,1162.9 674.3,1166.2 676.8,1169.4 679.2,1172.4 681.6,1175.3 684.0,1178.1 686.4,1180.8 688.9,1183.3 691.3,1185.7 693.7,1188.0 696.1,1190.2 698.5,1192.3 701.0,1194.3 703.4,1196.2 705.8,1198.0 708.2,1199.7" fill="none" stroke="#000" stroke-width="1.6" stroke-linejoin="round"/>
<polyline points="475.9,1200.0 480.7,1195.7 485.6,1190.6 490.4,1184.7 495.3,1177.9 500.1,1170.3 504.9,1161.9 509.8,1152.7 514.6,1143.0 519.5,1132.7 524.3,1122.2 529.1,1111.5 534.0,1100.9 538.8,1090.7 543.7,1080.9 548.5,1071.9 553.3,1063.7 558.2,1056.6 563.0,1050.5 567.9,1045.7 572.7,1042.0 577.5,1039.4 582.4,1037.9 587.2,1037.3 592.1,1037.3 596.9,1038.6 601.7,1041.3 606.6,1045.4 611.4,1050.8 616.3,1057.3 621.1,1064.8 625.9,1073.1 630.8,1082.2 635.6,1091.6 640.5,1101.4 645.3,1111.2 650.1,1120.9 655.0,1130.4 659.8,1139.5 664.7,1148.2 669.5,1156.4 674.3,1164.0 679.2,1171.1 684.0,1177.6 688.9,1183.5 693.7,1188.9 698.5,1193.8 703.4,1198.3 708.2,1202.5" fill="none" stroke="#e8140f" stroke-width="1.6" stroke-linejoin="round"/>
<polyline points="475.9,1189.9 478.3,1188.6 480.7,1187.2 483.2,1185.7 485.6,1183.9 488.0,1182.0 490.4,1179.9 492.8,1177.6 495.3,1175.0 497.7,1172.3 500.1,1169.3 502.5,1166.2 504.9,1162.8 507.4,1159.2 509.8,1155.4 512.2,1151.4 514.6,1147.2 517.0,1142.8 519.5,1138.3 521.9,1133.6 524.3,1128.8 526.7,1123.9 529.1,1119.0 531.6,1114.0 534.0,1108.9 536.4,1103.9 538.8,1098.9 541.2,1094.0 543.7,1089.2 546.1,1084.5 548.5,1080.0 550.9,1075.7 553.3,1071.5 555.8,1067.6 558.2,1063.9 560.6,1060.5 563.0,1057.3 565.4,1054.5 567.9,1051.9 570.3,1049.6 572.7,1047.7 575.1,1046.0 577.5,1044.6 580.0,1043.5 582.4,1042.7 584.8,1042.1 587.2,1041.8 589.6,1041.6 592.1,1041.5 594.5,1041.7 596.9,1042.3 599.3,1043.1 601.7,1044.3 604.2,1045.8 606.6,1047.6 609.0,1049.8 611.4,1052.2 613.8,1054.9 616.3,1057.8 618.7,1061.0 621.1,1064.4 623.5,1068.0 625.9,1071.9 628.4,1075.9 630.8,1080.0 633.2,1084.3 635.6,1088.7 638.0,1093.2 640.5,1097.8 642.9,1102.4 645.3,1107.0 647.7,1111.6 650.1,1116.2 652.6,1120.8 655.0,1125.4 657.4,1129.8 659.8,1134.2 662.2,1138.6 664.7,1142.8 667.1,1146.9 669.5,1150.9 671.9,1154.8 674.3,1158.6 676.8,1162.2 679.2,1165.7 681.6,1169.1 684.0,1172.3 686.4,1175.5 688.9,1178.5 691.3,1181.3 693.7,1184.1 696.1,1186.7 698.5,1189.2 701.0,1191.6 703.4,1193.9 705.8,1196.1 708.2,1198.2" fill="none" stroke="#000" stroke-width="1.6" stroke-linejoin="round"/>
<polyline points="475.9,1199.9 480.7,1198.7 485.6,1197.0 490.4,1194.7 495.3,1191.8 500.1,1188.2 504.9,1183.6 509.8,1178.2 514.6,1171.8 519.5,1164.3 524.3,1155.9 529.1,1146.7 534.0,1136.6 538.8,1126.1 543.7,1115.2 548.5,1104.2 553.3,1093.4 558.2,1083.1 563.0,1073.6 567.9,1065.1 572.7,1057.8 577.5,1051.7 582.4,1047.1 587.2,1043.8 592.1,1041.8 596.9,1040.9 601.7,1040.8 606.6,1041.9 611.4,1044.4 616.3,1048.4 621.1,1053.6 625.9,1060.0 630.8,1067.4 635.6,1075.6 640.5,1084.5 645.3,1093.7 650.1,1103.2 655.0,1112.7 659.8,1122.1 664.7,1131.2 669.5,1139.9 674.3,1148.2 679.2,1155.8 684.0,1162.9 688.9,1169.3 693.7,1175.2 698.5,1180.4 703.4,1185.1 708.2,1189.3" fill="none" stroke="#e8140f" stroke-width="1.6" stroke-linejoin="round"/>
<polyline points="475.9,1199.9 480.7,1198.3 485.6,1196.1 490.4,1193.2 495.3,1189.6 500.1,1185.0 504.9,1179.5 509.8,1173.0 514.6,1165.4 519.5,1156.7 524.3,1147.1 529.1,1136.7 534.0,1125.6 538.8,1114.1 543.7,1102.4 548.5,1091.0 553.3,1079.9 558.2,1069.7 563.0,1060.4 567.9,1052.3 572.7,1045.7 577.5,1040.5 582.4,1036.7 587.2,1034.4 592.1,1033.2 596.9,1033.0 601.7,1033.9 606.6,1036.3 611.4,1040.2 616.3,1045.5 621.1,1052.1 625.9,1059.7 630.8,1068.2 635.6,1077.5 640.5,1087.2 645.3,1097.3 650.1,1107.4 655.0,1117.5 659.8,1127.3 664.7,1136.7 669.5,1145.6 674.3,1154.0 679.2,1161.8 684.0,1168.9 688.9,1175.5 693.7,1181.4 698.5,1186.8 703.4,1191.6 708.2,1196.0" fill="none" stroke="#e8140f" stroke-width="1.6" stroke-linejoin="round"/>
<polyline points="475.9,1199.8 480.7,1195.4 485.6,1190.3 490.4,1184.2 495.3,1177.4 500.1,1169.6 504.9,1161.1 509.8,1151.8 514.6,1141.9 519.5,1131.5 524.3,1120.8 529.1,1110.1 534.0,1099.4 538.8,1089.1 543.7,1079.3 548.5,1070.2 553.3,1062.1 558.2,1055.0 563.0,1049.1 567.9,1044.3 572.7,1040.7 577.5,1038.3 582.4,1036.9 587.2,1036.3 592.1,1036.5 596.9,1037.9 601.7,1040.8 606.6,1045.0 611.4,1050.4 616.3,1056.8 621.1,1064.3 625.9,1072.6 630.8,1081.5 635.6,1090.8 640.5,1100.4 645.3,1110.0 650.1,1119.5 655.0,1128.9 659.8,1137.8 664.7,1146.4 669.5,1154.4 674.3,1161.9 679.2,1168.8 684.0,1175.2 688.9,1181.0 693.7,1186.3 698.5,1191.1 703.4,1195.5 708.2,1199.4" fill="none" stroke="#e8140f" stroke-width="1.6" stroke-linejoin="round"/>
<path d="M466.5 1018.3V1229.2H728.4M460.5 1194.6H466.5M460.5 1152.7H466.5M460.5 1110.8H466.5M460.5 1069.0H466.5M460.5 1027.1H466.5M475.9 1229.2V1235.7M536.4 1229.2V1235.7M596.9 1229.2V1235.7M657.4 1229.2V1235.7M717.9 1229.2V1235.7" fill="none" stroke="#000" stroke-width="1.7" stroke-linejoin="round"/>
<text x="476.7" y="1253.5" font-size="19.2" text-anchor="middle" >0</text>
<text x="597.7" y="1253.5" font-size="19.2" text-anchor="middle" >100</text>
<text x="718.7" y="1253.5" font-size="19.2" text-anchor="middle" >200</text>
<text x="185.4" y="20.8" font-size="22.4" text-anchor="start" >Pre- and post-training VOR gain towards the adapting side</text>
<text x="300.0" y="47.5" font-size="22.4" text-anchor="start" >using two protocols in one subject</text>
<text x="311.7" y="81.6" font-size="19.2" text-anchor="start" font-weight="bold" >Protocol 1: 1 x 5 min block training</text>
<text x="206.7" y="103.9" font-size="19.2" text-anchor="start" >10 epochs @ 30 sec duration each; 0.1 gain increment per epoch)</text>
<path d="M141.5 100.5V87.4H210.8M701 88H765V100" fill="none" stroke="#000" stroke-width="1.7"/>
<text x="205.1" y="677.6" font-size="19.2" text-anchor="start" font-weight="bold" >Protocol 4: 3 x 5 min block training with rest between blocks</text>
<text x="201.9" y="700.1" font-size="19.2" text-anchor="start" >10 epochs @ 30 sec duration each; 0.1 gain increment per epoch)</text>
<path d="M138.2 696V684.5H208M700 684H762V696" fill="none" stroke="#000" stroke-width="1.7"/>
<text x="131.5" y="156.2" font-size="19.2" text-anchor="start" >Pre-training VOR gain = 0.90 ± 0.03</text>
<text x="489.2" y="155.3" font-size="19.2" text-anchor="start" >Post-training VOR gain = 0.93 ± 0.01</text>
<text x="131.5" y="416.0" font-size="19.2" text-anchor="start" >Pre-training VOR gain = 0.93 ± 0.02</text>
<text x="488.5" y="416.0" font-size="19.2" text-anchor="start" >Post-training VOR gain = 0.97 ± 0.02</text>
<text x="128.5" y="752.4" font-size="19.2" text-anchor="start" >Pre-training VOR gain = 0.86 ± 0.01</text>
<text x="486.0" y="735.8" font-size="19.2" text-anchor="start" >Post-training VOR gain = 0.94 ± 0.01</text>
<text x="128.5" y="1011.8" font-size="19.2" text-anchor="start" >Pre-training VOR gain = 0.90 ± 0.03</text>
<text x="486.0" y="1011.8" font-size="19.2" text-anchor="start" >Post-training VOR gain = 0.98 ± 0.02</text>
<text x="709.5" y="184.6" font-size="19.2" text-anchor="start" >+3.4%</text>
<text x="709.0" y="444.7" font-size="19.2" text-anchor="start" >+4.4%</text>
<text x="706.0" y="781.0" font-size="19.2" text-anchor="start" >+9.3%</text>
<text x="706.0" y="1040.0" font-size="19.2" text-anchor="start" >+8.6%</text>
<text x="28.9" y="262.9" font-size="28.7" text-anchor="middle" transform="rotate(-90 28.9 262.9)">Passive VOR</text>
<text x="28.9" y="531.0" font-size="28.7" text-anchor="middle" transform="rotate(-90 28.9 531)">Active VOR</text>
<text x="28.9" y="860.0" font-size="28.7" text-anchor="middle" transform="rotate(-90 28.9 860)">Passive VOR</text>
<text x="28.9" y="1126.0" font-size="28.7" text-anchor="middle" transform="rotate(-90 28.9 1126)">Active VOR</text>
<text x="68.3" y="263.9" font-size="19.2" text-anchor="middle" transform="rotate(-90 68.3 263.9)">Velocity (deg/s)</text>
<text x="68.3" y="530.0" font-size="19.2" text-anchor="middle" transform="rotate(-90 68.3 530)">Velocity (deg/s)</text>
<text x="68.3" y="860.0" font-size="19.2" text-anchor="middle" transform="rotate(-90 68.3 860)">Velocity (deg/s)</text>
<text x="68.3" y="1125.0" font-size="19.2" text-anchor="middle" transform="rotate(-90 68.3 1125)">Velocity (deg/s)</text>
<text x="413.8" y="1276.0" font-size="19.2" text-anchor="start" >Time (ms)</text>
<rect x="327.7" y="177.7" width="111.5" height="49" fill="#fff" stroke="#000" stroke-width="1.5"/>
<path d="M334 190.8H358.5" stroke="#000" stroke-width="2"/>
<path d="M334 212.9H358.5" stroke="#d42020" stroke-width="2"/>
<text x="363.8" y="196.5" font-size="19.2" text-anchor="start" >Head</text>
<text x="363.8" y="217.7" font-size="19.2" text-anchor="start" >(inv) Eye</text>
</svg>
</body></html>
